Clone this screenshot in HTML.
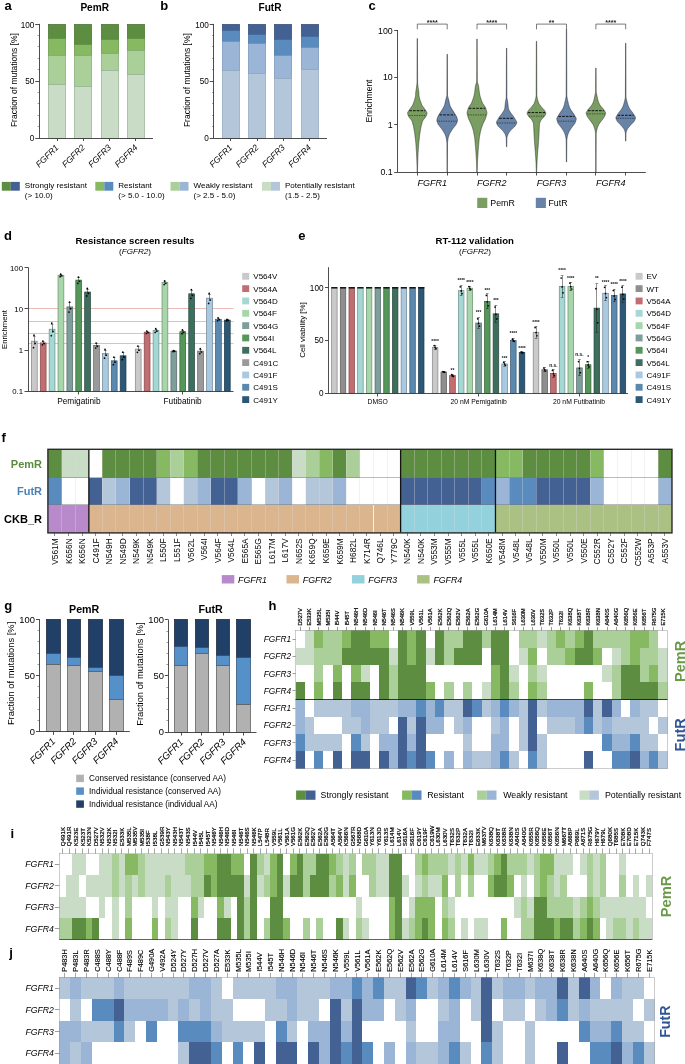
<!DOCTYPE html>
<html><head><meta charset="utf-8"><title>Figure</title>
<style>
html,body{margin:0;padding:0;background:#fff;}
svg{display:block;font-family:"Liberation Sans",sans-serif;}
</style></head><body>
<svg width="685" height="1064" viewBox="0 0 685 1064">
<rect x="0" y="0" width="685" height="1064" fill="#fff"/>
<text x="4.40" y="9.50" font-size="13" text-anchor="start" font-weight="bold" font-style="normal" fill="#000" >a</text>
<text x="94.70" y="10.80" font-size="10.1" text-anchor="middle" font-weight="bold" font-style="normal" fill="#000" >PemR</text>
<text x="160.20" y="9.60" font-size="13" text-anchor="start" font-weight="bold" font-style="normal" fill="#000" >b</text>
<text x="270.00" y="10.80" font-size="10.1" text-anchor="middle" font-weight="bold" font-style="normal" fill="#000" >FutR</text>
<rect x="48.50" y="24.50" width="17.00" height="14.00" fill="#5d8d40" stroke="#3f6a28" stroke-width="0.7" />
<rect x="48.50" y="38.50" width="17.00" height="17.00" fill="#86b961" stroke="#5f9040" stroke-width="0.7" />
<rect x="48.50" y="55.50" width="17.00" height="29.00" fill="#abcf99" stroke="#7fa870" stroke-width="0.7" />
<rect x="48.50" y="84.50" width="17.00" height="54.00" fill="#c9dcc5" stroke="#98b094" stroke-width="0.7" />
<rect x="74.50" y="24.50" width="17.00" height="20.00" fill="#5d8d40" stroke="#3f6a28" stroke-width="0.7" />
<rect x="74.50" y="44.50" width="17.00" height="11.00" fill="#86b961" stroke="#5f9040" stroke-width="0.7" />
<rect x="74.50" y="55.50" width="17.00" height="31.00" fill="#abcf99" stroke="#7fa870" stroke-width="0.7" />
<rect x="74.50" y="86.50" width="17.00" height="52.00" fill="#c9dcc5" stroke="#98b094" stroke-width="0.7" />
<rect x="101.50" y="24.50" width="17.00" height="15.00" fill="#5d8d40" stroke="#3f6a28" stroke-width="0.7" />
<rect x="101.50" y="39.50" width="17.00" height="14.00" fill="#86b961" stroke="#5f9040" stroke-width="0.7" />
<rect x="101.50" y="53.50" width="17.00" height="17.00" fill="#abcf99" stroke="#7fa870" stroke-width="0.7" />
<rect x="101.50" y="70.50" width="17.00" height="68.00" fill="#c9dcc5" stroke="#98b094" stroke-width="0.7" />
<rect x="127.50" y="24.50" width="17.00" height="14.00" fill="#5d8d40" stroke="#3f6a28" stroke-width="0.7" />
<rect x="127.50" y="38.50" width="17.00" height="12.00" fill="#86b961" stroke="#5f9040" stroke-width="0.7" />
<rect x="127.50" y="50.50" width="17.00" height="24.00" fill="#abcf99" stroke="#7fa870" stroke-width="0.7" />
<rect x="127.50" y="74.50" width="17.00" height="64.00" fill="#c9dcc5" stroke="#98b094" stroke-width="0.7" />
<line x1="39.50" y1="23.90" x2="39.50" y2="138.30" stroke="#3a3a3a" stroke-width="0.9" />
<line x1="39.10" y1="138.50" x2="153.00" y2="138.50" stroke="#3a3a3a" stroke-width="0.9" />
<line x1="35.20" y1="138.50" x2="39.40" y2="138.50" stroke="#3a3a3a" stroke-width="0.9" />
<text x="34.40" y="141.35" font-size="8.2" text-anchor="end" font-weight="normal" font-style="normal" fill="#000" >0</text>
<line x1="35.20" y1="81.50" x2="39.40" y2="81.50" stroke="#3a3a3a" stroke-width="0.9" />
<text x="34.40" y="84.45" font-size="8.2" text-anchor="end" font-weight="normal" font-style="normal" fill="#000" >50</text>
<line x1="35.20" y1="24.50" x2="39.40" y2="24.50" stroke="#3a3a3a" stroke-width="0.9" />
<text x="34.40" y="27.55" font-size="8.2" text-anchor="end" font-weight="normal" font-style="normal" fill="#000" >100</text>
<line x1="37.60" y1="126.50" x2="39.40" y2="126.50" stroke="#3a3a3a" stroke-width="0.5" />
<line x1="37.60" y1="115.50" x2="39.40" y2="115.50" stroke="#3a3a3a" stroke-width="0.5" />
<line x1="37.60" y1="103.50" x2="39.40" y2="103.50" stroke="#3a3a3a" stroke-width="0.5" />
<line x1="37.60" y1="92.50" x2="39.40" y2="92.50" stroke="#3a3a3a" stroke-width="0.5" />
<line x1="37.60" y1="69.50" x2="39.40" y2="69.50" stroke="#3a3a3a" stroke-width="0.5" />
<line x1="37.60" y1="58.50" x2="39.40" y2="58.50" stroke="#3a3a3a" stroke-width="0.5" />
<line x1="37.60" y1="46.50" x2="39.40" y2="46.50" stroke="#3a3a3a" stroke-width="0.5" />
<line x1="37.60" y1="35.50" x2="39.40" y2="35.50" stroke="#3a3a3a" stroke-width="0.5" />
<text x="16.80" y="80.10" font-size="8.5" text-anchor="middle" font-weight="normal" font-style="normal" fill="#000" transform="rotate(-90 16.80 80.10)" >Fraction of mutations [%]</text>
<line x1="57.50" y1="138.00" x2="57.50" y2="141.00" stroke="#3a3a3a" stroke-width="0.9" />
<text x="59.25" y="148.00" font-size="8.6" text-anchor="end" font-weight="normal" font-style="italic" fill="#000" transform="rotate(-45 59.25 148.00)" >FGFR1</text>
<line x1="83.50" y1="138.00" x2="83.50" y2="141.00" stroke="#3a3a3a" stroke-width="0.9" />
<text x="85.35" y="148.00" font-size="8.6" text-anchor="end" font-weight="normal" font-style="italic" fill="#000" transform="rotate(-45 85.35 148.00)" >FGFR2</text>
<line x1="109.50" y1="138.00" x2="109.50" y2="141.00" stroke="#3a3a3a" stroke-width="0.9" />
<text x="111.75" y="148.00" font-size="8.6" text-anchor="end" font-weight="normal" font-style="italic" fill="#000" transform="rotate(-45 111.75 148.00)" >FGFR3</text>
<line x1="135.50" y1="138.00" x2="135.50" y2="141.00" stroke="#3a3a3a" stroke-width="0.9" />
<text x="138.05" y="148.00" font-size="8.6" text-anchor="end" font-weight="normal" font-style="italic" fill="#000" transform="rotate(-45 138.05 148.00)" >FGFR4</text>
<rect x="222.50" y="24.50" width="17.00" height="6.00" fill="#446194" stroke="#2c4470" stroke-width="0.7" />
<rect x="222.50" y="30.50" width="17.00" height="11.00" fill="#5a8bbe" stroke="#3f6a98" stroke-width="0.7" />
<rect x="222.50" y="41.50" width="17.00" height="29.00" fill="#9ab5d6" stroke="#7090b8" stroke-width="0.7" />
<rect x="222.50" y="70.50" width="17.00" height="68.00" fill="#b4c7da" stroke="#8fa4bc" stroke-width="0.7" />
<rect x="248.50" y="24.50" width="17.00" height="10.00" fill="#446194" stroke="#2c4470" stroke-width="0.7" />
<rect x="248.50" y="34.50" width="17.00" height="9.00" fill="#5a8bbe" stroke="#3f6a98" stroke-width="0.7" />
<rect x="248.50" y="43.50" width="17.00" height="30.00" fill="#9ab5d6" stroke="#7090b8" stroke-width="0.7" />
<rect x="248.50" y="73.50" width="17.00" height="65.00" fill="#b4c7da" stroke="#8fa4bc" stroke-width="0.7" />
<rect x="274.50" y="24.50" width="17.00" height="15.00" fill="#446194" stroke="#2c4470" stroke-width="0.7" />
<rect x="274.50" y="39.50" width="17.00" height="16.00" fill="#5a8bbe" stroke="#3f6a98" stroke-width="0.7" />
<rect x="274.50" y="55.50" width="17.00" height="23.00" fill="#9ab5d6" stroke="#7090b8" stroke-width="0.7" />
<rect x="274.50" y="78.50" width="17.00" height="60.00" fill="#b4c7da" stroke="#8fa4bc" stroke-width="0.7" />
<rect x="301.50" y="24.50" width="17.00" height="12.00" fill="#446194" stroke="#2c4470" stroke-width="0.7" />
<rect x="301.50" y="36.50" width="17.00" height="11.00" fill="#5a8bbe" stroke="#3f6a98" stroke-width="0.7" />
<rect x="301.50" y="47.50" width="17.00" height="22.00" fill="#9ab5d6" stroke="#7090b8" stroke-width="0.7" />
<rect x="301.50" y="69.50" width="17.00" height="69.00" fill="#b4c7da" stroke="#8fa4bc" stroke-width="0.7" />
<line x1="213.50" y1="23.90" x2="213.50" y2="138.30" stroke="#3a3a3a" stroke-width="0.9" />
<line x1="213.60" y1="138.50" x2="327.00" y2="138.50" stroke="#3a3a3a" stroke-width="0.9" />
<line x1="209.70" y1="138.50" x2="213.90" y2="138.50" stroke="#3a3a3a" stroke-width="0.9" />
<text x="208.90" y="141.35" font-size="8.2" text-anchor="end" font-weight="normal" font-style="normal" fill="#000" >0</text>
<line x1="209.70" y1="81.50" x2="213.90" y2="81.50" stroke="#3a3a3a" stroke-width="0.9" />
<text x="208.90" y="84.45" font-size="8.2" text-anchor="end" font-weight="normal" font-style="normal" fill="#000" >50</text>
<line x1="209.70" y1="24.50" x2="213.90" y2="24.50" stroke="#3a3a3a" stroke-width="0.9" />
<text x="208.90" y="27.55" font-size="8.2" text-anchor="end" font-weight="normal" font-style="normal" fill="#000" >100</text>
<line x1="212.10" y1="126.50" x2="213.90" y2="126.50" stroke="#3a3a3a" stroke-width="0.5" />
<line x1="212.10" y1="115.50" x2="213.90" y2="115.50" stroke="#3a3a3a" stroke-width="0.5" />
<line x1="212.10" y1="103.50" x2="213.90" y2="103.50" stroke="#3a3a3a" stroke-width="0.5" />
<line x1="212.10" y1="92.50" x2="213.90" y2="92.50" stroke="#3a3a3a" stroke-width="0.5" />
<line x1="212.10" y1="69.50" x2="213.90" y2="69.50" stroke="#3a3a3a" stroke-width="0.5" />
<line x1="212.10" y1="58.50" x2="213.90" y2="58.50" stroke="#3a3a3a" stroke-width="0.5" />
<line x1="212.10" y1="46.50" x2="213.90" y2="46.50" stroke="#3a3a3a" stroke-width="0.5" />
<line x1="212.10" y1="35.50" x2="213.90" y2="35.50" stroke="#3a3a3a" stroke-width="0.5" />
<text x="190.00" y="80.10" font-size="8.5" text-anchor="middle" font-weight="normal" font-style="normal" fill="#000" transform="rotate(-90 190.00 80.10)" >Fraction of mutations [%]</text>
<line x1="230.50" y1="138.00" x2="230.50" y2="141.00" stroke="#3a3a3a" stroke-width="0.9" />
<text x="232.95" y="148.00" font-size="8.6" text-anchor="end" font-weight="normal" font-style="italic" fill="#000" transform="rotate(-45 232.95 148.00)" >FGFR1</text>
<line x1="257.50" y1="138.00" x2="257.50" y2="141.00" stroke="#3a3a3a" stroke-width="0.9" />
<text x="259.25" y="148.00" font-size="8.6" text-anchor="end" font-weight="normal" font-style="italic" fill="#000" transform="rotate(-45 259.25 148.00)" >FGFR2</text>
<line x1="283.50" y1="138.00" x2="283.50" y2="141.00" stroke="#3a3a3a" stroke-width="0.9" />
<text x="285.35" y="148.00" font-size="8.6" text-anchor="end" font-weight="normal" font-style="italic" fill="#000" transform="rotate(-45 285.35 148.00)" >FGFR3</text>
<line x1="309.50" y1="138.00" x2="309.50" y2="141.00" stroke="#3a3a3a" stroke-width="0.9" />
<text x="311.75" y="148.00" font-size="8.6" text-anchor="end" font-weight="normal" font-style="italic" fill="#000" transform="rotate(-45 311.75 148.00)" >FGFR4</text>
<rect x="1.80" y="181.90" width="9.00" height="8.80" fill="#5d8d40" />
<rect x="10.80" y="181.90" width="9.00" height="8.80" fill="#446194" />
<text x="24.80" y="188.30" font-size="8.05" text-anchor="start" font-weight="normal" font-style="normal" fill="#000" >Strongly resistant</text>
<text x="24.80" y="197.80" font-size="8.05" text-anchor="start" font-weight="normal" font-style="normal" fill="#000" >(&gt; 10.0)</text>
<rect x="95.30" y="181.90" width="9.00" height="8.80" fill="#86b961" />
<rect x="104.30" y="181.90" width="9.00" height="8.80" fill="#5a8bbe" />
<text x="118.30" y="188.30" font-size="8.05" text-anchor="start" font-weight="normal" font-style="normal" fill="#000" >Resistant</text>
<text x="118.30" y="197.80" font-size="8.05" text-anchor="start" font-weight="normal" font-style="normal" fill="#000" >(&gt; 5.0 - 10.0)</text>
<rect x="170.50" y="181.90" width="9.00" height="8.80" fill="#abcf99" />
<rect x="179.50" y="181.90" width="9.00" height="8.80" fill="#9ab5d6" />
<text x="193.50" y="188.30" font-size="8.05" text-anchor="start" font-weight="normal" font-style="normal" fill="#000" >Weakly resistant</text>
<text x="193.50" y="197.80" font-size="8.05" text-anchor="start" font-weight="normal" font-style="normal" fill="#000" >(&gt; 2.5 - 5.0)</text>
<rect x="262.00" y="181.90" width="9.00" height="8.80" fill="#c9dcc5" />
<rect x="271.00" y="181.90" width="9.00" height="8.80" fill="#b4c7da" />
<text x="285.00" y="188.30" font-size="8.05" text-anchor="start" font-weight="normal" font-style="normal" fill="#000" >Potentially resistant</text>
<text x="285.00" y="197.80" font-size="8.05" text-anchor="start" font-weight="normal" font-style="normal" fill="#000" >(1.5 - 2.5)</text>
<text x="368.50" y="10.00" font-size="13" text-anchor="start" font-weight="bold" font-style="normal" fill="#000" >c</text>
<line x1="397.50" y1="30.00" x2="397.50" y2="172.30" stroke="#3a3a3a" stroke-width="0.9" />
<line x1="397.40" y1="172.50" x2="645.80" y2="172.50" stroke="#3a3a3a" stroke-width="0.9" />
<line x1="394.20" y1="30.50" x2="397.70" y2="30.50" stroke="#3a3a3a" stroke-width="0.9" />
<text x="392.70" y="33.50" font-size="8.8" text-anchor="end" font-weight="normal" font-style="normal" fill="#000" >100</text>
<line x1="394.20" y1="77.50" x2="397.70" y2="77.50" stroke="#3a3a3a" stroke-width="0.9" />
<text x="392.70" y="80.40" font-size="8.8" text-anchor="end" font-weight="normal" font-style="normal" fill="#000" >10</text>
<line x1="394.20" y1="124.50" x2="397.70" y2="124.50" stroke="#3a3a3a" stroke-width="0.9" />
<text x="392.70" y="128.00" font-size="8.8" text-anchor="end" font-weight="normal" font-style="normal" fill="#000" >1</text>
<line x1="394.20" y1="172.50" x2="397.70" y2="172.50" stroke="#3a3a3a" stroke-width="0.9" />
<text x="392.70" y="175.20" font-size="8.8" text-anchor="end" font-weight="normal" font-style="normal" fill="#000" >0.1</text>
<text x="371.70" y="101.00" font-size="8.5" text-anchor="middle" font-weight="normal" font-style="normal" fill="#000" transform="rotate(-90 371.70 101.00)" >Enrichment</text>
<polygon points="417.15,38.50 417.15,39.00 417.15,39.50 417.14,39.99 417.14,40.49 417.14,40.99 417.14,41.49 417.14,41.99 417.14,42.49 417.13,42.98 417.13,43.48 417.13,43.98 417.13,44.48 417.13,44.98 417.13,45.47 417.12,45.97 417.12,46.47 417.12,46.97 417.12,47.47 417.12,47.96 417.12,48.46 417.11,48.96 417.11,49.46 417.11,49.96 417.11,50.46 417.11,50.95 417.11,51.45 417.10,51.95 417.10,52.45 417.10,52.95 417.10,53.44 417.10,53.94 417.10,54.44 417.09,54.94 417.09,55.44 417.09,55.93 417.09,56.43 417.09,56.93 417.09,57.43 417.08,57.93 417.08,58.43 417.08,58.92 417.08,59.42 417.08,59.92 417.08,60.42 417.07,60.92 417.07,61.41 417.07,61.91 417.07,62.41 417.07,62.91 417.07,63.41 417.06,63.90 417.06,64.40 417.06,64.90 417.06,65.40 417.06,65.90 417.06,66.40 417.05,66.89 417.05,67.39 417.05,67.89 417.05,68.39 417.05,68.89 417.05,69.38 417.04,69.88 417.04,70.38 417.04,70.88 417.04,71.38 417.04,71.88 417.04,72.37 417.03,72.87 417.03,73.37 417.03,73.87 417.03,74.37 417.03,74.86 417.03,75.36 417.02,75.86 417.02,76.36 417.02,76.86 417.02,77.35 417.02,77.85 417.02,78.35 417.01,78.85 417.01,79.35 417.01,79.85 417.01,80.34 417.01,80.84 417.01,81.34 417.00,81.84 416.99,82.34 416.97,82.83 416.94,83.33 416.90,83.83 416.84,84.33 416.79,84.83 416.73,85.32 416.67,85.82 416.61,86.32 416.55,86.82 416.50,87.32 416.44,87.82 416.37,88.31 416.30,88.81 416.22,89.31 416.13,89.81 416.04,90.31 415.94,90.80 415.85,91.30 415.78,91.80 415.73,92.30 415.69,92.80 415.67,93.29 415.66,93.79 415.64,94.29 415.63,94.79 415.60,95.29 415.56,95.79 415.48,96.28 415.39,96.78 415.28,97.28 415.15,97.78 415.03,98.28 414.90,98.77 414.77,99.27 414.63,99.77 414.48,100.27 414.31,100.77 414.13,101.26 413.95,101.76 413.76,102.26 413.58,102.76 413.39,103.26 413.21,103.76 413.01,104.25 412.80,104.75 412.56,105.25 412.27,105.75 411.93,106.25 411.57,106.74 411.19,107.24 410.81,107.74 410.44,108.24 410.07,108.74 409.72,109.24 409.38,109.73 409.05,110.23 408.73,110.73 408.42,111.23 408.12,111.73 407.86,112.22 407.67,112.72 407.60,113.22 407.64,113.72 407.77,114.22 407.93,114.71 408.12,115.21 408.31,115.71 408.53,116.21 408.79,116.71 409.11,117.21 409.48,117.70 409.89,118.20 410.30,118.70 410.71,119.20 411.11,119.70 411.47,120.19 411.78,120.69 412.01,121.19 412.19,121.69 412.34,122.19 412.49,122.68 412.63,123.18 412.76,123.68 412.90,124.18 413.04,124.68 413.18,125.18 413.31,125.67 413.44,126.17 413.54,126.67 413.64,127.17 413.73,127.67 413.81,128.16 413.90,128.66 413.98,129.16 414.07,129.66 414.15,130.16 414.24,130.65 414.32,131.15 414.40,131.65 414.49,132.15 414.57,132.65 414.65,133.15 414.73,133.64 414.80,134.14 414.87,134.64 414.93,135.14 414.98,135.64 415.04,136.13 415.09,136.63 415.15,137.13 415.20,137.63 415.26,138.13 415.31,138.62 415.37,139.12 415.42,139.62 415.48,140.12 415.54,140.62 415.59,141.12 415.65,141.61 415.70,142.11 415.75,142.61 415.80,143.11 415.84,143.61 415.88,144.10 415.91,144.60 415.95,145.10 415.98,145.60 416.02,146.10 416.05,146.60 416.09,147.09 416.12,147.59 416.16,148.09 416.19,148.59 416.23,149.09 416.26,149.58 416.30,150.08 416.33,150.58 416.37,151.08 416.40,151.58 416.43,152.07 416.47,152.57 416.50,153.07 416.52,153.57 416.55,154.07 416.57,154.57 416.59,155.06 416.61,155.56 416.64,156.06 416.66,156.56 416.68,157.06 416.70,157.55 416.72,158.05 416.75,158.55 416.77,159.05 416.79,159.55 416.81,160.04 416.84,160.54 416.86,161.04 416.88,161.54 416.90,162.04 416.91,162.54 416.93,163.03 416.94,163.53 416.95,164.03 416.96,164.53 416.98,165.03 416.99,165.52 417.00,166.02 417.01,166.52 417.03,167.02 417.04,167.52 417.05,168.01 417.06,168.51 417.08,169.01 417.09,169.51 417.10,170.01 417.11,170.51 417.12,171.00 417.13,171.50 417.14,172.00 417.46,172.00 417.47,171.50 417.48,171.00 417.49,170.51 417.50,170.01 417.51,169.51 417.52,169.01 417.54,168.51 417.55,168.01 417.56,167.52 417.57,167.02 417.59,166.52 417.60,166.02 417.61,165.52 417.62,165.03 417.64,164.53 417.65,164.03 417.66,163.53 417.67,163.03 417.69,162.54 417.70,162.04 417.72,161.54 417.74,161.04 417.76,160.54 417.79,160.04 417.81,159.55 417.83,159.05 417.85,158.55 417.88,158.05 417.90,157.55 417.92,157.06 417.94,156.56 417.96,156.06 417.99,155.56 418.01,155.06 418.03,154.57 418.05,154.07 418.08,153.57 418.10,153.07 418.13,152.57 418.17,152.07 418.20,151.58 418.23,151.08 418.27,150.58 418.30,150.08 418.34,149.58 418.37,149.09 418.41,148.59 418.44,148.09 418.48,147.59 418.51,147.09 418.55,146.60 418.58,146.10 418.62,145.60 418.65,145.10 418.69,144.60 418.72,144.10 418.76,143.61 418.80,143.11 418.85,142.61 418.90,142.11 418.95,141.61 419.01,141.12 419.06,140.62 419.12,140.12 419.18,139.62 419.23,139.12 419.29,138.62 419.34,138.13 419.40,137.63 419.45,137.13 419.51,136.63 419.56,136.13 419.62,135.64 419.67,135.14 419.73,134.64 419.80,134.14 419.87,133.64 419.95,133.15 420.03,132.65 420.11,132.15 420.20,131.65 420.28,131.15 420.36,130.65 420.45,130.16 420.53,129.66 420.62,129.16 420.70,128.66 420.79,128.16 420.87,127.67 420.96,127.17 421.06,126.67 421.16,126.17 421.29,125.67 421.42,125.18 421.56,124.68 421.70,124.18 421.84,123.68 421.97,123.18 422.11,122.68 422.26,122.19 422.41,121.69 422.59,121.19 422.82,120.69 423.13,120.19 423.49,119.70 423.89,119.20 424.30,118.70 424.71,118.20 425.12,117.70 425.49,117.21 425.81,116.71 426.07,116.21 426.29,115.71 426.48,115.21 426.67,114.71 426.83,114.22 426.96,113.72 427.00,113.22 426.93,112.72 426.74,112.22 426.48,111.73 426.18,111.23 425.87,110.73 425.55,110.23 425.22,109.73 424.88,109.24 424.53,108.74 424.16,108.24 423.79,107.74 423.41,107.24 423.03,106.74 422.67,106.25 422.33,105.75 422.04,105.25 421.80,104.75 421.59,104.25 421.39,103.76 421.21,103.26 421.02,102.76 420.84,102.26 420.65,101.76 420.47,101.26 420.29,100.77 420.12,100.27 419.97,99.77 419.83,99.27 419.70,98.77 419.57,98.28 419.45,97.78 419.32,97.28 419.21,96.78 419.12,96.28 419.04,95.79 419.00,95.29 418.97,94.79 418.96,94.29 418.94,93.79 418.93,93.29 418.91,92.80 418.87,92.30 418.82,91.80 418.75,91.30 418.66,90.80 418.56,90.31 418.47,89.81 418.38,89.31 418.30,88.81 418.23,88.31 418.16,87.82 418.10,87.32 418.05,86.82 417.99,86.32 417.93,85.82 417.87,85.32 417.81,84.83 417.76,84.33 417.70,83.83 417.66,83.33 417.63,82.83 417.61,82.34 417.60,81.84 417.59,81.34 417.59,80.84 417.59,80.34 417.59,79.85 417.59,79.35 417.59,78.85 417.58,78.35 417.58,77.85 417.58,77.35 417.58,76.86 417.58,76.36 417.58,75.86 417.57,75.36 417.57,74.86 417.57,74.37 417.57,73.87 417.57,73.37 417.57,72.87 417.56,72.37 417.56,71.88 417.56,71.38 417.56,70.88 417.56,70.38 417.56,69.88 417.55,69.38 417.55,68.89 417.55,68.39 417.55,67.89 417.55,67.39 417.55,66.89 417.54,66.40 417.54,65.90 417.54,65.40 417.54,64.90 417.54,64.40 417.54,63.90 417.53,63.41 417.53,62.91 417.53,62.41 417.53,61.91 417.53,61.41 417.53,60.92 417.52,60.42 417.52,59.92 417.52,59.42 417.52,58.92 417.52,58.43 417.52,57.93 417.51,57.43 417.51,56.93 417.51,56.43 417.51,55.93 417.51,55.44 417.51,54.94 417.50,54.44 417.50,53.94 417.50,53.44 417.50,52.95 417.50,52.45 417.50,51.95 417.49,51.45 417.49,50.95 417.49,50.46 417.49,49.96 417.49,49.46 417.49,48.96 417.48,48.46 417.48,47.96 417.48,47.47 417.48,46.97 417.48,46.47 417.48,45.97 417.47,45.47 417.47,44.98 417.47,44.48 417.47,43.98 417.47,43.48 417.47,42.98 417.46,42.49 417.46,41.99 417.46,41.49 417.46,40.99 417.46,40.49 417.46,39.99 417.45,39.50 417.45,39.00 417.45,38.50" fill="#7a9e62" stroke="#111" stroke-width="0.45" stroke-linejoin="round"/>
<line x1="409.35" y1="110.70" x2="425.25" y2="110.70" stroke="#111" stroke-width="1.0" stroke-dasharray="2.6 1.1"/>
<line x1="408.83" y1="115.50" x2="425.77" y2="115.50" stroke="#111" stroke-width="0.7" stroke-dasharray="0.8 0.9"/>
<polygon points="447.05,54.20 447.05,54.70 447.05,55.20 447.04,55.70 447.04,56.20 447.04,56.70 447.04,57.19 447.04,57.69 447.04,58.19 447.03,58.69 447.03,59.19 447.03,59.69 447.03,60.19 447.03,60.69 447.02,61.19 447.02,61.69 447.02,62.19 447.02,62.69 447.02,63.18 447.02,63.68 447.01,64.18 447.01,64.68 447.01,65.18 447.01,65.68 447.01,66.18 447.00,66.68 447.00,67.18 447.00,67.68 447.00,68.18 447.00,68.68 447.00,69.17 446.99,69.67 446.99,70.17 446.99,70.67 446.99,71.17 446.99,71.67 446.98,72.17 446.98,72.67 446.98,73.17 446.98,73.67 446.98,74.17 446.98,74.67 446.97,75.16 446.97,75.66 446.97,76.16 446.97,76.66 446.97,77.16 446.96,77.66 446.96,78.16 446.96,78.66 446.96,79.16 446.96,79.66 446.96,80.16 446.95,80.66 446.95,81.15 446.95,81.65 446.95,82.15 446.95,82.65 446.95,83.15 446.94,83.65 446.94,84.15 446.94,84.65 446.94,85.15 446.94,85.65 446.93,86.15 446.93,86.64 446.93,87.14 446.93,87.64 446.93,88.14 446.93,88.64 446.92,89.14 446.92,89.64 446.92,90.14 446.92,90.64 446.92,91.14 446.91,91.64 446.91,92.14 446.91,92.63 446.91,93.13 446.91,93.63 446.90,94.13 446.89,94.63 446.87,95.13 446.81,95.63 446.72,96.13 446.61,96.63 446.48,97.13 446.34,97.63 446.21,98.13 446.07,98.62 445.94,99.12 445.81,99.62 445.69,100.12 445.58,100.62 445.47,101.12 445.36,101.62 445.25,102.12 445.15,102.62 445.04,103.12 444.93,103.62 444.82,104.12 444.70,104.61 444.56,105.11 444.39,105.61 444.18,106.11 443.93,106.61 443.66,107.11 443.38,107.61 443.10,108.11 442.82,108.61 442.52,109.11 442.22,109.61 441.90,110.11 441.58,110.60 441.25,111.10 440.92,111.60 440.59,112.10 440.27,112.60 439.95,113.10 439.64,113.60 439.34,114.10 439.03,114.60 438.73,115.10 438.44,115.60 438.15,116.09 437.90,116.59 437.69,117.09 437.51,117.59 437.37,118.09 437.23,118.59 437.10,119.09 436.99,119.59 436.91,120.09 436.89,120.59 436.96,121.09 437.09,121.59 437.25,122.08 437.43,122.58 437.62,123.08 437.83,123.58 438.06,124.08 438.35,124.58 438.69,125.08 439.06,125.58 439.46,126.08 439.86,126.58 440.26,127.08 440.67,127.58 441.07,128.07 441.45,128.57 441.82,129.07 442.17,129.57 442.50,130.07 442.82,130.57 443.13,131.07 443.44,131.57 443.75,132.07 444.06,132.57 444.36,133.07 444.64,133.57 444.89,134.06 445.11,134.56 445.30,135.06 445.48,135.56 445.66,136.06 445.83,136.56 445.99,137.06 446.12,137.56 446.24,138.06 446.33,138.56 446.40,139.06 446.47,139.56 446.54,140.05 446.61,140.55 446.68,141.05 446.75,141.55 446.81,142.05 446.85,142.55 446.88,143.05 446.90,143.55 446.91,144.05 446.91,144.55 446.91,145.05 446.92,145.54 446.92,146.04 446.92,146.54 446.92,147.04 446.93,147.54 446.93,148.04 446.93,148.54 446.93,149.04 446.94,149.54 446.94,150.04 446.94,150.54 446.94,151.04 446.95,151.53 446.95,152.03 446.95,152.53 446.95,153.03 446.96,153.53 446.96,154.03 446.96,154.53 446.96,155.03 446.97,155.53 446.97,156.03 446.97,156.53 446.97,157.03 446.98,157.52 446.98,158.02 446.98,158.52 446.98,159.02 446.99,159.52 446.99,160.02 446.99,160.52 446.99,161.02 447.00,161.52 447.00,162.02 447.00,162.52 447.00,163.02 447.01,163.51 447.01,164.01 447.01,164.51 447.01,165.01 447.02,165.51 447.02,166.01 447.02,166.51 447.02,167.01 447.03,167.51 447.03,168.01 447.03,168.51 447.03,169.01 447.04,169.50 447.04,170.00 447.04,170.50 447.04,171.00 447.05,171.50 447.05,172.00 447.35,172.00 447.35,171.50 447.36,171.00 447.36,170.50 447.36,170.00 447.36,169.50 447.37,169.01 447.37,168.51 447.37,168.01 447.37,167.51 447.38,167.01 447.38,166.51 447.38,166.01 447.38,165.51 447.39,165.01 447.39,164.51 447.39,164.01 447.39,163.51 447.40,163.02 447.40,162.52 447.40,162.02 447.40,161.52 447.41,161.02 447.41,160.52 447.41,160.02 447.41,159.52 447.42,159.02 447.42,158.52 447.42,158.02 447.42,157.52 447.43,157.03 447.43,156.53 447.43,156.03 447.43,155.53 447.44,155.03 447.44,154.53 447.44,154.03 447.44,153.53 447.45,153.03 447.45,152.53 447.45,152.03 447.45,151.53 447.46,151.04 447.46,150.54 447.46,150.04 447.46,149.54 447.47,149.04 447.47,148.54 447.47,148.04 447.47,147.54 447.48,147.04 447.48,146.54 447.48,146.04 447.48,145.54 447.49,145.05 447.49,144.55 447.49,144.05 447.50,143.55 447.52,143.05 447.55,142.55 447.59,142.05 447.65,141.55 447.72,141.05 447.79,140.55 447.86,140.05 447.93,139.56 448.00,139.06 448.07,138.56 448.16,138.06 448.28,137.56 448.41,137.06 448.57,136.56 448.74,136.06 448.92,135.56 449.10,135.06 449.29,134.56 449.51,134.06 449.76,133.57 450.04,133.07 450.34,132.57 450.65,132.07 450.96,131.57 451.27,131.07 451.58,130.57 451.90,130.07 452.23,129.57 452.58,129.07 452.95,128.57 453.33,128.07 453.73,127.58 454.14,127.08 454.54,126.58 454.94,126.08 455.34,125.58 455.71,125.08 456.05,124.58 456.34,124.08 456.57,123.58 456.78,123.08 456.97,122.58 457.15,122.08 457.31,121.59 457.44,121.09 457.51,120.59 457.49,120.09 457.41,119.59 457.30,119.09 457.17,118.59 457.03,118.09 456.89,117.59 456.71,117.09 456.50,116.59 456.25,116.09 455.96,115.60 455.67,115.10 455.37,114.60 455.06,114.10 454.76,113.60 454.45,113.10 454.13,112.60 453.81,112.10 453.48,111.60 453.15,111.10 452.82,110.60 452.50,110.11 452.18,109.61 451.88,109.11 451.58,108.61 451.30,108.11 451.02,107.61 450.74,107.11 450.47,106.61 450.22,106.11 450.01,105.61 449.84,105.11 449.70,104.61 449.58,104.12 449.47,103.62 449.36,103.12 449.25,102.62 449.15,102.12 449.04,101.62 448.93,101.12 448.82,100.62 448.71,100.12 448.59,99.62 448.46,99.12 448.33,98.62 448.19,98.13 448.06,97.63 447.92,97.13 447.79,96.63 447.68,96.13 447.59,95.63 447.53,95.13 447.51,94.63 447.50,94.13 447.49,93.63 447.49,93.13 447.49,92.63 447.49,92.14 447.49,91.64 447.48,91.14 447.48,90.64 447.48,90.14 447.48,89.64 447.48,89.14 447.47,88.64 447.47,88.14 447.47,87.64 447.47,87.14 447.47,86.64 447.47,86.15 447.46,85.65 447.46,85.15 447.46,84.65 447.46,84.15 447.46,83.65 447.45,83.15 447.45,82.65 447.45,82.15 447.45,81.65 447.45,81.15 447.45,80.66 447.44,80.16 447.44,79.66 447.44,79.16 447.44,78.66 447.44,78.16 447.44,77.66 447.43,77.16 447.43,76.66 447.43,76.16 447.43,75.66 447.43,75.16 447.42,74.67 447.42,74.17 447.42,73.67 447.42,73.17 447.42,72.67 447.42,72.17 447.41,71.67 447.41,71.17 447.41,70.67 447.41,70.17 447.41,69.67 447.40,69.17 447.40,68.68 447.40,68.18 447.40,67.68 447.40,67.18 447.40,66.68 447.39,66.18 447.39,65.68 447.39,65.18 447.39,64.68 447.39,64.18 447.38,63.68 447.38,63.18 447.38,62.69 447.38,62.19 447.38,61.69 447.38,61.19 447.37,60.69 447.37,60.19 447.37,59.69 447.37,59.19 447.37,58.69 447.36,58.19 447.36,57.69 447.36,57.19 447.36,56.70 447.36,56.20 447.36,55.70 447.35,55.20 447.35,54.70 447.35,54.20" fill="#6783a8" stroke="#111" stroke-width="0.45" stroke-linejoin="round"/>
<line x1="439.45" y1="114.90" x2="454.95" y2="114.90" stroke="#111" stroke-width="1.0" stroke-dasharray="2.6 1.1"/>
<line x1="437.59" y1="121.20" x2="456.81" y2="121.20" stroke="#111" stroke-width="0.7" stroke-dasharray="0.8 0.9"/>
<polygon points="476.85,39.00 476.85,39.50 476.85,40.00 476.84,40.49 476.84,40.99 476.84,41.49 476.84,41.99 476.84,42.49 476.84,42.99 476.83,43.48 476.83,43.98 476.83,44.48 476.83,44.98 476.83,45.48 476.83,45.97 476.82,46.47 476.82,46.97 476.82,47.47 476.82,47.97 476.82,48.46 476.82,48.96 476.81,49.46 476.81,49.96 476.81,50.46 476.81,50.96 476.81,51.45 476.80,51.95 476.80,52.45 476.80,52.95 476.80,53.45 476.80,53.94 476.80,54.44 476.79,54.94 476.79,55.44 476.79,55.94 476.79,56.43 476.79,56.93 476.79,57.43 476.78,57.93 476.78,58.43 476.78,58.93 476.78,59.42 476.78,59.92 476.78,60.42 476.77,60.92 476.77,61.42 476.77,61.91 476.77,62.41 476.77,62.91 476.76,63.41 476.76,63.91 476.76,64.40 476.76,64.90 476.76,65.40 476.76,65.90 476.75,66.40 476.75,66.90 476.75,67.39 476.75,67.89 476.75,68.39 476.75,68.89 476.74,69.39 476.74,69.88 476.74,70.38 476.74,70.88 476.74,71.38 476.74,71.88 476.73,72.37 476.73,72.87 476.73,73.37 476.73,73.87 476.73,74.37 476.72,74.87 476.72,75.36 476.72,75.86 476.72,76.36 476.72,76.86 476.72,77.36 476.71,77.85 476.71,78.35 476.71,78.85 476.71,79.35 476.71,79.85 476.70,80.34 476.70,80.84 476.67,81.34 476.62,81.84 476.52,82.34 476.39,82.84 476.24,83.33 476.07,83.83 475.91,84.33 475.75,84.83 475.61,85.33 475.50,85.82 475.41,86.32 475.34,86.82 475.28,87.32 475.21,87.82 475.15,88.31 475.09,88.81 475.03,89.31 474.97,89.81 474.91,90.31 474.85,90.81 474.78,91.30 474.71,91.80 474.64,92.30 474.56,92.80 474.47,93.30 474.39,93.79 474.30,94.29 474.21,94.79 474.11,95.29 474.00,95.79 473.88,96.28 473.74,96.78 473.58,97.28 473.42,97.78 473.26,98.28 473.10,98.78 472.93,99.27 472.75,99.77 472.57,100.27 472.38,100.77 472.18,101.27 471.98,101.76 471.78,102.26 471.57,102.76 471.32,103.26 471.04,103.76 470.72,104.25 470.37,104.75 470.01,105.25 469.65,105.75 469.29,106.25 468.96,106.75 468.67,107.24 468.44,107.74 468.26,108.24 468.10,108.74 467.96,109.24 467.82,109.73 467.68,110.23 467.54,110.73 467.40,111.23 467.27,111.73 467.16,112.22 467.09,112.72 467.09,113.22 467.15,113.72 467.25,114.22 467.38,114.72 467.52,115.21 467.66,115.71 467.80,116.21 467.94,116.71 468.08,117.21 468.23,117.70 468.38,118.20 468.56,118.70 468.77,119.20 469.00,119.70 469.24,120.19 469.48,120.69 469.72,121.19 469.97,121.69 470.21,122.19 470.46,122.69 470.70,123.18 470.94,123.68 471.16,124.18 471.36,124.68 471.55,125.18 471.73,125.67 471.90,126.17 472.07,126.67 472.24,127.17 472.41,127.67 472.58,128.16 472.74,128.66 472.91,129.16 473.06,129.66 473.20,130.16 473.31,130.66 473.42,131.15 473.52,131.65 473.62,132.15 473.72,132.65 473.81,133.15 473.91,133.64 474.01,134.14 474.10,134.64 474.20,135.14 474.30,135.64 474.39,136.13 474.49,136.63 474.58,137.13 474.66,137.63 474.72,138.13 474.78,138.63 474.82,139.12 474.87,139.62 474.91,140.12 474.96,140.62 475.00,141.12 475.05,141.61 475.09,142.11 475.13,142.61 475.18,143.11 475.22,143.61 475.27,144.10 475.31,144.60 475.35,145.10 475.40,145.60 475.44,146.10 475.49,146.60 475.53,147.09 475.58,147.59 475.62,148.09 475.66,148.59 475.70,149.09 475.73,149.58 475.77,150.08 475.80,150.58 475.83,151.08 475.86,151.58 475.89,152.07 475.92,152.57 475.95,153.07 475.98,153.57 476.01,154.07 476.04,154.57 476.07,155.06 476.10,155.56 476.13,156.06 476.16,156.56 476.19,157.06 476.23,157.55 476.26,158.05 476.29,158.55 476.32,159.05 476.35,159.55 476.37,160.04 476.40,160.54 476.42,161.04 476.44,161.54 476.46,162.04 476.48,162.54 476.50,163.03 476.52,163.53 476.54,164.03 476.56,164.53 476.58,165.03 476.60,165.52 476.62,166.02 476.64,166.52 476.66,167.02 476.68,167.52 476.70,168.01 476.71,168.51 476.73,169.01 476.75,169.51 476.77,170.01 476.79,170.51 476.81,171.00 476.83,171.50 476.84,172.00 477.16,172.00 477.17,171.50 477.19,171.00 477.21,170.51 477.23,170.01 477.25,169.51 477.27,169.01 477.29,168.51 477.30,168.01 477.32,167.52 477.34,167.02 477.36,166.52 477.38,166.02 477.40,165.52 477.42,165.03 477.44,164.53 477.46,164.03 477.48,163.53 477.50,163.03 477.52,162.54 477.54,162.04 477.56,161.54 477.58,161.04 477.60,160.54 477.63,160.04 477.65,159.55 477.68,159.05 477.71,158.55 477.74,158.05 477.77,157.55 477.81,157.06 477.84,156.56 477.87,156.06 477.90,155.56 477.93,155.06 477.96,154.57 477.99,154.07 478.02,153.57 478.05,153.07 478.08,152.57 478.11,152.07 478.14,151.58 478.17,151.08 478.20,150.58 478.23,150.08 478.27,149.58 478.30,149.09 478.34,148.59 478.38,148.09 478.42,147.59 478.47,147.09 478.51,146.60 478.56,146.10 478.60,145.60 478.65,145.10 478.69,144.60 478.73,144.10 478.78,143.61 478.82,143.11 478.87,142.61 478.91,142.11 478.95,141.61 479.00,141.12 479.04,140.62 479.09,140.12 479.13,139.62 479.18,139.12 479.22,138.63 479.28,138.13 479.34,137.63 479.42,137.13 479.51,136.63 479.61,136.13 479.70,135.64 479.80,135.14 479.90,134.64 479.99,134.14 480.09,133.64 480.19,133.15 480.28,132.65 480.38,132.15 480.48,131.65 480.58,131.15 480.69,130.66 480.80,130.16 480.94,129.66 481.09,129.16 481.26,128.66 481.42,128.16 481.59,127.67 481.76,127.17 481.93,126.67 482.10,126.17 482.27,125.67 482.45,125.18 482.64,124.68 482.84,124.18 483.06,123.68 483.30,123.18 483.54,122.69 483.79,122.19 484.03,121.69 484.28,121.19 484.52,120.69 484.76,120.19 485.00,119.70 485.23,119.20 485.44,118.70 485.62,118.20 485.77,117.70 485.92,117.21 486.06,116.71 486.20,116.21 486.34,115.71 486.48,115.21 486.62,114.72 486.75,114.22 486.85,113.72 486.91,113.22 486.91,112.72 486.84,112.22 486.73,111.73 486.60,111.23 486.46,110.73 486.32,110.23 486.18,109.73 486.04,109.24 485.90,108.74 485.74,108.24 485.56,107.74 485.33,107.24 485.04,106.75 484.71,106.25 484.35,105.75 483.99,105.25 483.63,104.75 483.28,104.25 482.96,103.76 482.68,103.26 482.43,102.76 482.22,102.26 482.02,101.76 481.82,101.27 481.62,100.77 481.43,100.27 481.25,99.77 481.07,99.27 480.90,98.78 480.74,98.28 480.58,97.78 480.42,97.28 480.26,96.78 480.12,96.28 480.00,95.79 479.89,95.29 479.79,94.79 479.70,94.29 479.61,93.79 479.53,93.30 479.44,92.80 479.36,92.30 479.29,91.80 479.22,91.30 479.15,90.81 479.09,90.31 479.03,89.81 478.97,89.31 478.91,88.81 478.85,88.31 478.79,87.82 478.72,87.32 478.66,86.82 478.59,86.32 478.50,85.82 478.39,85.33 478.25,84.83 478.09,84.33 477.93,83.83 477.76,83.33 477.61,82.84 477.48,82.34 477.38,81.84 477.33,81.34 477.30,80.84 477.30,80.34 477.29,79.85 477.29,79.35 477.29,78.85 477.29,78.35 477.29,77.85 477.28,77.36 477.28,76.86 477.28,76.36 477.28,75.86 477.28,75.36 477.28,74.87 477.27,74.37 477.27,73.87 477.27,73.37 477.27,72.87 477.27,72.37 477.26,71.88 477.26,71.38 477.26,70.88 477.26,70.38 477.26,69.88 477.26,69.39 477.25,68.89 477.25,68.39 477.25,67.89 477.25,67.39 477.25,66.90 477.25,66.40 477.24,65.90 477.24,65.40 477.24,64.90 477.24,64.40 477.24,63.91 477.24,63.41 477.23,62.91 477.23,62.41 477.23,61.91 477.23,61.42 477.23,60.92 477.22,60.42 477.22,59.92 477.22,59.42 477.22,58.93 477.22,58.43 477.22,57.93 477.21,57.43 477.21,56.93 477.21,56.43 477.21,55.94 477.21,55.44 477.21,54.94 477.20,54.44 477.20,53.94 477.20,53.45 477.20,52.95 477.20,52.45 477.20,51.95 477.19,51.45 477.19,50.96 477.19,50.46 477.19,49.96 477.19,49.46 477.18,48.96 477.18,48.46 477.18,47.97 477.18,47.47 477.18,46.97 477.18,46.47 477.17,45.97 477.17,45.48 477.17,44.98 477.17,44.48 477.17,43.98 477.17,43.48 477.16,42.99 477.16,42.49 477.16,41.99 477.16,41.49 477.16,40.99 477.16,40.49 477.15,40.00 477.15,39.50 477.15,39.00" fill="#7a9e62" stroke="#111" stroke-width="0.45" stroke-linejoin="round"/>
<line x1="468.84" y1="108.30" x2="485.16" y2="108.30" stroke="#111" stroke-width="1.0" stroke-dasharray="2.6 1.1"/>
<line x1="468.03" y1="114.90" x2="485.97" y2="114.90" stroke="#111" stroke-width="0.7" stroke-dasharray="0.8 0.9"/>
<polygon points="506.45,48.10 506.45,48.60 506.45,49.10 506.45,49.60 506.44,50.09 506.44,50.59 506.44,51.09 506.44,51.59 506.44,52.09 506.44,52.59 506.43,53.08 506.43,53.58 506.43,54.08 506.43,54.58 506.43,55.08 506.43,55.58 506.43,56.08 506.42,56.57 506.42,57.07 506.42,57.57 506.42,58.07 506.42,58.57 506.42,59.07 506.42,59.57 506.41,60.06 506.41,60.56 506.41,61.06 506.41,61.56 506.41,62.06 506.41,62.56 506.40,63.05 506.40,63.55 506.40,64.05 506.40,64.55 506.40,65.05 506.40,65.55 506.40,66.05 506.39,66.54 506.39,67.04 506.39,67.54 506.39,68.04 506.39,68.54 506.39,69.04 506.39,69.53 506.38,70.03 506.38,70.53 506.38,71.03 506.38,71.53 506.38,72.03 506.38,72.53 506.37,73.02 506.37,73.52 506.37,74.02 506.37,74.52 506.37,75.02 506.37,75.52 506.37,76.02 506.36,76.51 506.36,77.01 506.36,77.51 506.36,78.01 506.36,78.51 506.36,79.01 506.36,79.50 506.35,80.00 506.35,80.50 506.35,81.00 506.35,81.50 506.35,82.00 506.35,82.50 506.34,82.99 506.34,83.49 506.34,83.99 506.34,84.49 506.34,84.99 506.34,85.49 506.34,85.98 506.33,86.48 506.33,86.98 506.33,87.48 506.33,87.98 506.33,88.48 506.33,88.98 506.33,89.47 506.32,89.97 506.32,90.47 506.32,90.97 506.32,91.47 506.32,91.97 506.32,92.47 506.31,92.96 506.31,93.46 506.31,93.96 506.31,94.46 506.31,94.96 506.31,95.46 506.31,95.95 506.30,96.45 506.29,96.95 506.27,97.45 506.22,97.95 506.14,98.45 506.05,98.95 505.95,99.44 505.85,99.94 505.75,100.44 505.65,100.94 505.56,101.44 505.48,101.94 505.42,102.43 505.36,102.93 505.31,103.43 505.25,103.93 505.20,104.43 505.15,104.93 505.10,105.43 505.04,105.92 504.99,106.42 504.94,106.92 504.89,107.42 504.83,107.92 504.75,108.42 504.63,108.92 504.46,109.41 504.23,109.91 503.96,110.41 503.66,110.91 503.36,111.41 503.06,111.91 502.74,112.40 502.41,112.90 502.05,113.40 501.68,113.90 501.29,114.40 500.90,114.90 500.51,115.40 500.13,115.89 499.75,116.39 499.40,116.89 499.08,117.39 498.78,117.89 498.48,118.39 498.19,118.88 497.90,119.38 497.62,119.88 497.33,120.38 497.04,120.88 496.78,121.38 496.57,121.88 496.46,122.37 496.48,122.87 496.62,123.37 496.83,123.87 497.09,124.37 497.35,124.87 497.63,125.37 497.96,125.86 498.34,126.36 498.80,126.86 499.32,127.36 499.87,127.86 500.43,128.36 500.98,128.85 501.52,129.35 502.03,129.85 502.49,130.35 502.90,130.85 503.28,131.35 503.64,131.85 503.99,132.34 504.34,132.84 504.66,133.34 504.95,133.84 505.19,134.34 505.40,134.84 505.57,135.33 505.74,135.83 505.90,136.33 506.05,136.83 506.17,137.33 506.25,137.83 506.29,138.33 506.32,138.82 506.33,139.32 506.34,139.82 506.35,140.32 506.35,140.82 506.36,141.32 506.37,141.82 506.38,142.31 506.39,142.81 506.39,143.31 506.40,143.81 506.41,144.31 506.42,144.81 506.43,145.30 506.43,145.80 506.44,146.30 506.45,146.80 506.75,146.80 506.76,146.30 506.77,145.80 506.77,145.30 506.78,144.81 506.79,144.31 506.80,143.81 506.81,143.31 506.81,142.81 506.82,142.31 506.83,141.82 506.84,141.32 506.85,140.82 506.85,140.32 506.86,139.82 506.87,139.32 506.88,138.82 506.91,138.33 506.95,137.83 507.03,137.33 507.15,136.83 507.30,136.33 507.46,135.83 507.63,135.33 507.80,134.84 508.01,134.34 508.25,133.84 508.54,133.34 508.86,132.84 509.21,132.34 509.56,131.85 509.92,131.35 510.30,130.85 510.71,130.35 511.17,129.85 511.68,129.35 512.22,128.85 512.77,128.36 513.33,127.86 513.88,127.36 514.40,126.86 514.86,126.36 515.24,125.86 515.57,125.37 515.85,124.87 516.11,124.37 516.37,123.87 516.58,123.37 516.72,122.87 516.74,122.37 516.63,121.88 516.42,121.38 516.16,120.88 515.87,120.38 515.58,119.88 515.30,119.38 515.01,118.88 514.72,118.39 514.42,117.89 514.12,117.39 513.80,116.89 513.45,116.39 513.07,115.89 512.69,115.40 512.30,114.90 511.91,114.40 511.52,113.90 511.15,113.40 510.79,112.90 510.46,112.40 510.14,111.91 509.84,111.41 509.54,110.91 509.24,110.41 508.97,109.91 508.74,109.41 508.57,108.92 508.45,108.42 508.37,107.92 508.31,107.42 508.26,106.92 508.21,106.42 508.16,105.92 508.10,105.43 508.05,104.93 508.00,104.43 507.95,103.93 507.89,103.43 507.84,102.93 507.78,102.43 507.72,101.94 507.64,101.44 507.55,100.94 507.45,100.44 507.35,99.94 507.25,99.44 507.15,98.95 507.06,98.45 506.98,97.95 506.93,97.45 506.91,96.95 506.90,96.45 506.89,95.95 506.89,95.46 506.89,94.96 506.89,94.46 506.89,93.96 506.89,93.46 506.89,92.96 506.88,92.47 506.88,91.97 506.88,91.47 506.88,90.97 506.88,90.47 506.88,89.97 506.87,89.47 506.87,88.98 506.87,88.48 506.87,87.98 506.87,87.48 506.87,86.98 506.87,86.48 506.86,85.98 506.86,85.49 506.86,84.99 506.86,84.49 506.86,83.99 506.86,83.49 506.86,82.99 506.85,82.50 506.85,82.00 506.85,81.50 506.85,81.00 506.85,80.50 506.85,80.00 506.84,79.50 506.84,79.01 506.84,78.51 506.84,78.01 506.84,77.51 506.84,77.01 506.84,76.51 506.83,76.02 506.83,75.52 506.83,75.02 506.83,74.52 506.83,74.02 506.83,73.52 506.83,73.02 506.82,72.53 506.82,72.03 506.82,71.53 506.82,71.03 506.82,70.53 506.82,70.03 506.81,69.53 506.81,69.04 506.81,68.54 506.81,68.04 506.81,67.54 506.81,67.04 506.81,66.54 506.80,66.05 506.80,65.55 506.80,65.05 506.80,64.55 506.80,64.05 506.80,63.55 506.80,63.05 506.79,62.56 506.79,62.06 506.79,61.56 506.79,61.06 506.79,60.56 506.79,60.06 506.78,59.57 506.78,59.07 506.78,58.57 506.78,58.07 506.78,57.57 506.78,57.07 506.78,56.57 506.77,56.08 506.77,55.58 506.77,55.08 506.77,54.58 506.77,54.08 506.77,53.58 506.77,53.08 506.76,52.59 506.76,52.09 506.76,51.59 506.76,51.09 506.76,50.59 506.76,50.09 506.75,49.60 506.75,49.10 506.75,48.60 506.75,48.10" fill="#6783a8" stroke="#111" stroke-width="0.45" stroke-linejoin="round"/>
<line x1="499.13" y1="118.30" x2="514.07" y2="118.30" stroke="#111" stroke-width="1.0" stroke-dasharray="2.6 1.1"/>
<line x1="497.11" y1="123.00" x2="516.09" y2="123.00" stroke="#111" stroke-width="0.7" stroke-dasharray="0.8 0.9"/>
<polygon points="536.35,41.30 536.35,41.80 536.35,42.30 536.35,42.80 536.34,43.30 536.34,43.79 536.34,44.29 536.34,44.79 536.34,45.29 536.34,45.79 536.34,46.29 536.33,46.79 536.33,47.29 536.33,47.79 536.33,48.28 536.33,48.78 536.33,49.28 536.33,49.78 536.33,50.28 536.32,50.78 536.32,51.28 536.32,51.78 536.32,52.27 536.32,52.77 536.32,53.27 536.32,53.77 536.31,54.27 536.31,54.77 536.31,55.27 536.31,55.77 536.31,56.27 536.31,56.76 536.31,57.26 536.30,57.76 536.30,58.26 536.30,58.76 536.30,59.26 536.30,59.76 536.30,60.26 536.30,60.76 536.30,61.25 536.29,61.75 536.29,62.25 536.29,62.75 536.29,63.25 536.29,63.75 536.29,64.25 536.29,64.75 536.28,65.25 536.28,65.74 536.28,66.24 536.28,66.74 536.28,67.24 536.28,67.74 536.28,68.24 536.27,68.74 536.27,69.24 536.27,69.73 536.27,70.23 536.27,70.73 536.27,71.23 536.27,71.73 536.27,72.23 536.26,72.73 536.26,73.23 536.26,73.73 536.26,74.22 536.26,74.72 536.26,75.22 536.26,75.72 536.25,76.22 536.25,76.72 536.25,77.22 536.25,77.72 536.25,78.22 536.25,78.71 536.25,79.21 536.24,79.71 536.24,80.21 536.24,80.71 536.24,81.21 536.24,81.71 536.24,82.21 536.24,82.70 536.23,83.20 536.23,83.70 536.23,84.20 536.23,84.70 536.23,85.20 536.23,85.70 536.23,86.20 536.23,86.70 536.22,87.19 536.22,87.69 536.22,88.19 536.22,88.69 536.22,89.19 536.22,89.69 536.22,90.19 536.21,90.69 536.21,91.19 536.21,91.68 536.21,92.18 536.21,92.68 536.21,93.18 536.21,93.68 536.20,94.18 536.20,94.68 536.19,95.18 536.16,95.68 536.10,96.17 536.02,96.67 535.93,97.17 535.83,97.67 535.72,98.17 535.61,98.67 535.50,99.17 535.38,99.67 535.24,100.16 535.09,100.66 534.94,101.16 534.78,101.66 534.62,102.16 534.44,102.66 534.23,103.16 533.97,103.66 533.65,104.16 533.30,104.65 532.93,105.15 532.54,105.65 532.16,106.15 531.76,106.65 531.35,107.15 530.92,107.65 530.47,108.15 530.00,108.65 529.53,109.14 529.08,109.64 528.68,110.14 528.33,110.64 528.02,111.14 527.74,111.64 527.49,112.14 527.29,112.64 527.18,113.14 527.19,113.63 527.34,114.13 527.58,114.63 527.87,115.13 528.19,115.63 528.52,116.13 528.88,116.63 529.30,117.13 529.75,117.62 530.23,118.12 530.71,118.62 531.17,119.12 531.57,119.62 531.91,120.12 532.20,120.62 532.45,121.12 532.68,121.62 532.90,122.11 533.11,122.61 533.29,123.11 533.42,123.61 533.50,124.11 533.55,124.61 533.58,125.11 533.61,125.61 533.63,126.11 533.65,126.60 533.68,127.10 533.70,127.60 533.72,128.10 533.75,128.60 533.77,129.10 533.80,129.60 533.82,130.10 533.84,130.60 533.87,131.09 533.89,131.59 533.91,132.09 533.94,132.59 533.96,133.09 533.99,133.59 534.02,134.09 534.04,134.59 534.08,135.08 534.11,135.58 534.14,136.08 534.17,136.58 534.20,137.08 534.23,137.58 534.26,138.08 534.30,138.58 534.33,139.08 534.36,139.57 534.39,140.07 534.42,140.57 534.45,141.07 534.48,141.57 534.52,142.07 534.55,142.57 534.58,143.07 534.62,143.57 534.66,144.06 534.70,144.56 534.74,145.06 534.78,145.56 534.82,146.06 534.87,146.56 534.91,147.06 534.95,147.56 534.99,148.05 535.03,148.55 535.08,149.05 535.12,149.55 535.16,150.05 535.20,150.55 535.24,151.05 535.29,151.55 535.33,152.05 535.37,152.54 535.40,153.04 535.44,153.54 535.47,154.04 535.50,154.54 535.54,155.04 535.57,155.54 535.60,156.04 535.63,156.54 535.66,157.03 535.69,157.53 535.72,158.03 535.76,158.53 535.79,159.03 535.82,159.53 535.85,160.03 535.88,160.53 535.91,161.03 535.94,161.52 535.97,162.02 536.00,162.52 536.02,163.02 536.04,163.52 536.06,164.02 536.08,164.52 536.10,165.02 536.11,165.51 536.13,166.01 536.15,166.51 536.17,167.01 536.19,167.51 536.20,168.01 536.22,168.51 536.24,169.01 536.26,169.51 536.28,170.00 536.30,170.50 536.31,171.00 536.33,171.50 536.34,172.00 536.66,172.00 536.67,171.50 536.69,171.00 536.70,170.50 536.72,170.00 536.74,169.51 536.76,169.01 536.78,168.51 536.80,168.01 536.81,167.51 536.83,167.01 536.85,166.51 536.87,166.01 536.89,165.51 536.90,165.02 536.92,164.52 536.94,164.02 536.96,163.52 536.98,163.02 537.00,162.52 537.03,162.02 537.06,161.52 537.09,161.03 537.12,160.53 537.15,160.03 537.18,159.53 537.21,159.03 537.24,158.53 537.28,158.03 537.31,157.53 537.34,157.03 537.37,156.54 537.40,156.04 537.43,155.54 537.46,155.04 537.50,154.54 537.53,154.04 537.56,153.54 537.60,153.04 537.63,152.54 537.67,152.05 537.71,151.55 537.76,151.05 537.80,150.55 537.84,150.05 537.88,149.55 537.92,149.05 537.97,148.55 538.01,148.05 538.05,147.56 538.09,147.06 538.13,146.56 538.18,146.06 538.22,145.56 538.26,145.06 538.30,144.56 538.34,144.06 538.38,143.57 538.42,143.07 538.45,142.57 538.48,142.07 538.52,141.57 538.55,141.07 538.58,140.57 538.61,140.07 538.64,139.57 538.67,139.08 538.70,138.58 538.74,138.08 538.77,137.58 538.80,137.08 538.83,136.58 538.86,136.08 538.89,135.58 538.92,135.08 538.96,134.59 538.98,134.09 539.01,133.59 539.04,133.09 539.06,132.59 539.09,132.09 539.11,131.59 539.13,131.09 539.16,130.60 539.18,130.10 539.20,129.60 539.23,129.10 539.25,128.60 539.28,128.10 539.30,127.60 539.32,127.10 539.35,126.60 539.37,126.11 539.39,125.61 539.42,125.11 539.45,124.61 539.50,124.11 539.58,123.61 539.71,123.11 539.89,122.61 540.10,122.11 540.32,121.62 540.55,121.12 540.80,120.62 541.09,120.12 541.43,119.62 541.83,119.12 542.29,118.62 542.77,118.12 543.25,117.62 543.70,117.13 544.12,116.63 544.48,116.13 544.81,115.63 545.13,115.13 545.42,114.63 545.66,114.13 545.81,113.63 545.82,113.14 545.71,112.64 545.51,112.14 545.26,111.64 544.98,111.14 544.67,110.64 544.32,110.14 543.92,109.64 543.47,109.14 543.00,108.65 542.53,108.15 542.08,107.65 541.65,107.15 541.24,106.65 540.84,106.15 540.46,105.65 540.07,105.15 539.70,104.65 539.35,104.16 539.03,103.66 538.77,103.16 538.56,102.66 538.38,102.16 538.22,101.66 538.06,101.16 537.91,100.66 537.76,100.16 537.62,99.67 537.50,99.17 537.39,98.67 537.28,98.17 537.17,97.67 537.07,97.17 536.98,96.67 536.90,96.17 536.84,95.68 536.81,95.18 536.80,94.68 536.80,94.18 536.79,93.68 536.79,93.18 536.79,92.68 536.79,92.18 536.79,91.68 536.79,91.19 536.79,90.69 536.78,90.19 536.78,89.69 536.78,89.19 536.78,88.69 536.78,88.19 536.78,87.69 536.78,87.19 536.77,86.70 536.77,86.20 536.77,85.70 536.77,85.20 536.77,84.70 536.77,84.20 536.77,83.70 536.77,83.20 536.76,82.70 536.76,82.21 536.76,81.71 536.76,81.21 536.76,80.71 536.76,80.21 536.76,79.71 536.75,79.21 536.75,78.71 536.75,78.22 536.75,77.72 536.75,77.22 536.75,76.72 536.75,76.22 536.74,75.72 536.74,75.22 536.74,74.72 536.74,74.22 536.74,73.73 536.74,73.23 536.74,72.73 536.73,72.23 536.73,71.73 536.73,71.23 536.73,70.73 536.73,70.23 536.73,69.73 536.73,69.24 536.73,68.74 536.72,68.24 536.72,67.74 536.72,67.24 536.72,66.74 536.72,66.24 536.72,65.74 536.72,65.25 536.71,64.75 536.71,64.25 536.71,63.75 536.71,63.25 536.71,62.75 536.71,62.25 536.71,61.75 536.70,61.25 536.70,60.76 536.70,60.26 536.70,59.76 536.70,59.26 536.70,58.76 536.70,58.26 536.70,57.76 536.69,57.26 536.69,56.76 536.69,56.27 536.69,55.77 536.69,55.27 536.69,54.77 536.69,54.27 536.68,53.77 536.68,53.27 536.68,52.77 536.68,52.27 536.68,51.78 536.68,51.28 536.68,50.78 536.67,50.28 536.67,49.78 536.67,49.28 536.67,48.78 536.67,48.28 536.67,47.79 536.67,47.29 536.67,46.79 536.66,46.29 536.66,45.79 536.66,45.29 536.66,44.79 536.66,44.29 536.66,43.79 536.66,43.30 536.65,42.80 536.65,42.30 536.65,41.80 536.65,41.30" fill="#7a9e62" stroke="#111" stroke-width="0.45" stroke-linejoin="round"/>
<line x1="527.90" y1="112.60" x2="545.10" y2="112.60" stroke="#111" stroke-width="1.0" stroke-dasharray="2.6 1.1"/>
<line x1="529.17" y1="116.20" x2="543.83" y2="116.20" stroke="#111" stroke-width="0.7" stroke-dasharray="0.8 0.9"/>
<polygon points="566.35,29.30 566.35,29.80 566.35,30.30 566.35,30.80 566.35,31.30 566.34,31.79 566.34,32.29 566.34,32.79 566.34,33.29 566.34,33.79 566.34,34.29 566.34,34.79 566.34,35.29 566.34,35.79 566.33,36.28 566.33,36.78 566.33,37.28 566.33,37.78 566.33,38.28 566.33,38.78 566.33,39.28 566.33,39.78 566.33,40.28 566.32,40.77 566.32,41.27 566.32,41.77 566.32,42.27 566.32,42.77 566.32,43.27 566.32,43.77 566.32,44.27 566.32,44.77 566.31,45.26 566.31,45.76 566.31,46.26 566.31,46.76 566.31,47.26 566.31,47.76 566.31,48.26 566.31,48.76 566.31,49.25 566.30,49.75 566.30,50.25 566.30,50.75 566.30,51.25 566.30,51.75 566.30,52.25 566.30,52.75 566.30,53.25 566.29,53.74 566.29,54.24 566.29,54.74 566.29,55.24 566.29,55.74 566.29,56.24 566.29,56.74 566.29,57.24 566.29,57.74 566.28,58.23 566.28,58.73 566.28,59.23 566.28,59.73 566.28,60.23 566.28,60.73 566.28,61.23 566.28,61.73 566.28,62.23 566.27,62.72 566.27,63.22 566.27,63.72 566.27,64.22 566.27,64.72 566.27,65.22 566.27,65.72 566.27,66.22 566.27,66.72 566.26,67.21 566.26,67.71 566.26,68.21 566.26,68.71 566.26,69.21 566.26,69.71 566.26,70.21 566.26,70.71 566.26,71.21 566.25,71.70 566.25,72.20 566.25,72.70 566.25,73.20 566.25,73.70 566.25,74.20 566.25,74.70 566.25,75.20 566.25,75.70 566.24,76.19 566.24,76.69 566.24,77.19 566.24,77.69 566.24,78.19 566.24,78.69 566.24,79.19 566.24,79.69 566.24,80.18 566.23,80.68 566.23,81.18 566.23,81.68 566.23,82.18 566.23,82.68 566.23,83.18 566.23,83.68 566.23,84.18 566.23,84.67 566.22,85.17 566.22,85.67 566.22,86.17 566.22,86.67 566.22,87.17 566.22,87.67 566.22,88.17 566.22,88.67 566.22,89.16 566.21,89.66 566.21,90.16 566.21,90.66 566.21,91.16 566.21,91.66 566.21,92.16 566.21,92.66 566.21,93.16 566.21,93.65 566.20,94.15 566.20,94.65 566.19,95.15 566.16,95.65 566.12,96.15 566.05,96.65 565.97,97.15 565.88,97.65 565.79,98.14 565.69,98.64 565.60,99.14 565.50,99.64 565.39,100.14 565.28,100.64 565.17,101.14 565.06,101.64 564.94,102.14 564.83,102.63 564.72,103.13 564.60,103.63 564.49,104.13 564.36,104.63 564.23,105.13 564.07,105.63 563.90,106.13 563.71,106.63 563.52,107.12 563.32,107.62 563.12,108.12 562.89,108.62 562.64,109.12 562.34,109.62 562.01,110.12 561.65,110.62 561.29,111.12 560.92,111.61 560.56,112.11 560.21,112.61 559.87,113.11 559.55,113.61 559.24,114.11 558.94,114.61 558.64,115.11 558.35,115.60 558.05,116.10 557.75,116.60 557.46,117.10 557.18,117.60 556.95,118.10 556.80,118.60 556.77,119.10 556.83,119.60 556.96,120.09 557.11,120.59 557.26,121.09 557.42,121.59 557.59,122.09 557.77,122.59 557.99,123.09 558.26,123.59 558.58,124.09 558.95,124.58 559.33,125.08 559.73,125.58 560.12,126.08 560.52,126.58 560.91,127.08 561.29,127.58 561.66,128.08 562.01,128.58 562.34,129.07 562.67,129.57 562.98,130.07 563.29,130.57 563.60,131.07 563.89,131.57 564.15,132.07 564.37,132.57 564.57,133.07 564.75,133.56 564.92,134.06 565.10,134.56 565.26,135.06 565.41,135.56 565.53,136.06 565.64,136.56 565.74,137.06 565.82,137.56 565.91,138.05 566.00,138.55 566.07,139.05 566.13,139.55 566.17,140.05 566.20,140.55 566.21,141.05 566.21,141.55 566.22,142.05 566.22,142.54 566.22,143.04 566.23,143.54 566.23,144.04 566.23,144.54 566.24,145.04 566.24,145.54 566.24,146.04 566.25,146.53 566.25,147.03 566.25,147.53 566.26,148.03 566.26,148.53 566.26,149.03 566.27,149.53 566.27,150.03 566.27,150.53 566.28,151.02 566.28,151.52 566.28,152.02 566.29,152.52 566.29,153.02 566.29,153.52 566.30,154.02 566.30,154.52 566.30,155.02 566.31,155.51 566.31,156.01 566.31,156.51 566.32,157.01 566.32,157.51 566.32,158.01 566.33,158.51 566.33,159.01 566.33,159.51 566.34,160.00 566.34,160.50 566.34,161.00 566.35,161.50 566.35,162.00 566.65,162.00 566.65,161.50 566.66,161.00 566.66,160.50 566.66,160.00 566.67,159.51 566.67,159.01 566.67,158.51 566.68,158.01 566.68,157.51 566.68,157.01 566.69,156.51 566.69,156.01 566.69,155.51 566.70,155.02 566.70,154.52 566.70,154.02 566.71,153.52 566.71,153.02 566.71,152.52 566.72,152.02 566.72,151.52 566.72,151.02 566.73,150.53 566.73,150.03 566.73,149.53 566.74,149.03 566.74,148.53 566.74,148.03 566.75,147.53 566.75,147.03 566.75,146.53 566.76,146.04 566.76,145.54 566.76,145.04 566.77,144.54 566.77,144.04 566.77,143.54 566.78,143.04 566.78,142.54 566.78,142.05 566.79,141.55 566.79,141.05 566.80,140.55 566.83,140.05 566.87,139.55 566.93,139.05 567.00,138.55 567.09,138.05 567.18,137.56 567.26,137.06 567.36,136.56 567.47,136.06 567.59,135.56 567.74,135.06 567.90,134.56 568.08,134.06 568.25,133.56 568.43,133.07 568.63,132.57 568.85,132.07 569.11,131.57 569.40,131.07 569.71,130.57 570.02,130.07 570.33,129.57 570.66,129.07 570.99,128.58 571.34,128.08 571.71,127.58 572.09,127.08 572.48,126.58 572.88,126.08 573.27,125.58 573.67,125.08 574.05,124.58 574.42,124.09 574.74,123.59 575.01,123.09 575.23,122.59 575.41,122.09 575.58,121.59 575.74,121.09 575.89,120.59 576.04,120.09 576.17,119.60 576.23,119.10 576.20,118.60 576.05,118.10 575.82,117.60 575.54,117.10 575.25,116.60 574.95,116.10 574.65,115.60 574.36,115.11 574.06,114.61 573.76,114.11 573.45,113.61 573.13,113.11 572.79,112.61 572.44,112.11 572.08,111.61 571.71,111.12 571.35,110.62 570.99,110.12 570.66,109.62 570.36,109.12 570.11,108.62 569.88,108.12 569.68,107.62 569.48,107.12 569.29,106.63 569.10,106.13 568.93,105.63 568.77,105.13 568.64,104.63 568.51,104.13 568.40,103.63 568.28,103.13 568.17,102.63 568.06,102.14 567.94,101.64 567.83,101.14 567.72,100.64 567.61,100.14 567.50,99.64 567.40,99.14 567.31,98.64 567.21,98.14 567.12,97.65 567.03,97.15 566.95,96.65 566.88,96.15 566.84,95.65 566.81,95.15 566.80,94.65 566.80,94.15 566.79,93.65 566.79,93.16 566.79,92.66 566.79,92.16 566.79,91.66 566.79,91.16 566.79,90.66 566.79,90.16 566.79,89.66 566.78,89.16 566.78,88.67 566.78,88.17 566.78,87.67 566.78,87.17 566.78,86.67 566.78,86.17 566.78,85.67 566.78,85.17 566.77,84.67 566.77,84.18 566.77,83.68 566.77,83.18 566.77,82.68 566.77,82.18 566.77,81.68 566.77,81.18 566.77,80.68 566.76,80.18 566.76,79.69 566.76,79.19 566.76,78.69 566.76,78.19 566.76,77.69 566.76,77.19 566.76,76.69 566.76,76.19 566.75,75.70 566.75,75.20 566.75,74.70 566.75,74.20 566.75,73.70 566.75,73.20 566.75,72.70 566.75,72.20 566.75,71.70 566.74,71.21 566.74,70.71 566.74,70.21 566.74,69.71 566.74,69.21 566.74,68.71 566.74,68.21 566.74,67.71 566.74,67.21 566.73,66.72 566.73,66.22 566.73,65.72 566.73,65.22 566.73,64.72 566.73,64.22 566.73,63.72 566.73,63.22 566.73,62.72 566.72,62.23 566.72,61.73 566.72,61.23 566.72,60.73 566.72,60.23 566.72,59.73 566.72,59.23 566.72,58.73 566.72,58.23 566.71,57.74 566.71,57.24 566.71,56.74 566.71,56.24 566.71,55.74 566.71,55.24 566.71,54.74 566.71,54.24 566.71,53.74 566.70,53.25 566.70,52.75 566.70,52.25 566.70,51.75 566.70,51.25 566.70,50.75 566.70,50.25 566.70,49.75 566.69,49.25 566.69,48.76 566.69,48.26 566.69,47.76 566.69,47.26 566.69,46.76 566.69,46.26 566.69,45.76 566.69,45.26 566.68,44.77 566.68,44.27 566.68,43.77 566.68,43.27 566.68,42.77 566.68,42.27 566.68,41.77 566.68,41.27 566.68,40.77 566.67,40.28 566.67,39.78 566.67,39.28 566.67,38.78 566.67,38.28 566.67,37.78 566.67,37.28 566.67,36.78 566.67,36.28 566.66,35.79 566.66,35.29 566.66,34.79 566.66,34.29 566.66,33.79 566.66,33.29 566.66,32.79 566.66,32.29 566.66,31.79 566.65,31.30 566.65,30.80 566.65,30.30 566.65,29.80 566.65,29.30" fill="#6783a8" stroke="#111" stroke-width="0.45" stroke-linejoin="round"/>
<line x1="558.47" y1="116.40" x2="574.53" y2="116.40" stroke="#111" stroke-width="1.0" stroke-dasharray="2.6 1.1"/>
<line x1="557.90" y1="121.20" x2="575.10" y2="121.20" stroke="#111" stroke-width="0.7" stroke-dasharray="0.8 0.9"/>
<polygon points="595.75,68.00 595.75,68.50 595.74,69.00 595.74,69.49 595.74,69.99 595.73,70.49 595.73,70.99 595.73,71.48 595.73,71.98 595.72,72.48 595.72,72.98 595.72,73.47 595.71,73.97 595.71,74.47 595.71,74.97 595.70,75.46 595.70,75.96 595.70,76.46 595.69,76.96 595.69,77.45 595.69,77.95 595.68,78.45 595.68,78.95 595.68,79.44 595.68,79.94 595.67,80.44 595.67,80.94 595.67,81.44 595.66,81.93 595.66,82.43 595.66,82.93 595.65,83.43 595.65,83.92 595.65,84.42 595.64,84.92 595.64,85.42 595.64,85.91 595.63,86.41 595.63,86.91 595.63,87.41 595.63,87.90 595.62,88.40 595.62,88.90 595.62,89.40 595.61,89.89 595.61,90.39 595.60,90.89 595.59,91.39 595.55,91.89 595.49,92.38 595.41,92.88 595.32,93.38 595.22,93.88 595.13,94.37 595.03,94.87 594.92,95.37 594.82,95.87 594.72,96.36 594.61,96.86 594.51,97.36 594.40,97.86 594.30,98.35 594.19,98.85 594.08,99.35 593.97,99.85 593.86,100.34 593.74,100.84 593.60,101.34 593.42,101.84 593.21,102.33 592.98,102.83 592.73,103.33 592.48,103.83 592.23,104.33 591.95,104.82 591.63,105.32 591.27,105.82 590.86,106.32 590.43,106.81 589.99,107.31 589.55,107.81 589.11,108.31 588.70,108.80 588.31,109.30 587.95,109.80 587.61,110.30 587.29,110.79 586.98,111.29 586.69,111.79 586.43,112.29 586.26,112.78 586.21,113.28 586.28,113.78 586.42,114.28 586.60,114.78 586.80,115.27 587.00,115.77 587.23,116.27 587.49,116.77 587.79,117.26 588.12,117.76 588.48,118.26 588.84,118.76 589.21,119.25 589.58,119.75 589.95,120.25 590.32,120.75 590.69,121.24 591.07,121.74 591.45,122.24 591.83,122.74 592.20,123.23 592.56,123.73 592.88,124.23 593.16,124.73 593.40,125.22 593.62,125.72 593.82,126.22 594.01,126.72 594.20,127.22 594.39,127.71 594.55,128.21 594.68,128.71 594.80,129.21 594.91,129.70 595.02,130.20 595.12,130.70 595.22,131.20 595.32,131.69 595.42,132.19 595.50,132.69 595.55,133.19 595.59,133.68 595.60,134.18 595.61,134.68 595.61,135.18 595.61,135.67 595.61,136.17 595.61,136.67 595.62,137.17 595.62,137.67 595.62,138.16 595.62,138.66 595.62,139.16 595.63,139.66 595.63,140.15 595.63,140.65 595.63,141.15 595.63,141.65 595.64,142.14 595.64,142.64 595.64,143.14 595.64,143.64 595.64,144.13 595.64,144.63 595.65,145.13 595.65,145.63 595.65,146.12 595.65,146.62 595.65,147.12 595.66,147.62 595.66,148.11 595.66,148.61 595.66,149.11 595.66,149.61 595.67,150.11 595.67,150.60 595.67,151.10 595.67,151.60 595.67,152.10 595.68,152.59 595.68,153.09 595.68,153.59 595.68,154.09 595.68,154.58 595.68,155.08 595.69,155.58 595.69,156.08 595.69,156.57 595.69,157.07 595.69,157.57 595.70,158.07 595.70,158.56 595.70,159.06 595.70,159.56 595.70,160.06 595.71,160.56 595.71,161.05 595.71,161.55 595.71,162.05 595.71,162.55 595.72,163.04 595.72,163.54 595.72,164.04 595.72,164.54 595.72,165.03 595.73,165.53 595.73,166.03 595.73,166.53 595.73,167.02 595.73,167.52 595.73,168.02 595.74,168.52 595.74,169.01 595.74,169.51 595.74,170.01 595.74,170.51 595.75,171.00 595.75,171.50 595.75,172.00 596.05,172.00 596.05,171.50 596.05,171.00 596.06,170.51 596.06,170.01 596.06,169.51 596.06,169.01 596.06,168.52 596.07,168.02 596.07,167.52 596.07,167.02 596.07,166.53 596.07,166.03 596.07,165.53 596.08,165.03 596.08,164.54 596.08,164.04 596.08,163.54 596.08,163.04 596.09,162.55 596.09,162.05 596.09,161.55 596.09,161.05 596.09,160.56 596.10,160.06 596.10,159.56 596.10,159.06 596.10,158.56 596.10,158.07 596.11,157.57 596.11,157.07 596.11,156.57 596.11,156.08 596.11,155.58 596.12,155.08 596.12,154.58 596.12,154.09 596.12,153.59 596.12,153.09 596.12,152.59 596.13,152.10 596.13,151.60 596.13,151.10 596.13,150.60 596.13,150.11 596.14,149.61 596.14,149.11 596.14,148.61 596.14,148.11 596.14,147.62 596.15,147.12 596.15,146.62 596.15,146.12 596.15,145.63 596.15,145.13 596.16,144.63 596.16,144.13 596.16,143.64 596.16,143.14 596.16,142.64 596.16,142.14 596.17,141.65 596.17,141.15 596.17,140.65 596.17,140.15 596.17,139.66 596.18,139.16 596.18,138.66 596.18,138.16 596.18,137.67 596.18,137.17 596.19,136.67 596.19,136.17 596.19,135.67 596.19,135.18 596.19,134.68 596.20,134.18 596.21,133.68 596.25,133.19 596.30,132.69 596.38,132.19 596.48,131.69 596.58,131.20 596.68,130.70 596.78,130.20 596.89,129.70 597.00,129.21 597.12,128.71 597.25,128.21 597.41,127.71 597.60,127.22 597.79,126.72 597.98,126.22 598.18,125.72 598.40,125.22 598.64,124.73 598.92,124.23 599.24,123.73 599.60,123.23 599.97,122.74 600.35,122.24 600.73,121.74 601.11,121.24 601.48,120.75 601.85,120.25 602.22,119.75 602.59,119.25 602.96,118.76 603.32,118.26 603.68,117.76 604.01,117.26 604.31,116.77 604.57,116.27 604.80,115.77 605.00,115.27 605.20,114.78 605.38,114.28 605.52,113.78 605.59,113.28 605.54,112.78 605.37,112.29 605.11,111.79 604.82,111.29 604.51,110.79 604.19,110.30 603.85,109.80 603.49,109.30 603.10,108.80 602.69,108.31 602.25,107.81 601.81,107.31 601.37,106.81 600.94,106.32 600.53,105.82 600.17,105.32 599.85,104.82 599.57,104.33 599.32,103.83 599.07,103.33 598.82,102.83 598.59,102.33 598.38,101.84 598.20,101.34 598.06,100.84 597.94,100.34 597.83,99.85 597.72,99.35 597.61,98.85 597.50,98.35 597.40,97.86 597.29,97.36 597.19,96.86 597.08,96.36 596.98,95.87 596.88,95.37 596.77,94.87 596.67,94.37 596.58,93.88 596.48,93.38 596.39,92.88 596.31,92.38 596.25,91.89 596.21,91.39 596.20,90.89 596.19,90.39 596.19,89.89 596.18,89.40 596.18,88.90 596.18,88.40 596.17,87.90 596.17,87.41 596.17,86.91 596.17,86.41 596.16,85.91 596.16,85.42 596.16,84.92 596.15,84.42 596.15,83.92 596.15,83.43 596.14,82.93 596.14,82.43 596.14,81.93 596.13,81.44 596.13,80.94 596.13,80.44 596.12,79.94 596.12,79.44 596.12,78.95 596.12,78.45 596.11,77.95 596.11,77.45 596.11,76.96 596.10,76.46 596.10,75.96 596.10,75.46 596.09,74.97 596.09,74.47 596.09,73.97 596.08,73.47 596.08,72.98 596.08,72.48 596.07,71.98 596.07,71.48 596.07,70.99 596.07,70.49 596.06,69.99 596.06,69.49 596.06,69.00 596.05,68.50 596.05,68.00" fill="#7a9e62" stroke="#111" stroke-width="0.45" stroke-linejoin="round"/>
<line x1="587.95" y1="110.70" x2="603.85" y2="110.70" stroke="#111" stroke-width="1.0" stroke-dasharray="2.6 1.1"/>
<line x1="586.91" y1="113.90" x2="604.89" y2="113.90" stroke="#111" stroke-width="0.7" stroke-dasharray="0.8 0.9"/>
<polygon points="625.55,43.20 625.55,43.70 625.55,44.20 625.55,44.70 625.54,45.20 625.54,45.70 625.54,46.20 625.54,46.70 625.54,47.20 625.54,47.70 625.54,48.19 625.53,48.69 625.53,49.19 625.53,49.69 625.53,50.19 625.53,50.69 625.53,51.19 625.53,51.69 625.53,52.19 625.52,52.69 625.52,53.19 625.52,53.69 625.52,54.19 625.52,54.69 625.52,55.19 625.52,55.69 625.51,56.19 625.51,56.69 625.51,57.19 625.51,57.69 625.51,58.18 625.51,58.68 625.51,59.18 625.50,59.68 625.50,60.18 625.50,60.68 625.50,61.18 625.50,61.68 625.50,62.18 625.50,62.68 625.50,63.18 625.49,63.68 625.49,64.18 625.49,64.68 625.49,65.18 625.49,65.68 625.49,66.18 625.49,66.68 625.48,67.18 625.48,67.67 625.48,68.17 625.48,68.67 625.48,69.17 625.48,69.67 625.48,70.17 625.47,70.67 625.47,71.17 625.47,71.67 625.47,72.17 625.47,72.67 625.47,73.17 625.47,73.67 625.46,74.17 625.46,74.67 625.46,75.17 625.46,75.67 625.46,76.17 625.46,76.67 625.46,77.17 625.46,77.66 625.45,78.16 625.45,78.66 625.45,79.16 625.45,79.66 625.45,80.16 625.45,80.66 625.45,81.16 625.44,81.66 625.44,82.16 625.44,82.66 625.44,83.16 625.44,83.66 625.44,84.16 625.44,84.66 625.43,85.16 625.43,85.66 625.43,86.16 625.43,86.66 625.43,87.16 625.43,87.65 625.43,88.15 625.42,88.65 625.42,89.15 625.42,89.65 625.42,90.15 625.42,90.65 625.42,91.15 625.42,91.65 625.42,92.15 625.41,92.65 625.41,93.15 625.41,93.65 625.41,94.15 625.41,94.65 625.41,95.15 625.41,95.65 625.40,96.15 625.40,96.65 625.37,97.14 625.33,97.64 625.25,98.14 625.15,98.64 625.04,99.14 624.91,99.64 624.79,100.14 624.66,100.64 624.54,101.14 624.41,101.64 624.28,102.14 624.15,102.64 624.01,103.14 623.88,103.64 623.74,104.14 623.59,104.64 623.42,105.14 623.23,105.64 623.01,106.14 622.78,106.64 622.53,107.13 622.28,107.63 622.02,108.13 621.75,108.63 621.45,109.13 621.12,109.63 620.75,110.13 620.37,110.63 619.98,111.13 619.58,111.63 619.20,112.13 618.82,112.63 618.46,113.13 618.13,113.63 617.81,114.13 617.50,114.63 617.19,115.13 616.88,115.63 616.58,116.13 616.29,116.62 616.06,117.12 615.93,117.62 615.93,118.12 616.04,118.62 616.21,119.12 616.41,119.62 616.63,120.12 616.86,120.62 617.13,121.12 617.47,121.62 617.88,122.12 618.33,122.62 618.82,123.12 619.32,123.62 619.81,124.12 620.30,124.62 620.78,125.12 621.24,125.62 621.68,126.12 622.10,126.61 622.53,127.11 622.95,127.61 623.35,128.11 623.73,128.61 624.05,129.11 624.31,129.61 624.52,130.11 624.70,130.61 624.87,131.11 625.03,131.61 625.17,132.11 625.28,132.61 625.36,133.11 625.40,133.61 625.42,134.11 625.43,134.61 625.44,135.11 625.45,135.61 625.46,136.11 625.47,136.60 625.48,137.10 625.49,137.60 625.50,138.10 625.51,138.60 625.51,139.10 625.52,139.60 625.53,140.10 625.54,140.60 625.54,141.10 625.86,141.10 625.86,140.60 625.87,140.10 625.88,139.60 625.89,139.10 625.89,138.60 625.90,138.10 625.91,137.60 625.92,137.10 625.93,136.60 625.94,136.11 625.95,135.61 625.96,135.11 625.97,134.61 625.98,134.11 626.00,133.61 626.04,133.11 626.12,132.61 626.23,132.11 626.37,131.61 626.53,131.11 626.70,130.61 626.88,130.11 627.09,129.61 627.35,129.11 627.67,128.61 628.05,128.11 628.45,127.61 628.87,127.11 629.30,126.61 629.72,126.12 630.16,125.62 630.62,125.12 631.10,124.62 631.59,124.12 632.08,123.62 632.58,123.12 633.07,122.62 633.52,122.12 633.93,121.62 634.27,121.12 634.54,120.62 634.77,120.12 634.99,119.62 635.19,119.12 635.36,118.62 635.47,118.12 635.47,117.62 635.34,117.12 635.11,116.62 634.82,116.13 634.52,115.63 634.21,115.13 633.90,114.63 633.59,114.13 633.27,113.63 632.94,113.13 632.58,112.63 632.20,112.13 631.82,111.63 631.42,111.13 631.03,110.63 630.65,110.13 630.28,109.63 629.95,109.13 629.65,108.63 629.38,108.13 629.12,107.63 628.87,107.13 628.62,106.64 628.39,106.14 628.17,105.64 627.98,105.14 627.81,104.64 627.66,104.14 627.52,103.64 627.39,103.14 627.25,102.64 627.12,102.14 626.99,101.64 626.86,101.14 626.74,100.64 626.61,100.14 626.49,99.64 626.36,99.14 626.25,98.64 626.15,98.14 626.07,97.64 626.03,97.14 626.00,96.65 626.00,96.15 625.99,95.65 625.99,95.15 625.99,94.65 625.99,94.15 625.99,93.65 625.99,93.15 625.99,92.65 625.98,92.15 625.98,91.65 625.98,91.15 625.98,90.65 625.98,90.15 625.98,89.65 625.98,89.15 625.98,88.65 625.97,88.15 625.97,87.65 625.97,87.16 625.97,86.66 625.97,86.16 625.97,85.66 625.97,85.16 625.96,84.66 625.96,84.16 625.96,83.66 625.96,83.16 625.96,82.66 625.96,82.16 625.96,81.66 625.95,81.16 625.95,80.66 625.95,80.16 625.95,79.66 625.95,79.16 625.95,78.66 625.95,78.16 625.94,77.66 625.94,77.17 625.94,76.67 625.94,76.17 625.94,75.67 625.94,75.17 625.94,74.67 625.94,74.17 625.93,73.67 625.93,73.17 625.93,72.67 625.93,72.17 625.93,71.67 625.93,71.17 625.93,70.67 625.92,70.17 625.92,69.67 625.92,69.17 625.92,68.67 625.92,68.17 625.92,67.67 625.92,67.18 625.91,66.68 625.91,66.18 625.91,65.68 625.91,65.18 625.91,64.68 625.91,64.18 625.91,63.68 625.90,63.18 625.90,62.68 625.90,62.18 625.90,61.68 625.90,61.18 625.90,60.68 625.90,60.18 625.90,59.68 625.89,59.18 625.89,58.68 625.89,58.18 625.89,57.69 625.89,57.19 625.89,56.69 625.89,56.19 625.88,55.69 625.88,55.19 625.88,54.69 625.88,54.19 625.88,53.69 625.88,53.19 625.88,52.69 625.87,52.19 625.87,51.69 625.87,51.19 625.87,50.69 625.87,50.19 625.87,49.69 625.87,49.19 625.87,48.69 625.86,48.19 625.86,47.70 625.86,47.20 625.86,46.70 625.86,46.20 625.86,45.70 625.86,45.20 625.85,44.70 625.85,44.20 625.85,43.70 625.85,43.20" fill="#6783a8" stroke="#111" stroke-width="0.45" stroke-linejoin="round"/>
<line x1="617.68" y1="115.30" x2="633.72" y2="115.30" stroke="#111" stroke-width="1.0" stroke-dasharray="2.6 1.1"/>
<line x1="616.57" y1="118.30" x2="634.83" y2="118.30" stroke="#111" stroke-width="0.7" stroke-dasharray="0.8 0.9"/>
<polyline points="417.3,29.3 417.3,24.1 447.2,24.1 447.2,29.3" fill="none" stroke="#222" stroke-width="0.6"/>
<text x="432.25" y="24.80" font-size="7.2" text-anchor="middle" font-weight="bold" font-style="normal" fill="#222" >****</text>
<line x1="417.50" y1="172.00" x2="417.50" y2="175.50" stroke="#3a3a3a" stroke-width="0.9" />
<line x1="447.50" y1="172.00" x2="447.50" y2="175.50" stroke="#3a3a3a" stroke-width="0.9" />
<text x="432.25" y="186.00" font-size="9" text-anchor="middle" font-weight="normal" font-style="italic" fill="#000" >FGFR1</text>
<polyline points="477.0,29.3 477.0,24.1 506.6,24.1 506.6,29.3" fill="none" stroke="#222" stroke-width="0.6"/>
<text x="491.80" y="24.80" font-size="7.2" text-anchor="middle" font-weight="bold" font-style="normal" fill="#222" >****</text>
<line x1="477.50" y1="172.00" x2="477.50" y2="175.50" stroke="#3a3a3a" stroke-width="0.9" />
<line x1="506.50" y1="172.00" x2="506.50" y2="175.50" stroke="#3a3a3a" stroke-width="0.9" />
<text x="491.80" y="186.00" font-size="9" text-anchor="middle" font-weight="normal" font-style="italic" fill="#000" >FGFR2</text>
<polyline points="536.5,29.3 536.5,24.1 566.5,24.1 566.5,29.3" fill="none" stroke="#222" stroke-width="0.6"/>
<text x="551.50" y="24.80" font-size="7.2" text-anchor="middle" font-weight="bold" font-style="normal" fill="#222" >**</text>
<line x1="536.50" y1="172.00" x2="536.50" y2="175.50" stroke="#3a3a3a" stroke-width="0.9" />
<line x1="566.50" y1="172.00" x2="566.50" y2="175.50" stroke="#3a3a3a" stroke-width="0.9" />
<text x="551.50" y="186.00" font-size="9" text-anchor="middle" font-weight="normal" font-style="italic" fill="#000" >FGFR3</text>
<polyline points="595.9,29.3 595.9,24.1 625.7,24.1 625.7,29.3" fill="none" stroke="#222" stroke-width="0.6"/>
<text x="610.80" y="24.80" font-size="7.2" text-anchor="middle" font-weight="bold" font-style="normal" fill="#222" >****</text>
<line x1="595.50" y1="172.00" x2="595.50" y2="175.50" stroke="#3a3a3a" stroke-width="0.9" />
<line x1="625.50" y1="172.00" x2="625.50" y2="175.50" stroke="#3a3a3a" stroke-width="0.9" />
<text x="610.80" y="186.00" font-size="9" text-anchor="middle" font-weight="normal" font-style="italic" fill="#000" >FGFR4</text>
<rect x="477.20" y="197.80" width="10.10" height="10.20" fill="#7a9e62" />
<text x="490.30" y="206.00" font-size="8.8" text-anchor="start" font-weight="normal" font-style="normal" fill="#000" >PemR</text>
<rect x="535.80" y="197.80" width="10.10" height="10.20" fill="#6783a8" />
<text x="548.50" y="206.00" font-size="8.8" text-anchor="start" font-weight="normal" font-style="normal" fill="#000" >FutR</text>
<text x="4.00" y="239.50" font-size="13" text-anchor="start" font-weight="bold" font-style="normal" fill="#000" >d</text>
<text x="135.00" y="243.70" font-size="9.65" text-anchor="middle" font-weight="bold" font-style="normal" fill="#000" >Resistance screen results</text>
<text x="135" y="254" font-size="8.1" text-anchor="middle">(<tspan font-style="italic">FGFR2</tspan>)</text>
<line x1="28.00" y1="308.50" x2="233.50" y2="308.50" stroke="#e9a9a4" stroke-width="0.8" />
<line x1="28.00" y1="321.50" x2="233.50" y2="321.50" stroke="#e9a9a4" stroke-width="0.8" />
<line x1="28.00" y1="333.50" x2="233.50" y2="333.50" stroke="#e9a9a4" stroke-width="0.8" />
<line x1="28.00" y1="343.50" x2="233.50" y2="343.50" stroke="#e9a9a4" stroke-width="0.8" />
<rect x="31.40" y="341.20" width="5.80" height="50.10" fill="#c9c9c9" stroke="#848484" stroke-width="0.7" />
<line x1="34.50" y1="336.20" x2="34.50" y2="344.70" stroke="#222" stroke-width="0.5" />
<line x1="33.00" y1="336.50" x2="35.60" y2="336.50" stroke="#222" stroke-width="0.5" />
<circle cx="34.00" cy="335.20" r="0.85" fill="#000"/>
<circle cx="35.20" cy="343.45" r="0.85" fill="#000"/>
<circle cx="33.50" cy="347.70" r="0.85" fill="#000"/>
<rect x="40.28" y="342.90" width="5.80" height="48.40" fill="#c26d6f" stroke="#804749" stroke-width="0.7" />
<line x1="43.50" y1="341.40" x2="43.50" y2="343.95" stroke="#222" stroke-width="0.5" />
<line x1="41.88" y1="341.50" x2="44.48" y2="341.50" stroke="#222" stroke-width="0.5" />
<circle cx="42.88" cy="341.10" r="0.85" fill="#000"/>
<circle cx="44.08" cy="343.57" r="0.85" fill="#000"/>
<circle cx="42.38" cy="344.85" r="0.85" fill="#000"/>
<rect x="49.16" y="329.20" width="5.80" height="62.10" fill="#a5d7d3" stroke="#6c8d8b" stroke-width="0.7" />
<line x1="52.50" y1="324.20" x2="52.50" y2="332.70" stroke="#222" stroke-width="0.5" />
<line x1="50.76" y1="324.50" x2="53.36" y2="324.50" stroke="#222" stroke-width="0.5" />
<circle cx="51.76" cy="323.20" r="0.85" fill="#000"/>
<circle cx="52.96" cy="331.45" r="0.85" fill="#000"/>
<circle cx="51.26" cy="335.70" r="0.85" fill="#000"/>
<rect x="58.04" y="275.40" width="5.80" height="115.90" fill="#a7d6ab" stroke="#6e8d70" stroke-width="0.7" />
<line x1="60.50" y1="274.40" x2="60.50" y2="276.10" stroke="#222" stroke-width="0.5" />
<line x1="59.64" y1="274.50" x2="62.24" y2="274.50" stroke="#222" stroke-width="0.5" />
<circle cx="60.64" cy="274.20" r="0.85" fill="#000"/>
<circle cx="61.84" cy="275.85" r="0.85" fill="#000"/>
<circle cx="60.14" cy="276.70" r="0.85" fill="#000"/>
<rect x="66.92" y="306.90" width="5.80" height="84.40" fill="#7d9e9b" stroke="#526866" stroke-width="0.7" />
<line x1="69.50" y1="302.90" x2="69.50" y2="309.70" stroke="#222" stroke-width="0.5" />
<line x1="68.52" y1="302.50" x2="71.12" y2="302.50" stroke="#222" stroke-width="0.5" />
<circle cx="69.52" cy="302.10" r="0.85" fill="#000"/>
<circle cx="70.72" cy="308.70" r="0.85" fill="#000"/>
<circle cx="69.02" cy="312.10" r="0.85" fill="#000"/>
<rect x="75.80" y="280.10" width="5.80" height="111.20" fill="#55965a" stroke="#38633b" stroke-width="0.7" />
<line x1="78.50" y1="277.60" x2="78.50" y2="281.85" stroke="#222" stroke-width="0.5" />
<line x1="77.40" y1="277.50" x2="80.00" y2="277.50" stroke="#222" stroke-width="0.5" />
<circle cx="78.40" cy="277.10" r="0.85" fill="#000"/>
<circle cx="79.60" cy="281.23" r="0.85" fill="#000"/>
<circle cx="77.90" cy="283.35" r="0.85" fill="#000"/>
<rect x="84.68" y="292.00" width="5.80" height="99.30" fill="#3d6e5e" stroke="#28483e" stroke-width="0.7" />
<line x1="87.50" y1="289.00" x2="87.50" y2="294.10" stroke="#222" stroke-width="0.5" />
<line x1="86.28" y1="289.50" x2="88.88" y2="289.50" stroke="#222" stroke-width="0.5" />
<circle cx="87.28" cy="288.40" r="0.85" fill="#000"/>
<circle cx="88.48" cy="293.35" r="0.85" fill="#000"/>
<circle cx="86.78" cy="295.90" r="0.85" fill="#000"/>
<rect x="93.56" y="345.40" width="5.80" height="45.90" fill="#9a9a9a" stroke="#656565" stroke-width="0.7" />
<line x1="96.50" y1="343.40" x2="96.50" y2="346.80" stroke="#222" stroke-width="0.5" />
<line x1="95.16" y1="343.50" x2="97.76" y2="343.50" stroke="#222" stroke-width="0.5" />
<circle cx="96.16" cy="343.00" r="0.85" fill="#000"/>
<circle cx="97.36" cy="346.30" r="0.85" fill="#000"/>
<circle cx="95.66" cy="348.00" r="0.85" fill="#000"/>
<rect x="102.44" y="353.60" width="5.80" height="37.70" fill="#a9c9e1" stroke="#6f8494" stroke-width="0.7" />
<line x1="105.50" y1="350.10" x2="105.50" y2="356.05" stroke="#222" stroke-width="0.5" />
<line x1="104.04" y1="350.50" x2="106.64" y2="350.50" stroke="#222" stroke-width="0.5" />
<circle cx="105.04" cy="349.40" r="0.85" fill="#000"/>
<circle cx="106.24" cy="355.18" r="0.85" fill="#000"/>
<circle cx="104.54" cy="358.15" r="0.85" fill="#000"/>
<rect x="111.32" y="360.80" width="5.80" height="30.50" fill="#5b88ad" stroke="#3c5972" stroke-width="0.7" />
<line x1="114.50" y1="357.80" x2="114.50" y2="362.90" stroke="#222" stroke-width="0.5" />
<line x1="112.92" y1="357.50" x2="115.52" y2="357.50" stroke="#222" stroke-width="0.5" />
<circle cx="113.92" cy="357.20" r="0.85" fill="#000"/>
<circle cx="115.12" cy="362.15" r="0.85" fill="#000"/>
<circle cx="113.42" cy="364.70" r="0.85" fill="#000"/>
<rect x="120.20" y="355.80" width="5.80" height="35.50" fill="#2c5876" stroke="#1d3a4d" stroke-width="0.7" />
<line x1="123.50" y1="352.80" x2="123.50" y2="357.90" stroke="#222" stroke-width="0.5" />
<line x1="121.80" y1="352.50" x2="124.40" y2="352.50" stroke="#222" stroke-width="0.5" />
<circle cx="122.80" cy="352.20" r="0.85" fill="#000"/>
<circle cx="124.00" cy="357.15" r="0.85" fill="#000"/>
<circle cx="122.30" cy="359.70" r="0.85" fill="#000"/>
<rect x="135.30" y="349.10" width="5.80" height="42.20" fill="#c9c9c9" stroke="#848484" stroke-width="0.7" />
<line x1="138.50" y1="346.60" x2="138.50" y2="350.85" stroke="#222" stroke-width="0.5" />
<line x1="136.90" y1="346.50" x2="139.50" y2="346.50" stroke="#222" stroke-width="0.5" />
<circle cx="137.90" cy="346.10" r="0.85" fill="#000"/>
<circle cx="139.10" cy="350.23" r="0.85" fill="#000"/>
<circle cx="137.40" cy="352.35" r="0.85" fill="#000"/>
<rect x="144.21" y="332.20" width="5.80" height="59.10" fill="#c26d6f" stroke="#804749" stroke-width="0.7" />
<line x1="147.50" y1="331.20" x2="147.50" y2="332.90" stroke="#222" stroke-width="0.5" />
<line x1="145.81" y1="331.50" x2="148.41" y2="331.50" stroke="#222" stroke-width="0.5" />
<circle cx="146.81" cy="331.00" r="0.85" fill="#000"/>
<circle cx="148.01" cy="332.65" r="0.85" fill="#000"/>
<circle cx="146.31" cy="333.50" r="0.85" fill="#000"/>
<rect x="153.12" y="330.50" width="5.80" height="60.80" fill="#a5d7d3" stroke="#6c8d8b" stroke-width="0.7" />
<line x1="156.50" y1="329.00" x2="156.50" y2="331.55" stroke="#222" stroke-width="0.5" />
<line x1="154.72" y1="329.50" x2="157.32" y2="329.50" stroke="#222" stroke-width="0.5" />
<circle cx="155.72" cy="328.70" r="0.85" fill="#000"/>
<circle cx="156.92" cy="331.18" r="0.85" fill="#000"/>
<circle cx="155.22" cy="332.45" r="0.85" fill="#000"/>
<rect x="162.03" y="282.60" width="5.80" height="108.70" fill="#a7d6ab" stroke="#6e8d70" stroke-width="0.7" />
<line x1="164.50" y1="281.10" x2="164.50" y2="283.65" stroke="#222" stroke-width="0.5" />
<line x1="163.63" y1="281.50" x2="166.23" y2="281.50" stroke="#222" stroke-width="0.5" />
<circle cx="164.63" cy="280.80" r="0.85" fill="#000"/>
<circle cx="165.83" cy="283.28" r="0.85" fill="#000"/>
<circle cx="164.13" cy="284.55" r="0.85" fill="#000"/>
<rect x="170.94" y="351.10" width="5.80" height="40.20" fill="#7d9e9b" stroke="#526866" stroke-width="0.7" />
<line x1="173.50" y1="350.70" x2="173.50" y2="351.38" stroke="#222" stroke-width="0.5" />
<line x1="172.54" y1="350.50" x2="175.14" y2="350.50" stroke="#222" stroke-width="0.5" />
<circle cx="173.54" cy="350.62" r="0.85" fill="#000"/>
<circle cx="174.74" cy="351.28" r="0.85" fill="#000"/>
<circle cx="173.04" cy="351.62" r="0.85" fill="#000"/>
<rect x="179.85" y="331.70" width="5.80" height="59.60" fill="#55965a" stroke="#38633b" stroke-width="0.7" />
<line x1="182.50" y1="330.20" x2="182.50" y2="332.75" stroke="#222" stroke-width="0.5" />
<line x1="181.45" y1="330.50" x2="184.05" y2="330.50" stroke="#222" stroke-width="0.5" />
<circle cx="182.45" cy="329.90" r="0.85" fill="#000"/>
<circle cx="183.65" cy="332.38" r="0.85" fill="#000"/>
<circle cx="181.95" cy="333.65" r="0.85" fill="#000"/>
<rect x="188.76" y="293.80" width="5.80" height="97.50" fill="#3d6e5e" stroke="#28483e" stroke-width="0.7" />
<line x1="191.50" y1="290.30" x2="191.50" y2="296.25" stroke="#222" stroke-width="0.5" />
<line x1="190.36" y1="290.50" x2="192.96" y2="290.50" stroke="#222" stroke-width="0.5" />
<circle cx="191.36" cy="289.60" r="0.85" fill="#000"/>
<circle cx="192.56" cy="295.38" r="0.85" fill="#000"/>
<circle cx="190.86" cy="298.35" r="0.85" fill="#000"/>
<rect x="197.67" y="351.10" width="5.80" height="40.20" fill="#9a9a9a" stroke="#656565" stroke-width="0.7" />
<line x1="200.50" y1="349.10" x2="200.50" y2="352.50" stroke="#222" stroke-width="0.5" />
<line x1="199.27" y1="349.50" x2="201.87" y2="349.50" stroke="#222" stroke-width="0.5" />
<circle cx="200.27" cy="348.70" r="0.85" fill="#000"/>
<circle cx="201.47" cy="352.00" r="0.85" fill="#000"/>
<circle cx="199.77" cy="353.70" r="0.85" fill="#000"/>
<rect x="206.58" y="298.20" width="5.80" height="93.10" fill="#a9c9e1" stroke="#6f8494" stroke-width="0.7" />
<line x1="209.50" y1="294.20" x2="209.50" y2="301.00" stroke="#222" stroke-width="0.5" />
<line x1="208.18" y1="294.50" x2="210.78" y2="294.50" stroke="#222" stroke-width="0.5" />
<circle cx="209.18" cy="293.40" r="0.85" fill="#000"/>
<circle cx="210.38" cy="300.00" r="0.85" fill="#000"/>
<circle cx="208.68" cy="303.40" r="0.85" fill="#000"/>
<rect x="215.49" y="319.30" width="5.80" height="72.00" fill="#5b88ad" stroke="#3c5972" stroke-width="0.7" />
<line x1="218.50" y1="318.10" x2="218.50" y2="320.14" stroke="#222" stroke-width="0.5" />
<line x1="217.09" y1="318.50" x2="219.69" y2="318.50" stroke="#222" stroke-width="0.5" />
<circle cx="218.09" cy="317.86" r="0.85" fill="#000"/>
<circle cx="219.29" cy="319.84" r="0.85" fill="#000"/>
<circle cx="217.59" cy="320.86" r="0.85" fill="#000"/>
<rect x="224.40" y="320.10" width="5.80" height="71.20" fill="#2c5876" stroke="#1d3a4d" stroke-width="0.7" />
<line x1="227.50" y1="319.50" x2="227.50" y2="320.52" stroke="#222" stroke-width="0.5" />
<line x1="226.00" y1="319.50" x2="228.60" y2="319.50" stroke="#222" stroke-width="0.5" />
<circle cx="227.00" cy="319.38" r="0.85" fill="#000"/>
<circle cx="228.20" cy="320.37" r="0.85" fill="#000"/>
<circle cx="226.50" cy="320.88" r="0.85" fill="#000"/>
<line x1="28.50" y1="267.30" x2="28.50" y2="391.60" stroke="#3a3a3a" stroke-width="0.9" />
<line x1="27.70" y1="391.50" x2="233.50" y2="391.50" stroke="#3a3a3a" stroke-width="0.9" />
<line x1="24.50" y1="267.50" x2="28.00" y2="267.50" stroke="#3a3a3a" stroke-width="0.9" />
<text x="23.00" y="270.60" font-size="7.8" text-anchor="end" font-weight="normal" font-style="normal" fill="#000" >100</text>
<line x1="24.50" y1="308.50" x2="28.00" y2="308.50" stroke="#3a3a3a" stroke-width="0.9" />
<text x="23.00" y="311.80" font-size="7.8" text-anchor="end" font-weight="normal" font-style="normal" fill="#000" >10</text>
<line x1="24.50" y1="350.50" x2="28.00" y2="350.50" stroke="#3a3a3a" stroke-width="0.9" />
<text x="23.00" y="353.20" font-size="7.8" text-anchor="end" font-weight="normal" font-style="normal" fill="#000" >1</text>
<line x1="24.50" y1="391.50" x2="28.00" y2="391.50" stroke="#3a3a3a" stroke-width="0.9" />
<text x="23.00" y="394.20" font-size="7.8" text-anchor="end" font-weight="normal" font-style="normal" fill="#000" >0.1</text>
<text x="6.50" y="329.50" font-size="7.7" text-anchor="middle" font-weight="normal" font-style="normal" fill="#000" transform="rotate(-90 6.50 329.50)" >Enrichment</text>
<line x1="78.50" y1="391.30" x2="78.50" y2="394.50" stroke="#3a3a3a" stroke-width="0.9" />
<text x="78.90" y="403.60" font-size="8.3" text-anchor="middle" font-weight="normal" font-style="normal" fill="#000" >Pemigatinib</text>
<line x1="182.50" y1="391.30" x2="182.50" y2="394.50" stroke="#3a3a3a" stroke-width="0.9" />
<text x="182.60" y="403.60" font-size="8.3" text-anchor="middle" font-weight="normal" font-style="normal" fill="#000" >Futibatinib</text>
<rect x="242.20" y="272.90" width="7.00" height="6.80" fill="#c9c9c9" />
<text x="253.30" y="279.30" font-size="8.0" text-anchor="start" font-weight="normal" font-style="normal" fill="#000" >V564V</text>
<rect x="242.20" y="285.23" width="7.00" height="6.80" fill="#c26d6f" />
<text x="253.30" y="291.63" font-size="8.0" text-anchor="start" font-weight="normal" font-style="normal" fill="#000" >V564A</text>
<rect x="242.20" y="297.56" width="7.00" height="6.80" fill="#a5d7d3" />
<text x="253.30" y="303.96" font-size="8.0" text-anchor="start" font-weight="normal" font-style="normal" fill="#000" >V564D</text>
<rect x="242.20" y="309.89" width="7.00" height="6.80" fill="#a7d6ab" />
<text x="253.30" y="316.29" font-size="8.0" text-anchor="start" font-weight="normal" font-style="normal" fill="#000" >V564F</text>
<rect x="242.20" y="322.22" width="7.00" height="6.80" fill="#7d9e9b" />
<text x="253.30" y="328.62" font-size="8.0" text-anchor="start" font-weight="normal" font-style="normal" fill="#000" >V564G</text>
<rect x="242.20" y="334.55" width="7.00" height="6.80" fill="#55965a" />
<text x="253.30" y="340.95" font-size="8.0" text-anchor="start" font-weight="normal" font-style="normal" fill="#000" >V564I</text>
<rect x="242.20" y="346.88" width="7.00" height="6.80" fill="#3d6e5e" />
<text x="253.30" y="353.28" font-size="8.0" text-anchor="start" font-weight="normal" font-style="normal" fill="#000" >V564L</text>
<rect x="242.20" y="359.21" width="7.00" height="6.80" fill="#9a9a9a" />
<text x="253.30" y="365.61" font-size="8.0" text-anchor="start" font-weight="normal" font-style="normal" fill="#000" >C491C</text>
<rect x="242.20" y="371.54" width="7.00" height="6.80" fill="#a9c9e1" />
<text x="253.30" y="377.94" font-size="8.0" text-anchor="start" font-weight="normal" font-style="normal" fill="#000" >C491F</text>
<rect x="242.20" y="383.87" width="7.00" height="6.80" fill="#5b88ad" />
<text x="253.30" y="390.27" font-size="8.0" text-anchor="start" font-weight="normal" font-style="normal" fill="#000" >C491S</text>
<rect x="242.20" y="396.20" width="7.00" height="6.80" fill="#2c5876" />
<text x="253.30" y="402.60" font-size="8.0" text-anchor="start" font-weight="normal" font-style="normal" fill="#000" >C491Y</text>
<text x="298.20" y="240.40" font-size="13" text-anchor="start" font-weight="bold" font-style="normal" fill="#000" >e</text>
<text x="474.70" y="243.90" font-size="9.6" text-anchor="middle" font-weight="bold" font-style="normal" fill="#000" >RT-112 validation</text>
<text x="475" y="254" font-size="8.1" text-anchor="middle">(<tspan font-style="italic">FGFR2</tspan>)</text>
<rect x="331.60" y="287.50" width="5.50" height="105.80" fill="#c9c9c9" stroke="#848484" stroke-width="0.7" />
<line x1="331.30" y1="287.80" x2="337.40" y2="287.80" stroke="#111" stroke-width="1.5" />
<rect x="340.29" y="287.50" width="5.50" height="105.80" fill="#8e8e8e" stroke="#5d5d5d" stroke-width="0.7" />
<line x1="339.99" y1="287.80" x2="346.09" y2="287.80" stroke="#111" stroke-width="1.5" />
<rect x="348.98" y="287.50" width="5.50" height="105.80" fill="#c26d6f" stroke="#804749" stroke-width="0.7" />
<line x1="348.68" y1="287.80" x2="354.78" y2="287.80" stroke="#111" stroke-width="1.5" />
<rect x="357.67" y="287.50" width="5.50" height="105.80" fill="#a5d7d3" stroke="#6c8d8b" stroke-width="0.7" />
<line x1="357.37" y1="287.80" x2="363.47" y2="287.80" stroke="#111" stroke-width="1.5" />
<rect x="366.36" y="287.50" width="5.50" height="105.80" fill="#a7d6ab" stroke="#6e8d70" stroke-width="0.7" />
<line x1="366.06" y1="287.80" x2="372.16" y2="287.80" stroke="#111" stroke-width="1.5" />
<rect x="375.05" y="287.50" width="5.50" height="105.80" fill="#7d9e9b" stroke="#526866" stroke-width="0.7" />
<line x1="374.75" y1="287.80" x2="380.85" y2="287.80" stroke="#111" stroke-width="1.5" />
<rect x="383.74" y="287.50" width="5.50" height="105.80" fill="#55965a" stroke="#38633b" stroke-width="0.7" />
<line x1="383.44" y1="287.80" x2="389.54" y2="287.80" stroke="#111" stroke-width="1.5" />
<rect x="392.43" y="287.50" width="5.50" height="105.80" fill="#3d6e5e" stroke="#28483e" stroke-width="0.7" />
<line x1="392.13" y1="287.80" x2="398.23" y2="287.80" stroke="#111" stroke-width="1.5" />
<rect x="401.12" y="287.50" width="5.50" height="105.80" fill="#a9c9e1" stroke="#6f8494" stroke-width="0.7" />
<line x1="400.82" y1="287.80" x2="406.92" y2="287.80" stroke="#111" stroke-width="1.5" />
<rect x="409.81" y="287.50" width="5.50" height="105.80" fill="#5b88ad" stroke="#3c5972" stroke-width="0.7" />
<line x1="409.51" y1="287.80" x2="415.61" y2="287.80" stroke="#111" stroke-width="1.5" />
<rect x="418.50" y="287.50" width="5.50" height="105.80" fill="#2c5876" stroke="#1d3a4d" stroke-width="0.7" />
<line x1="418.20" y1="287.80" x2="424.30" y2="287.80" stroke="#111" stroke-width="1.5" />
<rect x="432.30" y="347.38" width="5.60" height="45.92" fill="#c9c9c9" stroke="#848484" stroke-width="0.7" />
<line x1="435.50" y1="345.27" x2="435.50" y2="349.50" stroke="#222" stroke-width="0.5" />
<line x1="433.80" y1="345.50" x2="436.40" y2="345.50" stroke="#222" stroke-width="0.5" />
<line x1="433.80" y1="349.50" x2="436.40" y2="349.50" stroke="#222" stroke-width="0.5" />
<circle cx="434.20" cy="345.69" r="0.85" fill="#000"/>
<circle cx="436.00" cy="348.65" r="0.85" fill="#000"/>
<circle cx="435.10" cy="347.49" r="0.85" fill="#000"/>
<text x="435.10" y="342.97" font-size="4.8" text-anchor="middle" font-weight="bold" font-style="normal" fill="#111" >****</text>
<rect x="440.99" y="371.93" width="5.60" height="21.37" fill="#8e8e8e" stroke="#5d5d5d" stroke-width="0.7" />
<line x1="443.50" y1="371.40" x2="443.50" y2="372.46" stroke="#222" stroke-width="0.5" />
<line x1="442.49" y1="371.50" x2="445.09" y2="371.50" stroke="#222" stroke-width="0.5" />
<line x1="442.49" y1="372.50" x2="445.09" y2="372.50" stroke="#222" stroke-width="0.5" />
<circle cx="442.89" cy="371.51" r="0.85" fill="#000"/>
<circle cx="444.69" cy="372.25" r="0.85" fill="#000"/>
<circle cx="443.79" cy="371.95" r="0.85" fill="#000"/>
<rect x="449.68" y="375.63" width="5.60" height="17.67" fill="#c26d6f" stroke="#804749" stroke-width="0.7" />
<line x1="452.50" y1="374.36" x2="452.50" y2="376.90" stroke="#222" stroke-width="0.5" />
<line x1="451.18" y1="374.50" x2="453.78" y2="374.50" stroke="#222" stroke-width="0.5" />
<line x1="451.18" y1="376.50" x2="453.78" y2="376.50" stroke="#222" stroke-width="0.5" />
<circle cx="451.58" cy="374.62" r="0.85" fill="#000"/>
<circle cx="453.38" cy="376.39" r="0.85" fill="#000"/>
<circle cx="452.48" cy="375.69" r="0.85" fill="#000"/>
<text x="452.48" y="372.06" font-size="4.8" text-anchor="middle" font-weight="bold" font-style="normal" fill="#111" >**</text>
<rect x="458.37" y="290.67" width="5.60" height="102.63" fill="#a5d7d3" stroke="#6c8d8b" stroke-width="0.7" />
<line x1="461.50" y1="285.91" x2="461.50" y2="295.44" stroke="#222" stroke-width="0.5" />
<line x1="459.87" y1="285.50" x2="462.47" y2="285.50" stroke="#222" stroke-width="0.5" />
<line x1="459.87" y1="295.50" x2="462.47" y2="295.50" stroke="#222" stroke-width="0.5" />
<circle cx="460.27" cy="286.87" r="0.85" fill="#000"/>
<circle cx="462.07" cy="293.53" r="0.85" fill="#000"/>
<circle cx="461.17" cy="290.91" r="0.85" fill="#000"/>
<text x="461.17" y="282.41" font-size="4.8" text-anchor="middle" font-weight="bold" font-style="normal" fill="#111" >****</text>
<rect x="467.06" y="288.24" width="5.60" height="105.06" fill="#a7d6ab" stroke="#6e8d70" stroke-width="0.7" />
<line x1="469.50" y1="286.12" x2="469.50" y2="290.36" stroke="#222" stroke-width="0.5" />
<line x1="468.56" y1="286.50" x2="471.16" y2="286.50" stroke="#222" stroke-width="0.5" />
<line x1="468.56" y1="290.50" x2="471.16" y2="290.50" stroke="#222" stroke-width="0.5" />
<circle cx="468.96" cy="286.55" r="0.85" fill="#000"/>
<circle cx="470.76" cy="289.51" r="0.85" fill="#000"/>
<circle cx="469.86" cy="288.35" r="0.85" fill="#000"/>
<text x="469.86" y="283.82" font-size="4.8" text-anchor="middle" font-weight="bold" font-style="normal" fill="#111" >****</text>
<rect x="475.75" y="323.05" width="5.60" height="70.25" fill="#7d9e9b" stroke="#526866" stroke-width="0.7" />
<line x1="478.50" y1="317.76" x2="478.50" y2="328.34" stroke="#222" stroke-width="0.5" />
<line x1="477.25" y1="317.50" x2="479.85" y2="317.50" stroke="#222" stroke-width="0.5" />
<line x1="477.25" y1="328.50" x2="479.85" y2="328.50" stroke="#222" stroke-width="0.5" />
<circle cx="477.65" cy="318.82" r="0.85" fill="#000"/>
<circle cx="479.45" cy="326.22" r="0.85" fill="#000"/>
<circle cx="478.55" cy="323.31" r="0.85" fill="#000"/>
<text x="478.55" y="314.26" font-size="4.8" text-anchor="middle" font-weight="bold" font-style="normal" fill="#111" >***</text>
<rect x="484.44" y="301.36" width="5.60" height="91.94" fill="#55965a" stroke="#38633b" stroke-width="0.7" />
<line x1="487.50" y1="293.95" x2="487.50" y2="308.77" stroke="#222" stroke-width="0.5" />
<line x1="485.94" y1="293.50" x2="488.54" y2="293.50" stroke="#222" stroke-width="0.5" />
<line x1="485.94" y1="308.50" x2="488.54" y2="308.50" stroke="#222" stroke-width="0.5" />
<circle cx="486.34" cy="295.44" r="0.85" fill="#000"/>
<circle cx="488.14" cy="305.80" r="0.85" fill="#000"/>
<circle cx="487.24" cy="301.73" r="0.85" fill="#000"/>
<text x="487.24" y="291.65" font-size="4.8" text-anchor="middle" font-weight="bold" font-style="normal" fill="#111" >***</text>
<rect x="493.13" y="313.84" width="5.60" height="79.46" fill="#3d6e5e" stroke="#28483e" stroke-width="0.7" />
<line x1="495.50" y1="305.38" x2="495.50" y2="322.31" stroke="#222" stroke-width="0.5" />
<line x1="494.63" y1="305.50" x2="497.23" y2="305.50" stroke="#222" stroke-width="0.5" />
<line x1="494.63" y1="322.50" x2="497.23" y2="322.50" stroke="#222" stroke-width="0.5" />
<circle cx="495.03" cy="307.07" r="0.85" fill="#000"/>
<circle cx="496.83" cy="318.92" r="0.85" fill="#000"/>
<circle cx="495.93" cy="314.27" r="0.85" fill="#000"/>
<text x="495.93" y="301.88" font-size="4.8" text-anchor="middle" font-weight="bold" font-style="normal" fill="#111" >***</text>
<rect x="501.82" y="363.99" width="5.60" height="29.31" fill="#a9c9e1" stroke="#6f8494" stroke-width="0.7" />
<line x1="504.50" y1="361.88" x2="504.50" y2="366.11" stroke="#222" stroke-width="0.5" />
<line x1="503.32" y1="361.50" x2="505.92" y2="361.50" stroke="#222" stroke-width="0.5" />
<line x1="503.32" y1="366.50" x2="505.92" y2="366.50" stroke="#222" stroke-width="0.5" />
<circle cx="503.72" cy="362.30" r="0.85" fill="#000"/>
<circle cx="505.52" cy="365.26" r="0.85" fill="#000"/>
<circle cx="504.62" cy="364.10" r="0.85" fill="#000"/>
<text x="504.62" y="359.58" font-size="4.8" text-anchor="middle" font-weight="bold" font-style="normal" fill="#111" >***</text>
<rect x="510.51" y="340.40" width="5.60" height="52.90" fill="#5b88ad" stroke="#3c5972" stroke-width="0.7" />
<line x1="513.50" y1="338.81" x2="513.50" y2="341.99" stroke="#222" stroke-width="0.5" />
<line x1="512.01" y1="338.50" x2="514.61" y2="338.50" stroke="#222" stroke-width="0.5" />
<line x1="512.01" y1="341.50" x2="514.61" y2="341.50" stroke="#222" stroke-width="0.5" />
<circle cx="512.41" cy="339.13" r="0.85" fill="#000"/>
<circle cx="514.21" cy="341.35" r="0.85" fill="#000"/>
<circle cx="513.31" cy="340.48" r="0.85" fill="#000"/>
<text x="513.31" y="335.31" font-size="4.8" text-anchor="middle" font-weight="bold" font-style="normal" fill="#111" >****</text>
<rect x="519.20" y="352.57" width="5.60" height="40.73" fill="#2c5876" stroke="#1d3a4d" stroke-width="0.7" />
<line x1="522.50" y1="351.93" x2="522.50" y2="353.20" stroke="#222" stroke-width="0.5" />
<line x1="520.70" y1="351.50" x2="523.30" y2="351.50" stroke="#222" stroke-width="0.5" />
<line x1="520.70" y1="353.50" x2="523.30" y2="353.50" stroke="#222" stroke-width="0.5" />
<circle cx="521.10" cy="352.06" r="0.85" fill="#000"/>
<circle cx="522.90" cy="352.95" r="0.85" fill="#000"/>
<circle cx="522.00" cy="352.60" r="0.85" fill="#000"/>
<text x="522.00" y="349.63" font-size="4.8" text-anchor="middle" font-weight="bold" font-style="normal" fill="#111" >****</text>
<rect x="533.20" y="332.25" width="5.60" height="61.05" fill="#c9c9c9" stroke="#848484" stroke-width="0.7" />
<line x1="536.50" y1="326.43" x2="536.50" y2="338.07" stroke="#222" stroke-width="0.5" />
<line x1="534.70" y1="326.50" x2="537.30" y2="326.50" stroke="#222" stroke-width="0.5" />
<line x1="534.70" y1="338.50" x2="537.30" y2="338.50" stroke="#222" stroke-width="0.5" />
<circle cx="535.10" cy="327.60" r="0.85" fill="#000"/>
<circle cx="536.90" cy="335.74" r="0.85" fill="#000"/>
<circle cx="536.00" cy="332.54" r="0.85" fill="#000"/>
<text x="536.00" y="324.13" font-size="4.8" text-anchor="middle" font-weight="bold" font-style="normal" fill="#111" >****</text>
<rect x="541.89" y="369.71" width="5.60" height="23.59" fill="#8e8e8e" stroke="#5d5d5d" stroke-width="0.7" />
<line x1="544.50" y1="367.59" x2="544.50" y2="371.82" stroke="#222" stroke-width="0.5" />
<line x1="543.39" y1="367.50" x2="545.99" y2="367.50" stroke="#222" stroke-width="0.5" />
<line x1="543.39" y1="371.50" x2="545.99" y2="371.50" stroke="#222" stroke-width="0.5" />
<circle cx="543.79" cy="368.01" r="0.85" fill="#000"/>
<circle cx="545.59" cy="370.98" r="0.85" fill="#000"/>
<circle cx="544.69" cy="369.81" r="0.85" fill="#000"/>
<rect x="550.58" y="373.41" width="5.60" height="19.89" fill="#c26d6f" stroke="#804749" stroke-width="0.7" />
<line x1="553.50" y1="369.71" x2="553.50" y2="377.11" stroke="#222" stroke-width="0.5" />
<line x1="552.08" y1="369.50" x2="554.68" y2="369.50" stroke="#222" stroke-width="0.5" />
<line x1="552.08" y1="377.50" x2="554.68" y2="377.50" stroke="#222" stroke-width="0.5" />
<circle cx="552.48" cy="370.45" r="0.85" fill="#000"/>
<circle cx="554.28" cy="375.63" r="0.85" fill="#000"/>
<circle cx="553.38" cy="373.59" r="0.85" fill="#000"/>
<text x="553.38" y="367.41" font-size="4.8" text-anchor="middle" font-weight="bold" font-style="normal" fill="#111" >n.s.</text>
<rect x="559.27" y="286.44" width="5.60" height="106.86" fill="#a5d7d3" stroke="#6c8d8b" stroke-width="0.7" />
<line x1="562.50" y1="275.86" x2="562.50" y2="297.02" stroke="#222" stroke-width="0.5" />
<line x1="560.77" y1="275.50" x2="563.37" y2="275.50" stroke="#222" stroke-width="0.5" />
<line x1="560.77" y1="297.50" x2="563.37" y2="297.50" stroke="#222" stroke-width="0.5" />
<circle cx="561.17" cy="277.98" r="0.85" fill="#000"/>
<circle cx="562.97" cy="292.79" r="0.85" fill="#000"/>
<circle cx="562.07" cy="286.97" r="0.85" fill="#000"/>
<text x="562.07" y="272.36" font-size="4.8" text-anchor="middle" font-weight="bold" font-style="normal" fill="#111" >****</text>
<rect x="567.96" y="286.44" width="5.60" height="106.86" fill="#a7d6ab" stroke="#6e8d70" stroke-width="0.7" />
<line x1="570.50" y1="282.21" x2="570.50" y2="290.67" stroke="#222" stroke-width="0.5" />
<line x1="569.46" y1="282.50" x2="572.06" y2="282.50" stroke="#222" stroke-width="0.5" />
<line x1="569.46" y1="290.50" x2="572.06" y2="290.50" stroke="#222" stroke-width="0.5" />
<circle cx="569.86" cy="283.06" r="0.85" fill="#000"/>
<circle cx="571.66" cy="288.98" r="0.85" fill="#000"/>
<circle cx="570.76" cy="286.65" r="0.85" fill="#000"/>
<text x="570.76" y="279.91" font-size="4.8" text-anchor="middle" font-weight="bold" font-style="normal" fill="#111" >****</text>
<rect x="576.65" y="367.91" width="5.60" height="25.39" fill="#7d9e9b" stroke="#526866" stroke-width="0.7" />
<line x1="579.50" y1="359.97" x2="579.50" y2="375.84" stroke="#222" stroke-width="0.5" />
<line x1="578.15" y1="359.50" x2="580.75" y2="359.50" stroke="#222" stroke-width="0.5" />
<line x1="578.15" y1="375.50" x2="580.75" y2="375.50" stroke="#222" stroke-width="0.5" />
<circle cx="578.55" cy="361.56" r="0.85" fill="#000"/>
<circle cx="580.35" cy="372.67" r="0.85" fill="#000"/>
<circle cx="579.45" cy="368.30" r="0.85" fill="#000"/>
<text x="579.45" y="356.47" font-size="4.8" text-anchor="middle" font-weight="bold" font-style="normal" fill="#111" >n.s.</text>
<rect x="585.34" y="364.73" width="5.60" height="28.57" fill="#55965a" stroke="#38633b" stroke-width="0.7" />
<line x1="588.50" y1="361.03" x2="588.50" y2="368.44" stroke="#222" stroke-width="0.5" />
<line x1="586.84" y1="361.50" x2="589.44" y2="361.50" stroke="#222" stroke-width="0.5" />
<line x1="586.84" y1="368.50" x2="589.44" y2="368.50" stroke="#222" stroke-width="0.5" />
<circle cx="587.24" cy="361.77" r="0.85" fill="#000"/>
<circle cx="589.04" cy="366.96" r="0.85" fill="#000"/>
<circle cx="588.14" cy="364.92" r="0.85" fill="#000"/>
<text x="588.14" y="358.73" font-size="4.8" text-anchor="middle" font-weight="bold" font-style="normal" fill="#111" >*</text>
<rect x="594.03" y="308.13" width="5.60" height="85.17" fill="#3d6e5e" stroke="#28483e" stroke-width="0.7" />
<line x1="596.50" y1="283.80" x2="596.50" y2="332.46" stroke="#222" stroke-width="0.5" />
<line x1="595.53" y1="283.50" x2="598.13" y2="283.50" stroke="#222" stroke-width="0.5" />
<line x1="595.53" y1="332.50" x2="598.13" y2="332.50" stroke="#222" stroke-width="0.5" />
<circle cx="595.93" cy="288.66" r="0.85" fill="#000"/>
<circle cx="597.73" cy="322.73" r="0.85" fill="#000"/>
<circle cx="596.83" cy="309.35" r="0.85" fill="#000"/>
<text x="596.83" y="280.30" font-size="4.8" text-anchor="middle" font-weight="bold" font-style="normal" fill="#111" >**</text>
<rect x="602.72" y="293.21" width="5.60" height="100.09" fill="#a9c9e1" stroke="#6f8494" stroke-width="0.7" />
<line x1="605.50" y1="285.81" x2="605.50" y2="300.62" stroke="#222" stroke-width="0.5" />
<line x1="604.22" y1="285.50" x2="606.82" y2="285.50" stroke="#222" stroke-width="0.5" />
<line x1="604.22" y1="300.50" x2="606.82" y2="300.50" stroke="#222" stroke-width="0.5" />
<circle cx="604.62" cy="287.29" r="0.85" fill="#000"/>
<circle cx="606.42" cy="297.66" r="0.85" fill="#000"/>
<circle cx="605.52" cy="293.58" r="0.85" fill="#000"/>
<text x="605.52" y="283.51" font-size="4.8" text-anchor="middle" font-weight="bold" font-style="normal" fill="#111" >****</text>
<rect x="611.41" y="295.65" width="5.60" height="97.65" fill="#5b88ad" stroke="#3c5972" stroke-width="0.7" />
<line x1="614.50" y1="289.30" x2="614.50" y2="301.99" stroke="#222" stroke-width="0.5" />
<line x1="612.91" y1="289.50" x2="615.51" y2="289.50" stroke="#222" stroke-width="0.5" />
<line x1="612.91" y1="301.50" x2="615.51" y2="301.50" stroke="#222" stroke-width="0.5" />
<circle cx="613.31" cy="290.57" r="0.85" fill="#000"/>
<circle cx="615.11" cy="299.46" r="0.85" fill="#000"/>
<circle cx="614.21" cy="295.96" r="0.85" fill="#000"/>
<text x="614.21" y="285.80" font-size="4.8" text-anchor="middle" font-weight="bold" font-style="normal" fill="#111" >****</text>
<rect x="620.10" y="293.95" width="5.60" height="99.35" fill="#2c5876" stroke="#1d3a4d" stroke-width="0.7" />
<line x1="622.50" y1="285.49" x2="622.50" y2="302.42" stroke="#222" stroke-width="0.5" />
<line x1="621.60" y1="285.50" x2="624.20" y2="285.50" stroke="#222" stroke-width="0.5" />
<line x1="621.60" y1="302.50" x2="624.20" y2="302.50" stroke="#222" stroke-width="0.5" />
<circle cx="622.00" cy="287.18" r="0.85" fill="#000"/>
<circle cx="623.80" cy="299.03" r="0.85" fill="#000"/>
<circle cx="622.90" cy="294.38" r="0.85" fill="#000"/>
<text x="622.90" y="283.19" font-size="4.8" text-anchor="middle" font-weight="bold" font-style="normal" fill="#111" >****</text>
<line x1="328.50" y1="267.20" x2="328.50" y2="393.60" stroke="#3a3a3a" stroke-width="0.9" />
<line x1="328.20" y1="393.50" x2="628.00" y2="393.50" stroke="#3a3a3a" stroke-width="0.9" />
<line x1="325.00" y1="393.50" x2="328.50" y2="393.50" stroke="#3a3a3a" stroke-width="0.9" />
<text x="323.50" y="396.30" font-size="8.2" text-anchor="end" font-weight="normal" font-style="normal" fill="#000" >0</text>
<line x1="325.00" y1="340.50" x2="328.50" y2="340.50" stroke="#3a3a3a" stroke-width="0.9" />
<text x="323.50" y="343.40" font-size="8.2" text-anchor="end" font-weight="normal" font-style="normal" fill="#000" >50</text>
<line x1="325.00" y1="287.50" x2="328.50" y2="287.50" stroke="#3a3a3a" stroke-width="0.9" />
<text x="323.50" y="290.50" font-size="8.2" text-anchor="end" font-weight="normal" font-style="normal" fill="#000" >100</text>
<text x="305.20" y="330.00" font-size="7.95" text-anchor="middle" font-weight="normal" font-style="normal" fill="#000" transform="rotate(-90 305.20 330.00)" >Cell viability [%]</text>
<line x1="377.50" y1="393.30" x2="377.50" y2="396.50" stroke="#3a3a3a" stroke-width="0.9" />
<text x="377.70" y="404.20" font-size="6.8" text-anchor="middle" font-weight="normal" font-style="normal" fill="#000" >DMSO</text>
<line x1="478.50" y1="393.30" x2="478.50" y2="396.50" stroke="#3a3a3a" stroke-width="0.9" />
<text x="478.60" y="404.20" font-size="6.8" text-anchor="middle" font-weight="normal" font-style="normal" fill="#000" >20 nM Pemigatinib</text>
<line x1="579.50" y1="393.30" x2="579.50" y2="396.50" stroke="#3a3a3a" stroke-width="0.9" />
<text x="579.00" y="404.20" font-size="6.8" text-anchor="middle" font-weight="normal" font-style="normal" fill="#000" >20 nM Futibatinib</text>
<rect x="635.60" y="272.90" width="7.00" height="6.80" fill="#c9c9c9" />
<text x="646.50" y="279.30" font-size="8.0" text-anchor="start" font-weight="normal" font-style="normal" fill="#000" >EV</text>
<rect x="635.60" y="285.23" width="7.00" height="6.80" fill="#8e8e8e" />
<text x="646.50" y="291.63" font-size="8.0" text-anchor="start" font-weight="normal" font-style="normal" fill="#000" >WT</text>
<rect x="635.60" y="297.56" width="7.00" height="6.80" fill="#c26d6f" />
<text x="646.50" y="303.96" font-size="8.0" text-anchor="start" font-weight="normal" font-style="normal" fill="#000" >V564A</text>
<rect x="635.60" y="309.89" width="7.00" height="6.80" fill="#a5d7d3" />
<text x="646.50" y="316.29" font-size="8.0" text-anchor="start" font-weight="normal" font-style="normal" fill="#000" >V564D</text>
<rect x="635.60" y="322.22" width="7.00" height="6.80" fill="#a7d6ab" />
<text x="646.50" y="328.62" font-size="8.0" text-anchor="start" font-weight="normal" font-style="normal" fill="#000" >V564F</text>
<rect x="635.60" y="334.55" width="7.00" height="6.80" fill="#7d9e9b" />
<text x="646.50" y="340.95" font-size="8.0" text-anchor="start" font-weight="normal" font-style="normal" fill="#000" >V564G</text>
<rect x="635.60" y="346.88" width="7.00" height="6.80" fill="#55965a" />
<text x="646.50" y="353.28" font-size="8.0" text-anchor="start" font-weight="normal" font-style="normal" fill="#000" >V564I</text>
<rect x="635.60" y="359.21" width="7.00" height="6.80" fill="#3d6e5e" />
<text x="646.50" y="365.61" font-size="8.0" text-anchor="start" font-weight="normal" font-style="normal" fill="#000" >V564L</text>
<rect x="635.60" y="371.54" width="7.00" height="6.80" fill="#a9c9e1" />
<text x="646.50" y="377.94" font-size="8.0" text-anchor="start" font-weight="normal" font-style="normal" fill="#000" >C491F</text>
<rect x="635.60" y="383.87" width="7.00" height="6.80" fill="#5b88ad" />
<text x="646.50" y="390.27" font-size="8.0" text-anchor="start" font-weight="normal" font-style="normal" fill="#000" >C491S</text>
<rect x="635.60" y="396.20" width="7.00" height="6.80" fill="#2c5876" />
<text x="646.50" y="402.60" font-size="8.0" text-anchor="start" font-weight="normal" font-style="normal" fill="#000" >C491Y</text>
<text x="1.60" y="442.20" font-size="13" text-anchor="start" font-weight="bold" font-style="normal" fill="#000" >f</text>
<g shape-rendering="crispEdges">
<rect x="48.20" y="449.50" width="13.55" height="28.20" fill="#5d8d40" />
<rect x="48.20" y="477.70" width="13.55" height="27.20" fill="#5a8bbe" />
<rect x="48.20" y="504.90" width="13.55" height="27.60" fill="#b98acb" />
<rect x="61.75" y="449.50" width="13.55" height="28.20" fill="#c9dcc5" />
<rect x="61.75" y="504.90" width="13.55" height="27.60" fill="#b98acb" />
<rect x="75.31" y="449.50" width="13.55" height="28.20" fill="#c9dcc5" />
<rect x="75.31" y="504.90" width="13.55" height="27.60" fill="#b98acb" />
<rect x="88.86" y="477.70" width="13.55" height="27.20" fill="#446194" />
<rect x="88.86" y="504.90" width="13.55" height="27.60" fill="#dbb58e" />
<rect x="102.42" y="449.50" width="13.55" height="28.20" fill="#5d8d40" />
<rect x="102.42" y="477.70" width="13.55" height="27.20" fill="#b4c7da" />
<rect x="102.42" y="504.90" width="13.55" height="27.60" fill="#dbb58e" />
<rect x="115.97" y="449.50" width="13.55" height="28.20" fill="#5d8d40" />
<rect x="115.97" y="477.70" width="13.55" height="27.20" fill="#9ab5d6" />
<rect x="115.97" y="504.90" width="13.55" height="27.60" fill="#dbb58e" />
<rect x="129.52" y="449.50" width="13.55" height="28.20" fill="#5d8d40" />
<rect x="129.52" y="477.70" width="13.55" height="27.20" fill="#446194" />
<rect x="129.52" y="504.90" width="13.55" height="27.60" fill="#dbb58e" />
<rect x="143.08" y="449.50" width="13.55" height="28.20" fill="#5d8d40" />
<rect x="143.08" y="477.70" width="13.55" height="27.20" fill="#446194" />
<rect x="143.08" y="504.90" width="13.55" height="27.60" fill="#dbb58e" />
<rect x="156.63" y="449.50" width="13.55" height="28.20" fill="#86b961" />
<rect x="156.63" y="477.70" width="13.55" height="27.20" fill="#b4c7da" />
<rect x="156.63" y="504.90" width="13.55" height="27.60" fill="#dbb58e" />
<rect x="170.19" y="449.50" width="13.55" height="28.20" fill="#abcf99" />
<rect x="170.19" y="504.90" width="13.55" height="27.60" fill="#dbb58e" />
<rect x="183.74" y="449.50" width="13.55" height="28.20" fill="#86b961" />
<rect x="183.74" y="477.70" width="13.55" height="27.20" fill="#b4c7da" />
<rect x="183.74" y="504.90" width="13.55" height="27.60" fill="#dbb58e" />
<rect x="197.29" y="449.50" width="13.55" height="28.20" fill="#5d8d40" />
<rect x="197.29" y="477.70" width="13.55" height="27.20" fill="#9ab5d6" />
<rect x="197.29" y="504.90" width="13.55" height="27.60" fill="#dbb58e" />
<rect x="210.85" y="449.50" width="13.55" height="28.20" fill="#5d8d40" />
<rect x="210.85" y="477.70" width="13.55" height="27.20" fill="#446194" />
<rect x="210.85" y="504.90" width="13.55" height="27.60" fill="#dbb58e" />
<rect x="224.40" y="449.50" width="13.55" height="28.20" fill="#5d8d40" />
<rect x="224.40" y="477.70" width="13.55" height="27.20" fill="#446194" />
<rect x="224.40" y="504.90" width="13.55" height="27.60" fill="#dbb58e" />
<rect x="237.96" y="449.50" width="13.55" height="28.20" fill="#5d8d40" />
<rect x="237.96" y="477.70" width="13.55" height="27.20" fill="#9ab5d6" />
<rect x="237.96" y="504.90" width="13.55" height="27.60" fill="#dbb58e" />
<rect x="251.51" y="449.50" width="13.55" height="28.20" fill="#5d8d40" />
<rect x="251.51" y="504.90" width="13.55" height="27.60" fill="#dbb58e" />
<rect x="265.06" y="449.50" width="13.55" height="28.20" fill="#5d8d40" />
<rect x="265.06" y="477.70" width="13.55" height="27.20" fill="#b4c7da" />
<rect x="265.06" y="504.90" width="13.55" height="27.60" fill="#dbb58e" />
<rect x="278.62" y="449.50" width="13.55" height="28.20" fill="#5d8d40" />
<rect x="278.62" y="477.70" width="13.55" height="27.20" fill="#9ab5d6" />
<rect x="278.62" y="504.90" width="13.55" height="27.60" fill="#dbb58e" />
<rect x="292.17" y="449.50" width="13.55" height="28.20" fill="#c9dcc5" />
<rect x="292.17" y="504.90" width="13.55" height="27.60" fill="#dbb58e" />
<rect x="305.73" y="449.50" width="13.55" height="28.20" fill="#abcf99" />
<rect x="305.73" y="477.70" width="13.55" height="27.20" fill="#b4c7da" />
<rect x="305.73" y="504.90" width="13.55" height="27.60" fill="#dbb58e" />
<rect x="319.28" y="449.50" width="13.55" height="28.20" fill="#86b961" />
<rect x="319.28" y="477.70" width="13.55" height="27.20" fill="#b4c7da" />
<rect x="319.28" y="504.90" width="13.55" height="27.60" fill="#dbb58e" />
<rect x="332.83" y="449.50" width="13.55" height="28.20" fill="#5d8d40" />
<rect x="332.83" y="477.70" width="13.55" height="27.20" fill="#9ab5d6" />
<rect x="332.83" y="504.90" width="13.55" height="27.60" fill="#dbb58e" />
<rect x="346.39" y="449.50" width="13.55" height="28.20" fill="#abcf99" />
<rect x="346.39" y="504.90" width="13.55" height="27.60" fill="#dbb58e" />
<rect x="359.94" y="504.90" width="13.55" height="27.60" fill="#dbb58e" />
<rect x="373.50" y="504.90" width="13.55" height="27.60" fill="#dbb58e" />
<rect x="387.05" y="504.90" width="13.55" height="27.60" fill="#dbb58e" />
<rect x="400.60" y="449.50" width="13.55" height="28.20" fill="#5d8d40" />
<rect x="400.60" y="477.70" width="13.55" height="27.20" fill="#446194" />
<rect x="400.60" y="504.90" width="13.55" height="27.60" fill="#93d1dd" />
<rect x="414.16" y="449.50" width="13.55" height="28.20" fill="#5d8d40" />
<rect x="414.16" y="477.70" width="13.55" height="27.20" fill="#446194" />
<rect x="414.16" y="504.90" width="13.55" height="27.60" fill="#93d1dd" />
<rect x="427.71" y="449.50" width="13.55" height="28.20" fill="#5d8d40" />
<rect x="427.71" y="477.70" width="13.55" height="27.20" fill="#446194" />
<rect x="427.71" y="504.90" width="13.55" height="27.60" fill="#93d1dd" />
<rect x="441.27" y="449.50" width="13.55" height="28.20" fill="#5d8d40" />
<rect x="441.27" y="477.70" width="13.55" height="27.20" fill="#446194" />
<rect x="441.27" y="504.90" width="13.55" height="27.60" fill="#93d1dd" />
<rect x="454.82" y="449.50" width="13.55" height="28.20" fill="#5d8d40" />
<rect x="454.82" y="477.70" width="13.55" height="27.20" fill="#446194" />
<rect x="454.82" y="504.90" width="13.55" height="27.60" fill="#93d1dd" />
<rect x="468.37" y="449.50" width="13.55" height="28.20" fill="#5d8d40" />
<rect x="468.37" y="477.70" width="13.55" height="27.20" fill="#446194" />
<rect x="468.37" y="504.90" width="13.55" height="27.60" fill="#93d1dd" />
<rect x="481.93" y="449.50" width="13.55" height="28.20" fill="#5d8d40" />
<rect x="481.93" y="477.70" width="13.55" height="27.20" fill="#5a8bbe" />
<rect x="481.93" y="504.90" width="13.55" height="27.60" fill="#93d1dd" />
<rect x="495.48" y="449.50" width="13.55" height="28.20" fill="#86b961" />
<rect x="495.48" y="477.70" width="13.55" height="27.20" fill="#9ab5d6" />
<rect x="495.48" y="504.90" width="13.55" height="27.60" fill="#abc184" />
<rect x="509.04" y="449.50" width="13.55" height="28.20" fill="#86b961" />
<rect x="509.04" y="477.70" width="13.55" height="27.20" fill="#5a8bbe" />
<rect x="509.04" y="504.90" width="13.55" height="27.60" fill="#abc184" />
<rect x="522.59" y="449.50" width="13.55" height="28.20" fill="#5d8d40" />
<rect x="522.59" y="477.70" width="13.55" height="27.20" fill="#5a8bbe" />
<rect x="522.59" y="504.90" width="13.55" height="27.60" fill="#abc184" />
<rect x="536.14" y="449.50" width="13.55" height="28.20" fill="#5d8d40" />
<rect x="536.14" y="477.70" width="13.55" height="27.20" fill="#446194" />
<rect x="536.14" y="504.90" width="13.55" height="27.60" fill="#abc184" />
<rect x="549.70" y="449.50" width="13.55" height="28.20" fill="#5d8d40" />
<rect x="549.70" y="477.70" width="13.55" height="27.20" fill="#446194" />
<rect x="549.70" y="504.90" width="13.55" height="27.60" fill="#abc184" />
<rect x="563.25" y="449.50" width="13.55" height="28.20" fill="#5d8d40" />
<rect x="563.25" y="477.70" width="13.55" height="27.20" fill="#446194" />
<rect x="563.25" y="504.90" width="13.55" height="27.60" fill="#abc184" />
<rect x="576.81" y="449.50" width="13.55" height="28.20" fill="#5d8d40" />
<rect x="576.81" y="477.70" width="13.55" height="27.20" fill="#446194" />
<rect x="576.81" y="504.90" width="13.55" height="27.60" fill="#abc184" />
<rect x="590.36" y="449.50" width="13.55" height="28.20" fill="#86b961" />
<rect x="590.36" y="477.70" width="13.55" height="27.20" fill="#9ab5d6" />
<rect x="590.36" y="504.90" width="13.55" height="27.60" fill="#abc184" />
<rect x="603.91" y="504.90" width="13.55" height="27.60" fill="#abc184" />
<rect x="617.47" y="504.90" width="13.55" height="27.60" fill="#abc184" />
<rect x="631.02" y="504.90" width="13.55" height="27.60" fill="#abc184" />
<rect x="644.58" y="504.90" width="13.55" height="27.60" fill="#abc184" />
<rect x="658.13" y="449.50" width="13.55" height="28.20" fill="#5d8d40" />
<rect x="658.13" y="477.70" width="13.55" height="27.20" fill="#9ab5d6" />
<rect x="658.13" y="504.90" width="13.55" height="27.60" fill="#abc184" />
</g>
<line x1="61.50" y1="449.50" x2="61.50" y2="532.50" stroke="#d9d9d9" stroke-width="0.5" opacity="0.7"/>
<line x1="75.50" y1="449.50" x2="75.50" y2="532.50" stroke="#d9d9d9" stroke-width="0.5" opacity="0.7"/>
<line x1="88.50" y1="449.50" x2="88.50" y2="532.50" stroke="#d9d9d9" stroke-width="0.5" opacity="0.7"/>
<line x1="102.50" y1="449.50" x2="102.50" y2="532.50" stroke="#d9d9d9" stroke-width="0.5" opacity="0.7"/>
<line x1="115.50" y1="449.50" x2="115.50" y2="532.50" stroke="#d9d9d9" stroke-width="0.5" opacity="0.7"/>
<line x1="129.50" y1="449.50" x2="129.50" y2="532.50" stroke="#d9d9d9" stroke-width="0.5" opacity="0.7"/>
<line x1="143.50" y1="449.50" x2="143.50" y2="532.50" stroke="#d9d9d9" stroke-width="0.5" opacity="0.7"/>
<line x1="156.50" y1="449.50" x2="156.50" y2="532.50" stroke="#d9d9d9" stroke-width="0.5" opacity="0.7"/>
<line x1="170.50" y1="449.50" x2="170.50" y2="532.50" stroke="#d9d9d9" stroke-width="0.5" opacity="0.7"/>
<line x1="183.50" y1="449.50" x2="183.50" y2="532.50" stroke="#d9d9d9" stroke-width="0.5" opacity="0.7"/>
<line x1="197.50" y1="449.50" x2="197.50" y2="532.50" stroke="#d9d9d9" stroke-width="0.5" opacity="0.7"/>
<line x1="210.50" y1="449.50" x2="210.50" y2="532.50" stroke="#d9d9d9" stroke-width="0.5" opacity="0.7"/>
<line x1="224.50" y1="449.50" x2="224.50" y2="532.50" stroke="#d9d9d9" stroke-width="0.5" opacity="0.7"/>
<line x1="237.50" y1="449.50" x2="237.50" y2="532.50" stroke="#d9d9d9" stroke-width="0.5" opacity="0.7"/>
<line x1="251.50" y1="449.50" x2="251.50" y2="532.50" stroke="#d9d9d9" stroke-width="0.5" opacity="0.7"/>
<line x1="265.50" y1="449.50" x2="265.50" y2="532.50" stroke="#d9d9d9" stroke-width="0.5" opacity="0.7"/>
<line x1="278.50" y1="449.50" x2="278.50" y2="532.50" stroke="#d9d9d9" stroke-width="0.5" opacity="0.7"/>
<line x1="292.50" y1="449.50" x2="292.50" y2="532.50" stroke="#d9d9d9" stroke-width="0.5" opacity="0.7"/>
<line x1="305.50" y1="449.50" x2="305.50" y2="532.50" stroke="#d9d9d9" stroke-width="0.5" opacity="0.7"/>
<line x1="319.50" y1="449.50" x2="319.50" y2="532.50" stroke="#d9d9d9" stroke-width="0.5" opacity="0.7"/>
<line x1="332.50" y1="449.50" x2="332.50" y2="532.50" stroke="#d9d9d9" stroke-width="0.5" opacity="0.7"/>
<line x1="346.50" y1="449.50" x2="346.50" y2="532.50" stroke="#d9d9d9" stroke-width="0.5" opacity="0.7"/>
<line x1="359.50" y1="449.50" x2="359.50" y2="532.50" stroke="#d9d9d9" stroke-width="0.5" opacity="0.7"/>
<line x1="373.50" y1="449.50" x2="373.50" y2="532.50" stroke="#d9d9d9" stroke-width="0.5" opacity="0.7"/>
<line x1="387.50" y1="449.50" x2="387.50" y2="532.50" stroke="#d9d9d9" stroke-width="0.5" opacity="0.7"/>
<line x1="400.50" y1="449.50" x2="400.50" y2="532.50" stroke="#d9d9d9" stroke-width="0.5" opacity="0.7"/>
<line x1="414.50" y1="449.50" x2="414.50" y2="532.50" stroke="#d9d9d9" stroke-width="0.5" opacity="0.7"/>
<line x1="427.50" y1="449.50" x2="427.50" y2="532.50" stroke="#d9d9d9" stroke-width="0.5" opacity="0.7"/>
<line x1="441.50" y1="449.50" x2="441.50" y2="532.50" stroke="#d9d9d9" stroke-width="0.5" opacity="0.7"/>
<line x1="454.50" y1="449.50" x2="454.50" y2="532.50" stroke="#d9d9d9" stroke-width="0.5" opacity="0.7"/>
<line x1="468.50" y1="449.50" x2="468.50" y2="532.50" stroke="#d9d9d9" stroke-width="0.5" opacity="0.7"/>
<line x1="481.50" y1="449.50" x2="481.50" y2="532.50" stroke="#d9d9d9" stroke-width="0.5" opacity="0.7"/>
<line x1="495.50" y1="449.50" x2="495.50" y2="532.50" stroke="#d9d9d9" stroke-width="0.5" opacity="0.7"/>
<line x1="509.50" y1="449.50" x2="509.50" y2="532.50" stroke="#d9d9d9" stroke-width="0.5" opacity="0.7"/>
<line x1="522.50" y1="449.50" x2="522.50" y2="532.50" stroke="#d9d9d9" stroke-width="0.5" opacity="0.7"/>
<line x1="536.50" y1="449.50" x2="536.50" y2="532.50" stroke="#d9d9d9" stroke-width="0.5" opacity="0.7"/>
<line x1="549.50" y1="449.50" x2="549.50" y2="532.50" stroke="#d9d9d9" stroke-width="0.5" opacity="0.7"/>
<line x1="563.50" y1="449.50" x2="563.50" y2="532.50" stroke="#d9d9d9" stroke-width="0.5" opacity="0.7"/>
<line x1="576.50" y1="449.50" x2="576.50" y2="532.50" stroke="#d9d9d9" stroke-width="0.5" opacity="0.7"/>
<line x1="590.50" y1="449.50" x2="590.50" y2="532.50" stroke="#d9d9d9" stroke-width="0.5" opacity="0.7"/>
<line x1="603.50" y1="449.50" x2="603.50" y2="532.50" stroke="#d9d9d9" stroke-width="0.5" opacity="0.7"/>
<line x1="617.50" y1="449.50" x2="617.50" y2="532.50" stroke="#d9d9d9" stroke-width="0.5" opacity="0.7"/>
<line x1="631.50" y1="449.50" x2="631.50" y2="532.50" stroke="#d9d9d9" stroke-width="0.5" opacity="0.7"/>
<line x1="644.50" y1="449.50" x2="644.50" y2="532.50" stroke="#d9d9d9" stroke-width="0.5" opacity="0.7"/>
<line x1="658.50" y1="449.50" x2="658.50" y2="532.50" stroke="#d9d9d9" stroke-width="0.5" opacity="0.7"/>
<line x1="48.20" y1="477.50" x2="671.68" y2="477.50" stroke="#777" stroke-width="0.5" />
<line x1="48.20" y1="504.50" x2="671.68" y2="504.50" stroke="#777" stroke-width="0.5" />
<line x1="88.86" y1="449.50" x2="88.86" y2="532.50" stroke="#111" stroke-width="1.3" />
<line x1="400.60" y1="449.50" x2="400.60" y2="532.50" stroke="#111" stroke-width="1.3" />
<line x1="495.48" y1="449.50" x2="495.48" y2="532.50" stroke="#111" stroke-width="1.3" />
<rect x="47.90" y="449.30" width="624.08" height="83.60" fill="none" stroke="#2a2a2a" stroke-width="1.4" />
<text x="42.00" y="467.50" font-size="11" text-anchor="end" font-weight="bold" font-style="normal" fill="#5b8c3e" >PemR</text>
<text x="42.00" y="495.00" font-size="11" text-anchor="end" font-weight="bold" font-style="normal" fill="#4a82b4" >FutR</text>
<text x="42.00" y="522.50" font-size="11" text-anchor="end" font-weight="bold" font-style="normal" fill="#000" >CKB_R</text>
<line x1="54.50" y1="532.50" x2="54.50" y2="536.00" stroke="#3a3a3a" stroke-width="0.6" />
<text x="57.98" y="538.30" font-size="8.4" text-anchor="end" font-weight="normal" font-style="normal" fill="#000" transform="rotate(-90 57.98 538.30)" >V561M</text>
<line x1="68.50" y1="532.50" x2="68.50" y2="536.00" stroke="#3a3a3a" stroke-width="0.6" />
<text x="71.53" y="538.30" font-size="8.4" text-anchor="end" font-weight="normal" font-style="normal" fill="#000" transform="rotate(-90 71.53 538.30)" >K656N</text>
<line x1="82.50" y1="532.50" x2="82.50" y2="536.00" stroke="#3a3a3a" stroke-width="0.6" />
<text x="85.09" y="538.30" font-size="8.4" text-anchor="end" font-weight="normal" font-style="normal" fill="#000" transform="rotate(-90 85.09 538.30)" >K656N</text>
<line x1="95.50" y1="532.50" x2="95.50" y2="536.00" stroke="#3a3a3a" stroke-width="0.6" />
<text x="98.64" y="538.30" font-size="8.4" text-anchor="end" font-weight="normal" font-style="normal" fill="#000" transform="rotate(-90 98.64 538.30)" >C491F</text>
<line x1="109.50" y1="532.50" x2="109.50" y2="536.00" stroke="#3a3a3a" stroke-width="0.6" />
<text x="112.19" y="538.30" font-size="8.4" text-anchor="end" font-weight="normal" font-style="normal" fill="#000" transform="rotate(-90 112.19 538.30)" >N549H</text>
<line x1="122.50" y1="532.50" x2="122.50" y2="536.00" stroke="#3a3a3a" stroke-width="0.6" />
<text x="125.75" y="538.30" font-size="8.4" text-anchor="end" font-weight="normal" font-style="normal" fill="#000" transform="rotate(-90 125.75 538.30)" >N549D</text>
<line x1="136.50" y1="532.50" x2="136.50" y2="536.00" stroke="#3a3a3a" stroke-width="0.6" />
<text x="139.30" y="538.30" font-size="8.4" text-anchor="end" font-weight="normal" font-style="normal" fill="#000" transform="rotate(-90 139.30 538.30)" >N549K</text>
<line x1="149.50" y1="532.50" x2="149.50" y2="536.00" stroke="#3a3a3a" stroke-width="0.6" />
<text x="152.86" y="538.30" font-size="8.4" text-anchor="end" font-weight="normal" font-style="normal" fill="#000" transform="rotate(-90 152.86 538.30)" >N549K</text>
<line x1="163.50" y1="532.50" x2="163.50" y2="536.00" stroke="#3a3a3a" stroke-width="0.6" />
<text x="166.41" y="538.30" font-size="8.4" text-anchor="end" font-weight="normal" font-style="normal" fill="#000" transform="rotate(-90 166.41 538.30)" >L550F</text>
<line x1="176.50" y1="532.50" x2="176.50" y2="536.00" stroke="#3a3a3a" stroke-width="0.6" />
<text x="179.96" y="538.30" font-size="8.4" text-anchor="end" font-weight="normal" font-style="normal" fill="#000" transform="rotate(-90 179.96 538.30)" >L551F</text>
<line x1="190.50" y1="532.50" x2="190.50" y2="536.00" stroke="#3a3a3a" stroke-width="0.6" />
<text x="193.52" y="538.30" font-size="8.4" text-anchor="end" font-weight="normal" font-style="normal" fill="#000" transform="rotate(-90 193.52 538.30)" >V562L</text>
<line x1="204.50" y1="532.50" x2="204.50" y2="536.00" stroke="#3a3a3a" stroke-width="0.6" />
<text x="207.07" y="538.30" font-size="8.4" text-anchor="end" font-weight="normal" font-style="normal" fill="#000" transform="rotate(-90 207.07 538.30)" >V564I</text>
<line x1="217.50" y1="532.50" x2="217.50" y2="536.00" stroke="#3a3a3a" stroke-width="0.6" />
<text x="220.62" y="538.30" font-size="8.4" text-anchor="end" font-weight="normal" font-style="normal" fill="#000" transform="rotate(-90 220.62 538.30)" >V564F</text>
<line x1="231.50" y1="532.50" x2="231.50" y2="536.00" stroke="#3a3a3a" stroke-width="0.6" />
<text x="234.18" y="538.30" font-size="8.4" text-anchor="end" font-weight="normal" font-style="normal" fill="#000" transform="rotate(-90 234.18 538.30)" >V564L</text>
<line x1="244.50" y1="532.50" x2="244.50" y2="536.00" stroke="#3a3a3a" stroke-width="0.6" />
<text x="247.73" y="538.30" font-size="8.4" text-anchor="end" font-weight="normal" font-style="normal" fill="#000" transform="rotate(-90 247.73 538.30)" >E565A</text>
<line x1="258.50" y1="532.50" x2="258.50" y2="536.00" stroke="#3a3a3a" stroke-width="0.6" />
<text x="261.29" y="538.30" font-size="8.4" text-anchor="end" font-weight="normal" font-style="normal" fill="#000" transform="rotate(-90 261.29 538.30)" >E565G</text>
<line x1="271.50" y1="532.50" x2="271.50" y2="536.00" stroke="#3a3a3a" stroke-width="0.6" />
<text x="274.84" y="538.30" font-size="8.4" text-anchor="end" font-weight="normal" font-style="normal" fill="#000" transform="rotate(-90 274.84 538.30)" >L617M</text>
<line x1="285.50" y1="532.50" x2="285.50" y2="536.00" stroke="#3a3a3a" stroke-width="0.6" />
<text x="288.39" y="538.30" font-size="8.4" text-anchor="end" font-weight="normal" font-style="normal" fill="#000" transform="rotate(-90 288.39 538.30)" >L617V</text>
<line x1="298.50" y1="532.50" x2="298.50" y2="536.00" stroke="#3a3a3a" stroke-width="0.6" />
<text x="301.95" y="538.30" font-size="8.4" text-anchor="end" font-weight="normal" font-style="normal" fill="#000" transform="rotate(-90 301.95 538.30)" >N652S</text>
<line x1="312.50" y1="532.50" x2="312.50" y2="536.00" stroke="#3a3a3a" stroke-width="0.6" />
<text x="315.50" y="538.30" font-size="8.4" text-anchor="end" font-weight="normal" font-style="normal" fill="#000" transform="rotate(-90 315.50 538.30)" >K659Q</text>
<line x1="326.50" y1="532.50" x2="326.50" y2="536.00" stroke="#3a3a3a" stroke-width="0.6" />
<text x="329.06" y="538.30" font-size="8.4" text-anchor="end" font-weight="normal" font-style="normal" fill="#000" transform="rotate(-90 329.06 538.30)" >K659E</text>
<line x1="339.50" y1="532.50" x2="339.50" y2="536.00" stroke="#3a3a3a" stroke-width="0.6" />
<text x="342.61" y="538.30" font-size="8.4" text-anchor="end" font-weight="normal" font-style="normal" fill="#000" transform="rotate(-90 342.61 538.30)" >K659M</text>
<line x1="353.50" y1="532.50" x2="353.50" y2="536.00" stroke="#3a3a3a" stroke-width="0.6" />
<text x="356.17" y="538.30" font-size="8.4" text-anchor="end" font-weight="normal" font-style="normal" fill="#000" transform="rotate(-90 356.17 538.30)" >H682L</text>
<line x1="366.50" y1="532.50" x2="366.50" y2="536.00" stroke="#3a3a3a" stroke-width="0.6" />
<text x="369.72" y="538.30" font-size="8.4" text-anchor="end" font-weight="normal" font-style="normal" fill="#000" transform="rotate(-90 369.72 538.30)" >K714R</text>
<line x1="380.50" y1="532.50" x2="380.50" y2="536.00" stroke="#3a3a3a" stroke-width="0.6" />
<text x="383.27" y="538.30" font-size="8.4" text-anchor="end" font-weight="normal" font-style="normal" fill="#000" transform="rotate(-90 383.27 538.30)" >Q746L</text>
<line x1="393.50" y1="532.50" x2="393.50" y2="536.00" stroke="#3a3a3a" stroke-width="0.6" />
<text x="396.83" y="538.30" font-size="8.4" text-anchor="end" font-weight="normal" font-style="normal" fill="#000" transform="rotate(-90 396.83 538.30)" >Y779C</text>
<line x1="407.50" y1="532.50" x2="407.50" y2="536.00" stroke="#3a3a3a" stroke-width="0.6" />
<text x="410.38" y="538.30" font-size="8.4" text-anchor="end" font-weight="normal" font-style="normal" fill="#000" transform="rotate(-90 410.38 538.30)" >N540K</text>
<line x1="420.50" y1="532.50" x2="420.50" y2="536.00" stroke="#3a3a3a" stroke-width="0.6" />
<text x="423.94" y="538.30" font-size="8.4" text-anchor="end" font-weight="normal" font-style="normal" fill="#000" transform="rotate(-90 423.94 538.30)" >N540K</text>
<line x1="434.50" y1="532.50" x2="434.50" y2="536.00" stroke="#3a3a3a" stroke-width="0.6" />
<text x="437.49" y="538.30" font-size="8.4" text-anchor="end" font-weight="normal" font-style="normal" fill="#000" transform="rotate(-90 437.49 538.30)" >V553M</text>
<line x1="448.50" y1="532.50" x2="448.50" y2="536.00" stroke="#3a3a3a" stroke-width="0.6" />
<text x="451.04" y="538.30" font-size="8.4" text-anchor="end" font-weight="normal" font-style="normal" fill="#000" transform="rotate(-90 451.04 538.30)" >V555M</text>
<line x1="461.50" y1="532.50" x2="461.50" y2="536.00" stroke="#3a3a3a" stroke-width="0.6" />
<text x="464.60" y="538.30" font-size="8.4" text-anchor="end" font-weight="normal" font-style="normal" fill="#000" transform="rotate(-90 464.60 538.30)" >V555L</text>
<line x1="475.50" y1="532.50" x2="475.50" y2="536.00" stroke="#3a3a3a" stroke-width="0.6" />
<text x="478.15" y="538.30" font-size="8.4" text-anchor="end" font-weight="normal" font-style="normal" fill="#000" transform="rotate(-90 478.15 538.30)" >V555L</text>
<line x1="488.50" y1="532.50" x2="488.50" y2="536.00" stroke="#3a3a3a" stroke-width="0.6" />
<text x="491.70" y="538.30" font-size="8.4" text-anchor="end" font-weight="normal" font-style="normal" fill="#000" transform="rotate(-90 491.70 538.30)" >K650E</text>
<line x1="502.50" y1="532.50" x2="502.50" y2="536.00" stroke="#3a3a3a" stroke-width="0.6" />
<text x="505.26" y="538.30" font-size="8.4" text-anchor="end" font-weight="normal" font-style="normal" fill="#000" transform="rotate(-90 505.26 538.30)" >V548M</text>
<line x1="515.50" y1="532.50" x2="515.50" y2="536.00" stroke="#3a3a3a" stroke-width="0.6" />
<text x="518.81" y="538.30" font-size="8.4" text-anchor="end" font-weight="normal" font-style="normal" fill="#000" transform="rotate(-90 518.81 538.30)" >V548L</text>
<line x1="529.50" y1="532.50" x2="529.50" y2="536.00" stroke="#3a3a3a" stroke-width="0.6" />
<text x="532.37" y="538.30" font-size="8.4" text-anchor="end" font-weight="normal" font-style="normal" fill="#000" transform="rotate(-90 532.37 538.30)" >V548L</text>
<line x1="542.50" y1="532.50" x2="542.50" y2="536.00" stroke="#3a3a3a" stroke-width="0.6" />
<text x="545.92" y="538.30" font-size="8.4" text-anchor="end" font-weight="normal" font-style="normal" fill="#000" transform="rotate(-90 545.92 538.30)" >V550M</text>
<line x1="556.50" y1="532.50" x2="556.50" y2="536.00" stroke="#3a3a3a" stroke-width="0.6" />
<text x="559.48" y="538.30" font-size="8.4" text-anchor="end" font-weight="normal" font-style="normal" fill="#000" transform="rotate(-90 559.48 538.30)" >V550L</text>
<line x1="570.50" y1="532.50" x2="570.50" y2="536.00" stroke="#3a3a3a" stroke-width="0.6" />
<text x="573.03" y="538.30" font-size="8.4" text-anchor="end" font-weight="normal" font-style="normal" fill="#000" transform="rotate(-90 573.03 538.30)" >V550L</text>
<line x1="583.50" y1="532.50" x2="583.50" y2="536.00" stroke="#3a3a3a" stroke-width="0.6" />
<text x="586.58" y="538.30" font-size="8.4" text-anchor="end" font-weight="normal" font-style="normal" fill="#000" transform="rotate(-90 586.58 538.30)" >V550E</text>
<line x1="597.50" y1="532.50" x2="597.50" y2="536.00" stroke="#3a3a3a" stroke-width="0.6" />
<text x="600.14" y="538.30" font-size="8.4" text-anchor="end" font-weight="normal" font-style="normal" fill="#000" transform="rotate(-90 600.14 538.30)" >C552R</text>
<line x1="610.50" y1="532.50" x2="610.50" y2="536.00" stroke="#3a3a3a" stroke-width="0.6" />
<text x="613.69" y="538.30" font-size="8.4" text-anchor="end" font-weight="normal" font-style="normal" fill="#000" transform="rotate(-90 613.69 538.30)" >C552Y</text>
<line x1="624.50" y1="532.50" x2="624.50" y2="536.00" stroke="#3a3a3a" stroke-width="0.6" />
<text x="627.25" y="538.30" font-size="8.4" text-anchor="end" font-weight="normal" font-style="normal" fill="#000" transform="rotate(-90 627.25 538.30)" >C552F</text>
<line x1="637.50" y1="532.50" x2="637.50" y2="536.00" stroke="#3a3a3a" stroke-width="0.6" />
<text x="640.80" y="538.30" font-size="8.4" text-anchor="end" font-weight="normal" font-style="normal" fill="#000" transform="rotate(-90 640.80 538.30)" >C552W</text>
<line x1="651.50" y1="532.50" x2="651.50" y2="536.00" stroke="#3a3a3a" stroke-width="0.6" />
<text x="654.35" y="538.30" font-size="8.4" text-anchor="end" font-weight="normal" font-style="normal" fill="#000" transform="rotate(-90 654.35 538.30)" >A553P</text>
<line x1="664.50" y1="532.50" x2="664.50" y2="536.00" stroke="#3a3a3a" stroke-width="0.6" />
<text x="667.91" y="538.30" font-size="8.4" text-anchor="end" font-weight="normal" font-style="normal" fill="#000" transform="rotate(-90 667.91 538.30)" >A553V</text>
<rect x="221.80" y="575.10" width="12.50" height="8.40" fill="#b98acb" />
<text x="238.10" y="582.80" font-size="8.8" text-anchor="start" font-weight="normal" font-style="italic" fill="#000" >FGFR1</text>
<rect x="286.50" y="575.10" width="12.50" height="8.40" fill="#dbb58e" />
<text x="302.80" y="582.80" font-size="8.8" text-anchor="start" font-weight="normal" font-style="italic" fill="#000" >FGFR2</text>
<rect x="352.00" y="575.10" width="12.50" height="8.40" fill="#93d1dd" />
<text x="368.30" y="582.80" font-size="8.8" text-anchor="start" font-weight="normal" font-style="italic" fill="#000" >FGFR3</text>
<rect x="417.10" y="575.10" width="12.50" height="8.40" fill="#abc184" />
<text x="433.40" y="582.80" font-size="8.8" text-anchor="start" font-weight="normal" font-style="italic" fill="#000" >FGFR4</text>
<text x="4.20" y="610.20" font-size="13" text-anchor="start" font-weight="bold" font-style="normal" fill="#000" >g</text>
<text x="84.20" y="612.90" font-size="10.7" text-anchor="middle" font-weight="bold" font-style="normal" fill="#000" >PemR</text>
<text x="210.60" y="612.90" font-size="10.7" text-anchor="middle" font-weight="bold" font-style="normal" fill="#000" >FutR</text>
<rect x="46.50" y="619.50" width="14.00" height="34.00" fill="#204068" stroke="#101c30" stroke-width="0.7" />
<rect x="46.50" y="653.50" width="14.00" height="11.00" fill="#5590c8" stroke="#2a4a70" stroke-width="0.7" />
<rect x="46.50" y="664.50" width="14.00" height="67.00" fill="#b1b1b1" stroke="#555" stroke-width="0.7" />
<rect x="67.50" y="619.50" width="13.00" height="38.00" fill="#204068" stroke="#101c30" stroke-width="0.7" />
<rect x="67.50" y="657.50" width="13.00" height="8.00" fill="#5590c8" stroke="#2a4a70" stroke-width="0.7" />
<rect x="67.50" y="665.50" width="13.00" height="66.00" fill="#b1b1b1" stroke="#555" stroke-width="0.7" />
<rect x="88.50" y="619.50" width="14.00" height="48.00" fill="#204068" stroke="#101c30" stroke-width="0.7" />
<rect x="88.50" y="667.50" width="14.00" height="4.00" fill="#5590c8" stroke="#2a4a70" stroke-width="0.7" />
<rect x="88.50" y="671.50" width="14.00" height="60.00" fill="#b1b1b1" stroke="#555" stroke-width="0.7" />
<rect x="109.50" y="619.50" width="14.00" height="56.00" fill="#204068" stroke="#101c30" stroke-width="0.7" />
<rect x="109.50" y="675.50" width="14.00" height="24.00" fill="#5590c8" stroke="#2a4a70" stroke-width="0.7" />
<rect x="109.50" y="699.50" width="14.00" height="32.00" fill="#b1b1b1" stroke="#555" stroke-width="0.7" />
<line x1="39.50" y1="619.10" x2="39.50" y2="731.70" stroke="#3a3a3a" stroke-width="0.9" />
<line x1="39.20" y1="731.50" x2="129.80" y2="731.50" stroke="#3a3a3a" stroke-width="0.9" />
<line x1="36.00" y1="731.50" x2="39.50" y2="731.50" stroke="#3a3a3a" stroke-width="0.9" />
<text x="35.00" y="734.80" font-size="9.4" text-anchor="end" font-weight="normal" font-style="normal" fill="#000" >0</text>
<line x1="36.00" y1="675.50" x2="39.50" y2="675.50" stroke="#3a3a3a" stroke-width="0.9" />
<text x="35.00" y="678.80" font-size="9.4" text-anchor="end" font-weight="normal" font-style="normal" fill="#000" >50</text>
<line x1="36.00" y1="619.50" x2="39.50" y2="619.50" stroke="#3a3a3a" stroke-width="0.9" />
<text x="35.00" y="622.80" font-size="9.4" text-anchor="end" font-weight="normal" font-style="normal" fill="#000" >100</text>
<line x1="37.50" y1="720.50" x2="39.50" y2="720.50" stroke="#3a3a3a" stroke-width="0.5" />
<line x1="37.50" y1="709.50" x2="39.50" y2="709.50" stroke="#3a3a3a" stroke-width="0.5" />
<line x1="37.50" y1="697.50" x2="39.50" y2="697.50" stroke="#3a3a3a" stroke-width="0.5" />
<line x1="37.50" y1="686.50" x2="39.50" y2="686.50" stroke="#3a3a3a" stroke-width="0.5" />
<line x1="37.50" y1="664.50" x2="39.50" y2="664.50" stroke="#3a3a3a" stroke-width="0.5" />
<line x1="37.50" y1="653.50" x2="39.50" y2="653.50" stroke="#3a3a3a" stroke-width="0.5" />
<line x1="37.50" y1="641.50" x2="39.50" y2="641.50" stroke="#3a3a3a" stroke-width="0.5" />
<line x1="37.50" y1="630.50" x2="39.50" y2="630.50" stroke="#3a3a3a" stroke-width="0.5" />
<text x="14.30" y="725.10" font-size="9.35" text-anchor="start" font-weight="normal" font-style="normal" fill="#000" transform="rotate(-90 14.30 725.10)" >Fraction of mutations [%]</text>
<rect x="174.50" y="619.50" width="13.00" height="27.00" fill="#204068" stroke="#101c30" stroke-width="0.7" />
<rect x="174.50" y="646.50" width="13.00" height="19.00" fill="#5590c8" stroke="#2a4a70" stroke-width="0.7" />
<rect x="174.50" y="665.50" width="13.00" height="67.00" fill="#b1b1b1" stroke="#555" stroke-width="0.7" />
<rect x="195.50" y="619.50" width="13.00" height="28.00" fill="#204068" stroke="#101c30" stroke-width="0.7" />
<rect x="195.50" y="647.50" width="13.00" height="6.00" fill="#5590c8" stroke="#2a4a70" stroke-width="0.7" />
<rect x="195.50" y="653.50" width="13.00" height="79.00" fill="#b1b1b1" stroke="#555" stroke-width="0.7" />
<rect x="216.50" y="619.50" width="13.00" height="36.00" fill="#204068" stroke="#101c30" stroke-width="0.7" />
<rect x="216.50" y="655.50" width="13.00" height="10.00" fill="#5590c8" stroke="#2a4a70" stroke-width="0.7" />
<rect x="216.50" y="665.50" width="13.00" height="67.00" fill="#b1b1b1" stroke="#555" stroke-width="0.7" />
<rect x="236.50" y="619.50" width="14.00" height="38.00" fill="#204068" stroke="#101c30" stroke-width="0.7" />
<rect x="236.50" y="657.50" width="14.00" height="47.00" fill="#5590c8" stroke="#2a4a70" stroke-width="0.7" />
<rect x="236.50" y="704.50" width="14.00" height="28.00" fill="#b1b1b1" stroke="#555" stroke-width="0.7" />
<line x1="168.50" y1="619.60" x2="168.50" y2="732.30" stroke="#3a3a3a" stroke-width="0.9" />
<line x1="168.10" y1="732.50" x2="256.50" y2="732.50" stroke="#3a3a3a" stroke-width="0.9" />
<line x1="164.90" y1="732.50" x2="168.40" y2="732.50" stroke="#3a3a3a" stroke-width="0.9" />
<text x="163.90" y="735.40" font-size="9.4" text-anchor="end" font-weight="normal" font-style="normal" fill="#000" >0</text>
<line x1="164.90" y1="675.50" x2="168.40" y2="675.50" stroke="#3a3a3a" stroke-width="0.9" />
<text x="163.90" y="679.35" font-size="9.4" text-anchor="end" font-weight="normal" font-style="normal" fill="#000" >50</text>
<line x1="164.90" y1="619.50" x2="168.40" y2="619.50" stroke="#3a3a3a" stroke-width="0.9" />
<text x="163.90" y="623.30" font-size="9.4" text-anchor="end" font-weight="normal" font-style="normal" fill="#000" >100</text>
<line x1="166.40" y1="720.50" x2="168.40" y2="720.50" stroke="#3a3a3a" stroke-width="0.5" />
<line x1="166.40" y1="709.50" x2="168.40" y2="709.50" stroke="#3a3a3a" stroke-width="0.5" />
<line x1="166.40" y1="698.50" x2="168.40" y2="698.50" stroke="#3a3a3a" stroke-width="0.5" />
<line x1="166.40" y1="687.50" x2="168.40" y2="687.50" stroke="#3a3a3a" stroke-width="0.5" />
<line x1="166.40" y1="664.50" x2="168.40" y2="664.50" stroke="#3a3a3a" stroke-width="0.5" />
<line x1="166.40" y1="653.50" x2="168.40" y2="653.50" stroke="#3a3a3a" stroke-width="0.5" />
<line x1="166.40" y1="642.50" x2="168.40" y2="642.50" stroke="#3a3a3a" stroke-width="0.5" />
<line x1="166.40" y1="631.50" x2="168.40" y2="631.50" stroke="#3a3a3a" stroke-width="0.5" />
<text x="142.70" y="725.70" font-size="9.35" text-anchor="start" font-weight="normal" font-style="normal" fill="#000" transform="rotate(-90 142.70 725.70)" >Fraction of mutations [%]</text>
<line x1="53.50" y1="731.40" x2="53.50" y2="734.90" stroke="#3a3a3a" stroke-width="0.9" />
<text x="56.10" y="742.00" font-size="9.7" text-anchor="end" font-weight="normal" font-style="italic" fill="#000" transform="rotate(-45 56.10 742.00)" >FGFR1</text>
<line x1="73.50" y1="731.40" x2="73.50" y2="734.90" stroke="#3a3a3a" stroke-width="0.9" />
<text x="76.90" y="742.00" font-size="9.7" text-anchor="end" font-weight="normal" font-style="italic" fill="#000" transform="rotate(-45 76.90 742.00)" >FGFR2</text>
<line x1="95.50" y1="731.40" x2="95.50" y2="734.90" stroke="#3a3a3a" stroke-width="0.9" />
<text x="98.20" y="742.00" font-size="9.7" text-anchor="end" font-weight="normal" font-style="italic" fill="#000" transform="rotate(-45 98.20 742.00)" >FGFR3</text>
<line x1="116.50" y1="731.40" x2="116.50" y2="734.90" stroke="#3a3a3a" stroke-width="0.9" />
<text x="119.20" y="742.00" font-size="9.7" text-anchor="end" font-weight="normal" font-style="italic" fill="#000" transform="rotate(-45 119.20 742.00)" >FGFR4</text>
<line x1="181.50" y1="732.00" x2="181.50" y2="735.50" stroke="#3a3a3a" stroke-width="0.9" />
<text x="184.00" y="742.60" font-size="9.7" text-anchor="end" font-weight="normal" font-style="italic" fill="#000" transform="rotate(-45 184.00 742.60)" >FGFR1</text>
<line x1="201.50" y1="732.00" x2="201.50" y2="735.50" stroke="#3a3a3a" stroke-width="0.9" />
<text x="204.90" y="742.60" font-size="9.7" text-anchor="end" font-weight="normal" font-style="italic" fill="#000" transform="rotate(-45 204.90 742.60)" >FGFR2</text>
<line x1="223.50" y1="732.00" x2="223.50" y2="735.50" stroke="#3a3a3a" stroke-width="0.9" />
<text x="226.00" y="742.60" font-size="9.7" text-anchor="end" font-weight="normal" font-style="italic" fill="#000" transform="rotate(-45 226.00 742.60)" >FGFR3</text>
<line x1="243.50" y1="732.00" x2="243.50" y2="735.50" stroke="#3a3a3a" stroke-width="0.9" />
<text x="246.80" y="742.60" font-size="9.7" text-anchor="end" font-weight="normal" font-style="italic" fill="#000" transform="rotate(-45 246.80 742.60)" >FGFR4</text>
<rect x="76.20" y="774.70" width="7.70" height="7.40" fill="#b1b1b1" />
<text x="89.10" y="781.00" font-size="8.16" text-anchor="start" font-weight="normal" font-style="normal" fill="#000" >Conserved resistance (conserved AA)</text>
<rect x="76.20" y="787.40" width="7.70" height="7.40" fill="#5590c8" />
<text x="89.10" y="793.70" font-size="8.16" text-anchor="start" font-weight="normal" font-style="normal" fill="#000" >Individual resistance (conserved AA)</text>
<rect x="76.20" y="800.40" width="7.70" height="7.40" fill="#204068" />
<text x="89.10" y="806.70" font-size="8.16" text-anchor="start" font-weight="normal" font-style="normal" fill="#000" >Individual resistance (individual AA)</text>
<text x="268.40" y="610.10" font-size="13" text-anchor="start" font-weight="bold" font-style="normal" fill="#000" >h</text>
<g shape-rendering="crispEdges">
<rect x="295.50" y="699.52" width="9.30" height="17.28" fill="#9ab5d6" />
<rect x="304.80" y="630.40" width="9.30" height="17.28" fill="#c9dcc5" />
<rect x="314.10" y="630.40" width="9.30" height="17.28" fill="#86b961" />
<rect x="314.10" y="699.52" width="9.30" height="17.28" fill="#b4c7da" />
<rect x="323.40" y="630.40" width="9.30" height="17.28" fill="#abcf99" />
<rect x="323.40" y="699.52" width="9.30" height="17.28" fill="#b4c7da" />
<rect x="332.70" y="630.40" width="9.30" height="17.28" fill="#abcf99" />
<rect x="332.70" y="699.52" width="9.30" height="17.28" fill="#b4c7da" />
<rect x="342.00" y="630.40" width="9.30" height="17.28" fill="#86b961" />
<rect x="342.00" y="699.52" width="9.30" height="17.28" fill="#b4c7da" />
<rect x="351.30" y="630.40" width="9.30" height="17.28" fill="#5d8d40" />
<rect x="351.30" y="699.52" width="9.30" height="17.28" fill="#9ab5d6" />
<rect x="360.60" y="630.40" width="9.30" height="17.28" fill="#5d8d40" />
<rect x="360.60" y="699.52" width="9.30" height="17.28" fill="#9ab5d6" />
<rect x="369.90" y="630.40" width="9.30" height="17.28" fill="#86b961" />
<rect x="369.90" y="699.52" width="9.30" height="17.28" fill="#b4c7da" />
<rect x="379.20" y="630.40" width="9.30" height="17.28" fill="#86b961" />
<rect x="379.20" y="699.52" width="9.30" height="17.28" fill="#b4c7da" />
<rect x="388.50" y="699.52" width="9.30" height="17.28" fill="#b4c7da" />
<rect x="397.80" y="630.40" width="9.30" height="17.28" fill="#5d8d40" />
<rect x="397.80" y="699.52" width="9.30" height="17.28" fill="#9ab5d6" />
<rect x="407.10" y="630.40" width="9.30" height="17.28" fill="#86b961" />
<rect x="407.10" y="699.52" width="9.30" height="17.28" fill="#9ab5d6" />
<rect x="416.40" y="630.40" width="9.30" height="17.28" fill="#5d8d40" />
<rect x="416.40" y="699.52" width="9.30" height="17.28" fill="#5a8bbe" />
<rect x="425.70" y="699.52" width="9.30" height="17.28" fill="#9ab5d6" />
<rect x="435.00" y="630.40" width="9.30" height="17.28" fill="#5d8d40" />
<rect x="435.00" y="699.52" width="9.30" height="17.28" fill="#5a8bbe" />
<rect x="444.30" y="630.40" width="9.30" height="17.28" fill="#abcf99" />
<rect x="444.30" y="699.52" width="9.30" height="17.28" fill="#b4c7da" />
<rect x="453.60" y="630.40" width="9.30" height="17.28" fill="#abcf99" />
<rect x="453.60" y="699.52" width="9.30" height="17.28" fill="#b4c7da" />
<rect x="462.90" y="630.40" width="9.30" height="17.28" fill="#5d8d40" />
<rect x="462.90" y="699.52" width="9.30" height="17.28" fill="#446194" />
<rect x="472.20" y="630.40" width="9.30" height="17.28" fill="#5d8d40" />
<rect x="472.20" y="699.52" width="9.30" height="17.28" fill="#5a8bbe" />
<rect x="481.50" y="630.40" width="9.30" height="17.28" fill="#abcf99" />
<rect x="481.50" y="699.52" width="9.30" height="17.28" fill="#b4c7da" />
<rect x="490.80" y="630.40" width="9.30" height="17.28" fill="#5d8d40" />
<rect x="490.80" y="699.52" width="9.30" height="17.28" fill="#9ab5d6" />
<rect x="500.10" y="630.40" width="9.30" height="17.28" fill="#5d8d40" />
<rect x="500.10" y="699.52" width="9.30" height="17.28" fill="#5a8bbe" />
<rect x="509.40" y="699.52" width="9.30" height="17.28" fill="#9ab5d6" />
<rect x="518.70" y="630.40" width="9.30" height="17.28" fill="#abcf99" />
<rect x="518.70" y="699.52" width="9.30" height="17.28" fill="#b4c7da" />
<rect x="528.00" y="630.40" width="9.30" height="17.28" fill="#abcf99" />
<rect x="528.00" y="699.52" width="9.30" height="17.28" fill="#446194" />
<rect x="537.30" y="630.40" width="9.30" height="17.28" fill="#c9dcc5" />
<rect x="537.30" y="699.52" width="9.30" height="17.28" fill="#b4c7da" />
<rect x="546.60" y="630.40" width="9.30" height="17.28" fill="#abcf99" />
<rect x="546.60" y="699.52" width="9.30" height="17.28" fill="#9ab5d6" />
<rect x="555.90" y="630.40" width="9.30" height="17.28" fill="#86b961" />
<rect x="555.90" y="699.52" width="9.30" height="17.28" fill="#9ab5d6" />
<rect x="565.20" y="630.40" width="9.30" height="17.28" fill="#abcf99" />
<rect x="565.20" y="699.52" width="9.30" height="17.28" fill="#9ab5d6" />
<rect x="574.50" y="630.40" width="9.30" height="17.28" fill="#86b961" />
<rect x="574.50" y="699.52" width="9.30" height="17.28" fill="#9ab5d6" />
<rect x="583.80" y="630.40" width="9.30" height="17.28" fill="#5d8d40" />
<rect x="583.80" y="699.52" width="9.30" height="17.28" fill="#446194" />
<rect x="593.10" y="630.40" width="9.30" height="17.28" fill="#abcf99" />
<rect x="593.10" y="699.52" width="9.30" height="17.28" fill="#b4c7da" />
<rect x="602.40" y="630.40" width="9.30" height="17.28" fill="#abcf99" />
<rect x="602.40" y="699.52" width="9.30" height="17.28" fill="#446194" />
<rect x="611.70" y="630.40" width="9.30" height="17.28" fill="#abcf99" />
<rect x="611.70" y="699.52" width="9.30" height="17.28" fill="#9ab5d6" />
<rect x="621.00" y="630.40" width="9.30" height="17.28" fill="#abcf99" />
<rect x="630.30" y="630.40" width="9.30" height="17.28" fill="#86b961" />
<rect x="630.30" y="699.52" width="9.30" height="17.28" fill="#9ab5d6" />
<rect x="639.60" y="630.40" width="9.30" height="17.28" fill="#86b961" />
<rect x="639.60" y="699.52" width="9.30" height="17.28" fill="#b4c7da" />
<rect x="648.90" y="630.40" width="9.30" height="17.28" fill="#abcf99" />
<rect x="648.90" y="699.52" width="9.30" height="17.28" fill="#b4c7da" />
<rect x="295.50" y="647.68" width="9.30" height="17.28" fill="#c9dcc5" />
<rect x="295.50" y="716.80" width="9.30" height="17.28" fill="#9ab5d6" />
<rect x="304.80" y="647.68" width="9.30" height="17.28" fill="#c9dcc5" />
<rect x="304.80" y="716.80" width="9.30" height="17.28" fill="#b4c7da" />
<rect x="314.10" y="647.68" width="9.30" height="17.28" fill="#abcf99" />
<rect x="323.40" y="647.68" width="9.30" height="17.28" fill="#abcf99" />
<rect x="332.70" y="647.68" width="9.30" height="17.28" fill="#abcf99" />
<rect x="342.00" y="647.68" width="9.30" height="17.28" fill="#5d8d40" />
<rect x="342.00" y="716.80" width="9.30" height="17.28" fill="#b4c7da" />
<rect x="351.30" y="647.68" width="9.30" height="17.28" fill="#5d8d40" />
<rect x="351.30" y="716.80" width="9.30" height="17.28" fill="#b4c7da" />
<rect x="360.60" y="647.68" width="9.30" height="17.28" fill="#5d8d40" />
<rect x="360.60" y="716.80" width="9.30" height="17.28" fill="#9ab5d6" />
<rect x="369.90" y="647.68" width="9.30" height="17.28" fill="#5d8d40" />
<rect x="369.90" y="716.80" width="9.30" height="17.28" fill="#b4c7da" />
<rect x="379.20" y="647.68" width="9.30" height="17.28" fill="#5d8d40" />
<rect x="379.20" y="716.80" width="9.30" height="17.28" fill="#b4c7da" />
<rect x="388.50" y="647.68" width="9.30" height="17.28" fill="#c9dcc5" />
<rect x="397.80" y="647.68" width="9.30" height="17.28" fill="#5d8d40" />
<rect x="397.80" y="716.80" width="9.30" height="17.28" fill="#446194" />
<rect x="407.10" y="647.68" width="9.30" height="17.28" fill="#86b961" />
<rect x="407.10" y="716.80" width="9.30" height="17.28" fill="#b4c7da" />
<rect x="416.40" y="647.68" width="9.30" height="17.28" fill="#5d8d40" />
<rect x="416.40" y="716.80" width="9.30" height="17.28" fill="#446194" />
<rect x="425.70" y="647.68" width="9.30" height="17.28" fill="#c9dcc5" />
<rect x="425.70" y="716.80" width="9.30" height="17.28" fill="#9ab5d6" />
<rect x="435.00" y="647.68" width="9.30" height="17.28" fill="#5d8d40" />
<rect x="435.00" y="716.80" width="9.30" height="17.28" fill="#9ab5d6" />
<rect x="444.30" y="647.68" width="9.30" height="17.28" fill="#abcf99" />
<rect x="453.60" y="647.68" width="9.30" height="17.28" fill="#5d8d40" />
<rect x="453.60" y="716.80" width="9.30" height="17.28" fill="#b4c7da" />
<rect x="462.90" y="647.68" width="9.30" height="17.28" fill="#5d8d40" />
<rect x="462.90" y="716.80" width="9.30" height="17.28" fill="#9ab5d6" />
<rect x="472.20" y="647.68" width="9.30" height="17.28" fill="#5d8d40" />
<rect x="490.80" y="647.68" width="9.30" height="17.28" fill="#5d8d40" />
<rect x="490.80" y="716.80" width="9.30" height="17.28" fill="#b4c7da" />
<rect x="500.10" y="647.68" width="9.30" height="17.28" fill="#5d8d40" />
<rect x="500.10" y="716.80" width="9.30" height="17.28" fill="#9ab5d6" />
<rect x="518.70" y="647.68" width="9.30" height="17.28" fill="#c9dcc5" />
<rect x="518.70" y="716.80" width="9.30" height="17.28" fill="#b4c7da" />
<rect x="528.00" y="647.68" width="9.30" height="17.28" fill="#86b961" />
<rect x="528.00" y="716.80" width="9.30" height="17.28" fill="#446194" />
<rect x="546.60" y="647.68" width="9.30" height="17.28" fill="#abcf99" />
<rect x="546.60" y="716.80" width="9.30" height="17.28" fill="#b4c7da" />
<rect x="555.90" y="647.68" width="9.30" height="17.28" fill="#abcf99" />
<rect x="555.90" y="716.80" width="9.30" height="17.28" fill="#b4c7da" />
<rect x="565.20" y="647.68" width="9.30" height="17.28" fill="#86b961" />
<rect x="565.20" y="716.80" width="9.30" height="17.28" fill="#b4c7da" />
<rect x="574.50" y="647.68" width="9.30" height="17.28" fill="#5d8d40" />
<rect x="574.50" y="716.80" width="9.30" height="17.28" fill="#9ab5d6" />
<rect x="583.80" y="647.68" width="9.30" height="17.28" fill="#5d8d40" />
<rect x="583.80" y="716.80" width="9.30" height="17.28" fill="#5a8bbe" />
<rect x="593.10" y="647.68" width="9.30" height="17.28" fill="#86b961" />
<rect x="593.10" y="716.80" width="9.30" height="17.28" fill="#b4c7da" />
<rect x="602.40" y="716.80" width="9.30" height="17.28" fill="#9ab5d6" />
<rect x="611.70" y="647.68" width="9.30" height="17.28" fill="#c9dcc5" />
<rect x="611.70" y="716.80" width="9.30" height="17.28" fill="#b4c7da" />
<rect x="621.00" y="647.68" width="9.30" height="17.28" fill="#abcf99" />
<rect x="621.00" y="716.80" width="9.30" height="17.28" fill="#b4c7da" />
<rect x="630.30" y="647.68" width="9.30" height="17.28" fill="#86b961" />
<rect x="630.30" y="716.80" width="9.30" height="17.28" fill="#b4c7da" />
<rect x="639.60" y="647.68" width="9.30" height="17.28" fill="#abcf99" />
<rect x="639.60" y="716.80" width="9.30" height="17.28" fill="#b4c7da" />
<rect x="648.90" y="647.68" width="9.30" height="17.28" fill="#abcf99" />
<rect x="658.20" y="647.68" width="9.30" height="17.28" fill="#c9dcc5" />
<rect x="658.20" y="716.80" width="9.30" height="17.28" fill="#b4c7da" />
<rect x="295.50" y="734.08" width="9.30" height="17.28" fill="#5a8bbe" />
<rect x="304.80" y="734.08" width="9.30" height="17.28" fill="#b4c7da" />
<rect x="314.10" y="664.96" width="9.30" height="17.28" fill="#abcf99" />
<rect x="314.10" y="734.08" width="9.30" height="17.28" fill="#b4c7da" />
<rect x="323.40" y="734.08" width="9.30" height="17.28" fill="#b4c7da" />
<rect x="332.70" y="664.96" width="9.30" height="17.28" fill="#86b961" />
<rect x="332.70" y="734.08" width="9.30" height="17.28" fill="#b4c7da" />
<rect x="351.30" y="664.96" width="9.30" height="17.28" fill="#86b961" />
<rect x="351.30" y="734.08" width="9.30" height="17.28" fill="#5a8bbe" />
<rect x="360.60" y="664.96" width="9.30" height="17.28" fill="#c9dcc5" />
<rect x="360.60" y="734.08" width="9.30" height="17.28" fill="#b4c7da" />
<rect x="379.20" y="664.96" width="9.30" height="17.28" fill="#5d8d40" />
<rect x="379.20" y="734.08" width="9.30" height="17.28" fill="#9ab5d6" />
<rect x="388.50" y="664.96" width="9.30" height="17.28" fill="#abcf99" />
<rect x="388.50" y="734.08" width="9.30" height="17.28" fill="#9ab5d6" />
<rect x="397.80" y="664.96" width="9.30" height="17.28" fill="#5d8d40" />
<rect x="397.80" y="734.08" width="9.30" height="17.28" fill="#446194" />
<rect x="407.10" y="664.96" width="9.30" height="17.28" fill="#5d8d40" />
<rect x="407.10" y="734.08" width="9.30" height="17.28" fill="#9ab5d6" />
<rect x="416.40" y="664.96" width="9.30" height="17.28" fill="#5d8d40" />
<rect x="416.40" y="734.08" width="9.30" height="17.28" fill="#446194" />
<rect x="462.90" y="734.08" width="9.30" height="17.28" fill="#b4c7da" />
<rect x="490.80" y="664.96" width="9.30" height="17.28" fill="#86b961" />
<rect x="490.80" y="734.08" width="9.30" height="17.28" fill="#9ab5d6" />
<rect x="500.10" y="664.96" width="9.30" height="17.28" fill="#5d8d40" />
<rect x="500.10" y="734.08" width="9.30" height="17.28" fill="#9ab5d6" />
<rect x="509.40" y="664.96" width="9.30" height="17.28" fill="#c9dcc5" />
<rect x="518.70" y="734.08" width="9.30" height="17.28" fill="#b4c7da" />
<rect x="528.00" y="664.96" width="9.30" height="17.28" fill="#abcf99" />
<rect x="528.00" y="734.08" width="9.30" height="17.28" fill="#446194" />
<rect x="537.30" y="664.96" width="9.30" height="17.28" fill="#c9dcc5" />
<rect x="537.30" y="734.08" width="9.30" height="17.28" fill="#b4c7da" />
<rect x="602.40" y="664.96" width="9.30" height="17.28" fill="#c9dcc5" />
<rect x="602.40" y="734.08" width="9.30" height="17.28" fill="#5a8bbe" />
<rect x="611.70" y="664.96" width="9.30" height="17.28" fill="#abcf99" />
<rect x="611.70" y="734.08" width="9.30" height="17.28" fill="#9ab5d6" />
<rect x="621.00" y="664.96" width="9.30" height="17.28" fill="#5d8d40" />
<rect x="621.00" y="734.08" width="9.30" height="17.28" fill="#9ab5d6" />
<rect x="630.30" y="664.96" width="9.30" height="17.28" fill="#5d8d40" />
<rect x="630.30" y="734.08" width="9.30" height="17.28" fill="#5a8bbe" />
<rect x="639.60" y="664.96" width="9.30" height="17.28" fill="#abcf99" />
<rect x="639.60" y="734.08" width="9.30" height="17.28" fill="#b4c7da" />
<rect x="648.90" y="664.96" width="9.30" height="17.28" fill="#86b961" />
<rect x="648.90" y="734.08" width="9.30" height="17.28" fill="#b4c7da" />
<rect x="658.20" y="664.96" width="9.30" height="17.28" fill="#c9dcc5" />
<rect x="295.50" y="682.24" width="9.30" height="17.28" fill="#5d8d40" />
<rect x="295.50" y="751.36" width="9.30" height="17.28" fill="#446194" />
<rect x="314.10" y="682.24" width="9.30" height="17.28" fill="#86b961" />
<rect x="314.10" y="751.36" width="9.30" height="17.28" fill="#5a8bbe" />
<rect x="332.70" y="682.24" width="9.30" height="17.28" fill="#5d8d40" />
<rect x="332.70" y="751.36" width="9.30" height="17.28" fill="#446194" />
<rect x="351.30" y="682.24" width="9.30" height="17.28" fill="#5d8d40" />
<rect x="351.30" y="751.36" width="9.30" height="17.28" fill="#446194" />
<rect x="360.60" y="682.24" width="9.30" height="17.28" fill="#5d8d40" />
<rect x="360.60" y="751.36" width="9.30" height="17.28" fill="#446194" />
<rect x="379.20" y="682.24" width="9.30" height="17.28" fill="#5d8d40" />
<rect x="379.20" y="751.36" width="9.30" height="17.28" fill="#446194" />
<rect x="388.50" y="682.24" width="9.30" height="17.28" fill="#abcf99" />
<rect x="388.50" y="751.36" width="9.30" height="17.28" fill="#9ab5d6" />
<rect x="397.80" y="682.24" width="9.30" height="17.28" fill="#5d8d40" />
<rect x="397.80" y="751.36" width="9.30" height="17.28" fill="#446194" />
<rect x="407.10" y="682.24" width="9.30" height="17.28" fill="#5d8d40" />
<rect x="407.10" y="751.36" width="9.30" height="17.28" fill="#5a8bbe" />
<rect x="416.40" y="682.24" width="9.30" height="17.28" fill="#5d8d40" />
<rect x="416.40" y="751.36" width="9.30" height="17.28" fill="#446194" />
<rect x="425.70" y="682.24" width="9.30" height="17.28" fill="#86b961" />
<rect x="425.70" y="751.36" width="9.30" height="17.28" fill="#5a8bbe" />
<rect x="444.30" y="682.24" width="9.30" height="17.28" fill="#abcf99" />
<rect x="444.30" y="751.36" width="9.30" height="17.28" fill="#9ab5d6" />
<rect x="462.90" y="682.24" width="9.30" height="17.28" fill="#abcf99" />
<rect x="462.90" y="751.36" width="9.30" height="17.28" fill="#9ab5d6" />
<rect x="472.20" y="751.36" width="9.30" height="17.28" fill="#b4c7da" />
<rect x="481.50" y="682.24" width="9.30" height="17.28" fill="#c9dcc5" />
<rect x="481.50" y="751.36" width="9.30" height="17.28" fill="#b4c7da" />
<rect x="490.80" y="682.24" width="9.30" height="17.28" fill="#86b961" />
<rect x="490.80" y="751.36" width="9.30" height="17.28" fill="#9ab5d6" />
<rect x="500.10" y="682.24" width="9.30" height="17.28" fill="#5d8d40" />
<rect x="500.10" y="751.36" width="9.30" height="17.28" fill="#5a8bbe" />
<rect x="509.40" y="682.24" width="9.30" height="17.28" fill="#abcf99" />
<rect x="509.40" y="751.36" width="9.30" height="17.28" fill="#b4c7da" />
<rect x="528.00" y="682.24" width="9.30" height="17.28" fill="#86b961" />
<rect x="528.00" y="751.36" width="9.30" height="17.28" fill="#5a8bbe" />
<rect x="537.30" y="682.24" width="9.30" height="17.28" fill="#abcf99" />
<rect x="537.30" y="751.36" width="9.30" height="17.28" fill="#b4c7da" />
<rect x="583.80" y="682.24" width="9.30" height="17.28" fill="#86b961" />
<rect x="583.80" y="751.36" width="9.30" height="17.28" fill="#446194" />
<rect x="611.70" y="682.24" width="9.30" height="17.28" fill="#abcf99" />
<rect x="611.70" y="751.36" width="9.30" height="17.28" fill="#5a8bbe" />
<rect x="621.00" y="682.24" width="9.30" height="17.28" fill="#5d8d40" />
<rect x="621.00" y="751.36" width="9.30" height="17.28" fill="#5a8bbe" />
<rect x="630.30" y="682.24" width="9.30" height="17.28" fill="#5d8d40" />
<rect x="630.30" y="751.36" width="9.30" height="17.28" fill="#446194" />
<rect x="639.60" y="682.24" width="9.30" height="17.28" fill="#5d8d40" />
<rect x="639.60" y="751.36" width="9.30" height="17.28" fill="#9ab5d6" />
<rect x="648.90" y="682.24" width="9.30" height="17.28" fill="#5d8d40" />
<rect x="648.90" y="751.36" width="9.30" height="17.28" fill="#5a8bbe" />
<rect x="658.20" y="682.24" width="9.30" height="17.28" fill="#abcf99" />
<rect x="658.20" y="751.36" width="9.30" height="17.28" fill="#b4c7da" />
</g>
<rect x="295.50" y="630.40" width="372.00" height="138.24" fill="none" stroke="#999" stroke-width="0.5" />
<line x1="295.50" y1="699.50" x2="667.50" y2="699.50" stroke="#111" stroke-width="0.8" />
<line x1="292.50" y1="639.50" x2="295.50" y2="639.50" stroke="#3a3a3a" stroke-width="0.5" />
<text x="291.00" y="642.04" font-size="8.3" text-anchor="end" font-weight="normal" font-style="italic" fill="#000" >FGFR1</text>
<line x1="292.50" y1="656.50" x2="295.50" y2="656.50" stroke="#3a3a3a" stroke-width="0.5" />
<text x="291.00" y="659.32" font-size="8.3" text-anchor="end" font-weight="normal" font-style="italic" fill="#000" >FGFR2</text>
<line x1="292.50" y1="673.50" x2="295.50" y2="673.50" stroke="#3a3a3a" stroke-width="0.5" />
<text x="291.00" y="676.60" font-size="8.3" text-anchor="end" font-weight="normal" font-style="italic" fill="#000" >FGFR3</text>
<line x1="292.50" y1="690.50" x2="295.50" y2="690.50" stroke="#3a3a3a" stroke-width="0.5" />
<text x="291.00" y="693.88" font-size="8.3" text-anchor="end" font-weight="normal" font-style="italic" fill="#000" >FGFR4</text>
<line x1="292.50" y1="708.50" x2="295.50" y2="708.50" stroke="#3a3a3a" stroke-width="0.5" />
<text x="291.00" y="711.16" font-size="8.3" text-anchor="end" font-weight="normal" font-style="italic" fill="#000" >FGFR1</text>
<line x1="292.50" y1="725.50" x2="295.50" y2="725.50" stroke="#3a3a3a" stroke-width="0.5" />
<text x="291.00" y="728.44" font-size="8.3" text-anchor="end" font-weight="normal" font-style="italic" fill="#000" >FGFR2</text>
<line x1="292.50" y1="742.50" x2="295.50" y2="742.50" stroke="#3a3a3a" stroke-width="0.5" />
<text x="291.00" y="745.72" font-size="8.3" text-anchor="end" font-weight="normal" font-style="italic" fill="#000" >FGFR3</text>
<line x1="292.50" y1="760.50" x2="295.50" y2="760.50" stroke="#3a3a3a" stroke-width="0.5" />
<text x="291.00" y="763.00" font-size="8.3" text-anchor="end" font-weight="normal" font-style="italic" fill="#000" >FGFR4</text>
<line x1="300.50" y1="626.90" x2="300.50" y2="630.40" stroke="#3a3a3a" stroke-width="0.5" />
<text x="302.15" y="625.60" font-size="5.7" text-anchor="start" font-weight="normal" font-style="normal" fill="#000" transform="rotate(-90 302.15 625.60)" stroke="#000" stroke-width="0.2">D527V</text>
<line x1="309.50" y1="626.90" x2="309.50" y2="630.40" stroke="#3a3a3a" stroke-width="0.5" />
<text x="311.45" y="625.60" font-size="5.7" text-anchor="start" font-weight="normal" font-style="normal" fill="#000" transform="rotate(-90 311.45 625.60)" stroke="#000" stroke-width="0.2">E533K</text>
<line x1="318.50" y1="626.90" x2="318.50" y2="630.40" stroke="#3a3a3a" stroke-width="0.5" />
<text x="320.75" y="625.60" font-size="5.7" text-anchor="start" font-weight="normal" font-style="normal" fill="#000" transform="rotate(-90 320.75 625.60)" stroke="#000" stroke-width="0.2">M535L</text>
<line x1="328.50" y1="626.90" x2="328.50" y2="630.40" stroke="#3a3a3a" stroke-width="0.5" />
<text x="330.05" y="625.60" font-size="5.7" text-anchor="start" font-weight="normal" font-style="normal" fill="#000" transform="rotate(-90 330.05 625.60)" stroke="#000" stroke-width="0.2">M535I</text>
<line x1="337.50" y1="626.90" x2="337.50" y2="630.40" stroke="#3a3a3a" stroke-width="0.5" />
<text x="339.35" y="625.60" font-size="5.7" text-anchor="start" font-weight="normal" font-style="normal" fill="#000" transform="rotate(-90 339.35 625.60)" stroke="#000" stroke-width="0.2">I544V</text>
<line x1="346.50" y1="626.90" x2="346.50" y2="630.40" stroke="#3a3a3a" stroke-width="0.5" />
<text x="348.65" y="625.60" font-size="5.7" text-anchor="start" font-weight="normal" font-style="normal" fill="#000" transform="rotate(-90 348.65 625.60)" stroke="#000" stroke-width="0.2">I545T</text>
<line x1="355.50" y1="626.90" x2="355.50" y2="630.40" stroke="#3a3a3a" stroke-width="0.5" />
<text x="357.95" y="625.60" font-size="5.7" text-anchor="start" font-weight="normal" font-style="normal" fill="#000" transform="rotate(-90 357.95 625.60)" stroke="#000" stroke-width="0.2">N546H</text>
<line x1="365.50" y1="626.90" x2="365.50" y2="630.40" stroke="#3a3a3a" stroke-width="0.5" />
<text x="367.25" y="625.60" font-size="5.7" text-anchor="start" font-weight="normal" font-style="normal" fill="#000" transform="rotate(-90 367.25 625.60)" stroke="#000" stroke-width="0.2">N546D</text>
<line x1="374.50" y1="626.90" x2="374.50" y2="630.40" stroke="#3a3a3a" stroke-width="0.5" />
<text x="376.55" y="625.60" font-size="5.7" text-anchor="start" font-weight="normal" font-style="normal" fill="#000" transform="rotate(-90 376.55 625.60)" stroke="#000" stroke-width="0.2">N546I</text>
<line x1="383.50" y1="626.90" x2="383.50" y2="630.40" stroke="#3a3a3a" stroke-width="0.5" />
<text x="385.85" y="625.60" font-size="5.7" text-anchor="start" font-weight="normal" font-style="normal" fill="#000" transform="rotate(-90 385.85 625.60)" stroke="#000" stroke-width="0.2">N546T</text>
<line x1="393.50" y1="626.90" x2="393.50" y2="630.40" stroke="#3a3a3a" stroke-width="0.5" />
<text x="395.15" y="625.60" font-size="5.7" text-anchor="start" font-weight="normal" font-style="normal" fill="#000" transform="rotate(-90 395.15 625.60)" stroke="#000" stroke-width="0.2">N546S</text>
<line x1="402.50" y1="626.90" x2="402.50" y2="630.40" stroke="#3a3a3a" stroke-width="0.5" />
<text x="404.45" y="625.60" font-size="5.7" text-anchor="start" font-weight="normal" font-style="normal" fill="#000" transform="rotate(-90 404.45 625.60)" stroke="#000" stroke-width="0.2">N546K</text>
<line x1="411.50" y1="626.90" x2="411.50" y2="630.40" stroke="#3a3a3a" stroke-width="0.5" />
<text x="413.75" y="625.60" font-size="5.7" text-anchor="start" font-weight="normal" font-style="normal" fill="#000" transform="rotate(-90 413.75 625.60)" stroke="#000" stroke-width="0.2">V559L</text>
<line x1="421.50" y1="626.90" x2="421.50" y2="630.40" stroke="#3a3a3a" stroke-width="0.5" />
<text x="423.05" y="625.60" font-size="5.7" text-anchor="start" font-weight="normal" font-style="normal" fill="#000" transform="rotate(-90 423.05 625.60)" stroke="#000" stroke-width="0.2">V561L</text>
<line x1="430.50" y1="626.90" x2="430.50" y2="630.40" stroke="#3a3a3a" stroke-width="0.5" />
<text x="432.35" y="625.60" font-size="5.7" text-anchor="start" font-weight="normal" font-style="normal" fill="#000" transform="rotate(-90 432.35 625.60)" stroke="#000" stroke-width="0.2">V561A</text>
<line x1="439.50" y1="626.90" x2="439.50" y2="630.40" stroke="#3a3a3a" stroke-width="0.5" />
<text x="441.65" y="625.60" font-size="5.7" text-anchor="start" font-weight="normal" font-style="normal" fill="#000" transform="rotate(-90 441.65 625.60)" stroke="#000" stroke-width="0.2">E562K</text>
<line x1="448.50" y1="626.90" x2="448.50" y2="630.40" stroke="#3a3a3a" stroke-width="0.5" />
<text x="450.95" y="625.60" font-size="5.7" text-anchor="start" font-weight="normal" font-style="normal" fill="#000" transform="rotate(-90 450.95 625.60)" stroke="#000" stroke-width="0.2">E562Q</text>
<line x1="458.50" y1="626.90" x2="458.50" y2="630.40" stroke="#3a3a3a" stroke-width="0.5" />
<text x="460.25" y="625.60" font-size="5.7" text-anchor="start" font-weight="normal" font-style="normal" fill="#000" transform="rotate(-90 460.25 625.60)" stroke="#000" stroke-width="0.2">E562V</text>
<line x1="467.50" y1="626.90" x2="467.50" y2="630.40" stroke="#3a3a3a" stroke-width="0.5" />
<text x="469.55" y="625.60" font-size="5.7" text-anchor="start" font-weight="normal" font-style="normal" fill="#000" transform="rotate(-90 469.55 625.60)" stroke="#000" stroke-width="0.2">E562A</text>
<line x1="476.50" y1="626.90" x2="476.50" y2="630.40" stroke="#3a3a3a" stroke-width="0.5" />
<text x="478.85" y="625.60" font-size="5.7" text-anchor="start" font-weight="normal" font-style="normal" fill="#000" transform="rotate(-90 478.85 625.60)" stroke="#000" stroke-width="0.2">E562G</text>
<line x1="486.50" y1="626.90" x2="486.50" y2="630.40" stroke="#3a3a3a" stroke-width="0.5" />
<text x="488.15" y="625.60" font-size="5.7" text-anchor="start" font-weight="normal" font-style="normal" fill="#000" transform="rotate(-90 488.15 625.60)" stroke="#000" stroke-width="0.2">G610A</text>
<line x1="495.50" y1="626.90" x2="495.50" y2="630.40" stroke="#3a3a3a" stroke-width="0.5" />
<text x="497.45" y="625.60" font-size="5.7" text-anchor="start" font-weight="normal" font-style="normal" fill="#000" transform="rotate(-90 497.45 625.60)" stroke="#000" stroke-width="0.2">L614M</text>
<line x1="504.50" y1="626.90" x2="504.50" y2="630.40" stroke="#3a3a3a" stroke-width="0.5" />
<text x="506.75" y="625.60" font-size="5.7" text-anchor="start" font-weight="normal" font-style="normal" fill="#000" transform="rotate(-90 506.75 625.60)" stroke="#000" stroke-width="0.2">L614V</text>
<line x1="514.50" y1="626.90" x2="514.50" y2="630.40" stroke="#3a3a3a" stroke-width="0.5" />
<text x="516.05" y="625.60" font-size="5.7" text-anchor="start" font-weight="normal" font-style="normal" fill="#000" transform="rotate(-90 516.05 625.60)" stroke="#000" stroke-width="0.2">S616F</text>
<line x1="523.50" y1="626.90" x2="523.50" y2="630.40" stroke="#3a3a3a" stroke-width="0.5" />
<text x="525.35" y="625.60" font-size="5.7" text-anchor="start" font-weight="normal" font-style="normal" fill="#000" transform="rotate(-90 525.35 625.60)" stroke="#000" stroke-width="0.2">L630M</text>
<line x1="532.50" y1="626.90" x2="532.50" y2="630.40" stroke="#3a3a3a" stroke-width="0.5" />
<text x="534.65" y="625.60" font-size="5.7" text-anchor="start" font-weight="normal" font-style="normal" fill="#000" transform="rotate(-90 534.65 625.60)" stroke="#000" stroke-width="0.2">L630V</text>
<line x1="541.50" y1="626.90" x2="541.50" y2="630.40" stroke="#3a3a3a" stroke-width="0.5" />
<text x="543.95" y="625.60" font-size="5.7" text-anchor="start" font-weight="normal" font-style="normal" fill="#000" transform="rotate(-90 543.95 625.60)" stroke="#000" stroke-width="0.2">T632S</text>
<line x1="551.50" y1="626.90" x2="551.50" y2="630.40" stroke="#3a3a3a" stroke-width="0.5" />
<text x="553.25" y="625.60" font-size="5.7" text-anchor="start" font-weight="normal" font-style="normal" fill="#000" transform="rotate(-90 553.25 625.60)" stroke="#000" stroke-width="0.2">T632P</text>
<line x1="560.50" y1="626.90" x2="560.50" y2="630.40" stroke="#3a3a3a" stroke-width="0.5" />
<text x="562.55" y="625.60" font-size="5.7" text-anchor="start" font-weight="normal" font-style="normal" fill="#000" transform="rotate(-90 562.55 625.60)" stroke="#000" stroke-width="0.2">T632I</text>
<line x1="569.50" y1="626.90" x2="569.50" y2="630.40" stroke="#3a3a3a" stroke-width="0.5" />
<text x="571.85" y="625.60" font-size="5.7" text-anchor="start" font-weight="normal" font-style="normal" fill="#000" transform="rotate(-90 571.85 625.60)" stroke="#000" stroke-width="0.2">K638Q</text>
<line x1="579.50" y1="626.90" x2="579.50" y2="630.40" stroke="#3a3a3a" stroke-width="0.5" />
<text x="581.15" y="625.60" font-size="5.7" text-anchor="start" font-weight="normal" font-style="normal" fill="#000" transform="rotate(-90 581.15 625.60)" stroke="#000" stroke-width="0.2">K638T</text>
<line x1="588.50" y1="626.90" x2="588.50" y2="630.40" stroke="#3a3a3a" stroke-width="0.5" />
<text x="590.45" y="625.60" font-size="5.7" text-anchor="start" font-weight="normal" font-style="normal" fill="#000" transform="rotate(-90 590.45 625.60)" stroke="#000" stroke-width="0.2">K638R</text>
<line x1="597.50" y1="626.90" x2="597.50" y2="630.40" stroke="#3a3a3a" stroke-width="0.5" />
<text x="599.75" y="625.60" font-size="5.7" text-anchor="start" font-weight="normal" font-style="normal" fill="#000" transform="rotate(-90 599.75 625.60)" stroke="#000" stroke-width="0.2">K638N</text>
<line x1="607.50" y1="626.90" x2="607.50" y2="630.40" stroke="#3a3a3a" stroke-width="0.5" />
<text x="609.05" y="625.60" font-size="5.7" text-anchor="start" font-weight="normal" font-style="normal" fill="#000" transform="rotate(-90 609.05 625.60)" stroke="#000" stroke-width="0.2">A640S</text>
<line x1="616.50" y1="626.90" x2="616.50" y2="630.40" stroke="#3a3a3a" stroke-width="0.5" />
<text x="618.35" y="625.60" font-size="5.7" text-anchor="start" font-weight="normal" font-style="normal" fill="#000" transform="rotate(-90 618.35 625.60)" stroke="#000" stroke-width="0.2">A640G</text>
<line x1="625.50" y1="626.90" x2="625.50" y2="630.40" stroke="#3a3a3a" stroke-width="0.5" />
<text x="627.65" y="625.60" font-size="5.7" text-anchor="start" font-weight="normal" font-style="normal" fill="#000" transform="rotate(-90 627.65 625.60)" stroke="#000" stroke-width="0.2">K656Q</text>
<line x1="634.50" y1="626.90" x2="634.50" y2="630.40" stroke="#3a3a3a" stroke-width="0.5" />
<text x="636.95" y="625.60" font-size="5.7" text-anchor="start" font-weight="normal" font-style="normal" fill="#000" transform="rotate(-90 636.95 625.60)" stroke="#000" stroke-width="0.2">K656E</text>
<line x1="644.50" y1="626.90" x2="644.50" y2="630.40" stroke="#3a3a3a" stroke-width="0.5" />
<text x="646.25" y="625.60" font-size="5.7" text-anchor="start" font-weight="normal" font-style="normal" fill="#000" transform="rotate(-90 646.25 625.60)" stroke="#000" stroke-width="0.2">K656T</text>
<line x1="653.50" y1="626.90" x2="653.50" y2="630.40" stroke="#3a3a3a" stroke-width="0.5" />
<text x="655.55" y="625.60" font-size="5.7" text-anchor="start" font-weight="normal" font-style="normal" fill="#000" transform="rotate(-90 655.55 625.60)" stroke="#000" stroke-width="0.2">R675G</text>
<line x1="662.50" y1="626.90" x2="662.50" y2="630.40" stroke="#3a3a3a" stroke-width="0.5" />
<text x="664.85" y="625.60" font-size="5.7" text-anchor="start" font-weight="normal" font-style="normal" fill="#000" transform="rotate(-90 664.85 625.60)" stroke="#000" stroke-width="0.2">E715K</text>
<text x="684.60" y="661.40" font-size="14.6" text-anchor="middle" font-weight="bold" font-style="normal" fill="#6a9a48" transform="rotate(-90 684.60 661.40)" >PemR</text>
<text x="684.60" y="734.80" font-size="14.6" text-anchor="middle" font-weight="bold" font-style="normal" fill="#2f5597" transform="rotate(-90 684.60 734.80)" >FutR</text>
<rect x="296.10" y="790.50" width="9.70" height="9.30" fill="#5d8d40" />
<rect x="305.80" y="790.50" width="9.70" height="9.30" fill="#446194" />
<text x="320.60" y="797.80" font-size="8.8" text-anchor="start" font-weight="normal" font-style="normal" fill="#000" >Strongly resistant</text>
<rect x="402.10" y="790.50" width="9.70" height="9.30" fill="#86b961" />
<rect x="411.80" y="790.50" width="9.70" height="9.30" fill="#5a8bbe" />
<text x="427.20" y="797.80" font-size="8.8" text-anchor="start" font-weight="normal" font-style="normal" fill="#000" >Resistant</text>
<rect x="477.10" y="790.50" width="9.70" height="9.30" fill="#abcf99" />
<rect x="486.80" y="790.50" width="9.70" height="9.30" fill="#9ab5d6" />
<text x="503.20" y="797.80" font-size="8.8" text-anchor="start" font-weight="normal" font-style="normal" fill="#000" >Weakly resistant</text>
<rect x="579.50" y="790.50" width="9.70" height="9.30" fill="#c9dcc5" />
<rect x="589.20" y="790.50" width="9.70" height="9.30" fill="#b4c7da" />
<text x="604.90" y="797.80" font-size="8.8" text-anchor="start" font-weight="normal" font-style="normal" fill="#000" >Potentially resistant</text>
<text x="10.40" y="838.00" font-size="13" text-anchor="start" font-weight="bold" font-style="normal" fill="#000" >i</text>
<g shape-rendering="crispEdges">
<rect x="72.48" y="853.50" width="6.59" height="21.50" fill="#c9dcc5" />
<rect x="79.07" y="853.50" width="6.59" height="21.50" fill="#c9dcc5" />
<rect x="98.84" y="853.50" width="6.59" height="21.50" fill="#c9dcc5" />
<rect x="105.43" y="853.50" width="6.59" height="21.50" fill="#c9dcc5" />
<rect x="112.02" y="853.50" width="6.59" height="21.50" fill="#abcf99" />
<rect x="118.61" y="853.50" width="6.59" height="21.50" fill="#c9dcc5" />
<rect x="125.20" y="853.50" width="6.59" height="21.50" fill="#86b961" />
<rect x="131.79" y="853.50" width="6.59" height="21.50" fill="#86b961" />
<rect x="138.38" y="853.50" width="6.59" height="21.50" fill="#abcf99" />
<rect x="144.97" y="853.50" width="6.59" height="21.50" fill="#c9dcc5" />
<rect x="151.56" y="853.50" width="6.59" height="21.50" fill="#c9dcc5" />
<rect x="158.15" y="853.50" width="6.59" height="21.50" fill="#c9dcc5" />
<rect x="164.74" y="853.50" width="6.59" height="21.50" fill="#c9dcc5" />
<rect x="171.33" y="853.50" width="6.59" height="21.50" fill="#c9dcc5" />
<rect x="177.92" y="853.50" width="6.59" height="21.50" fill="#c9dcc5" />
<rect x="184.51" y="853.50" width="6.59" height="21.50" fill="#abcf99" />
<rect x="191.10" y="853.50" width="6.59" height="21.50" fill="#abcf99" />
<rect x="197.69" y="853.50" width="6.59" height="21.50" fill="#abcf99" />
<rect x="204.28" y="853.50" width="6.59" height="21.50" fill="#86b961" />
<rect x="210.87" y="853.50" width="6.59" height="21.50" fill="#86b961" />
<rect x="217.46" y="853.50" width="6.59" height="21.50" fill="#5d8d40" />
<rect x="224.05" y="853.50" width="6.59" height="21.50" fill="#5d8d40" />
<rect x="230.64" y="853.50" width="6.59" height="21.50" fill="#86b961" />
<rect x="237.23" y="853.50" width="6.59" height="21.50" fill="#86b961" />
<rect x="250.41" y="853.50" width="6.59" height="21.50" fill="#5d8d40" />
<rect x="257.00" y="853.50" width="6.59" height="21.50" fill="#abcf99" />
<rect x="263.59" y="853.50" width="6.59" height="21.50" fill="#c9dcc5" />
<rect x="270.18" y="853.50" width="6.59" height="21.50" fill="#86b961" />
<rect x="276.77" y="853.50" width="6.59" height="21.50" fill="#5d8d40" />
<rect x="289.95" y="853.50" width="6.59" height="21.50" fill="#86b961" />
<rect x="296.54" y="853.50" width="6.59" height="21.50" fill="#5d8d40" />
<rect x="303.13" y="853.50" width="6.59" height="21.50" fill="#abcf99" />
<rect x="309.72" y="853.50" width="6.59" height="21.50" fill="#abcf99" />
<rect x="316.31" y="853.50" width="6.59" height="21.50" fill="#5d8d40" />
<rect x="322.90" y="853.50" width="6.59" height="21.50" fill="#5d8d40" />
<rect x="329.49" y="853.50" width="6.59" height="21.50" fill="#86b961" />
<rect x="336.08" y="853.50" width="6.59" height="21.50" fill="#abcf99" />
<rect x="342.67" y="853.50" width="6.59" height="21.50" fill="#c9dcc5" />
<rect x="349.26" y="853.50" width="6.59" height="21.50" fill="#abcf99" />
<rect x="362.44" y="853.50" width="6.59" height="21.50" fill="#abcf99" />
<rect x="369.03" y="853.50" width="6.59" height="21.50" fill="#abcf99" />
<rect x="375.62" y="853.50" width="6.59" height="21.50" fill="#c9dcc5" />
<rect x="382.21" y="853.50" width="6.59" height="21.50" fill="#c9dcc5" />
<rect x="388.80" y="853.50" width="6.59" height="21.50" fill="#5d8d40" />
<rect x="395.39" y="853.50" width="6.59" height="21.50" fill="#5d8d40" />
<rect x="415.16" y="853.50" width="6.59" height="21.50" fill="#abcf99" />
<rect x="421.75" y="853.50" width="6.59" height="21.50" fill="#86b961" />
<rect x="428.34" y="853.50" width="6.59" height="21.50" fill="#abcf99" />
<rect x="434.93" y="853.50" width="6.59" height="21.50" fill="#abcf99" />
<rect x="441.52" y="853.50" width="6.59" height="21.50" fill="#abcf99" />
<rect x="448.11" y="853.50" width="6.59" height="21.50" fill="#c9dcc5" />
<rect x="454.70" y="853.50" width="6.59" height="21.50" fill="#abcf99" />
<rect x="461.29" y="853.50" width="6.59" height="21.50" fill="#c9dcc5" />
<rect x="467.88" y="853.50" width="6.59" height="21.50" fill="#86b961" />
<rect x="474.47" y="853.50" width="6.59" height="21.50" fill="#c9dcc5" />
<rect x="481.06" y="853.50" width="6.59" height="21.50" fill="#c9dcc5" />
<rect x="487.65" y="853.50" width="6.59" height="21.50" fill="#abcf99" />
<rect x="494.24" y="853.50" width="6.59" height="21.50" fill="#86b961" />
<rect x="500.83" y="853.50" width="6.59" height="21.50" fill="#5d8d40" />
<rect x="507.42" y="853.50" width="6.59" height="21.50" fill="#abcf99" />
<rect x="514.01" y="853.50" width="6.59" height="21.50" fill="#abcf99" />
<rect x="520.60" y="853.50" width="6.59" height="21.50" fill="#abcf99" />
<rect x="527.19" y="853.50" width="6.59" height="21.50" fill="#c9dcc5" />
<rect x="533.78" y="853.50" width="6.59" height="21.50" fill="#abcf99" />
<rect x="540.37" y="853.50" width="6.59" height="21.50" fill="#86b961" />
<rect x="546.96" y="853.50" width="6.59" height="21.50" fill="#86b961" />
<rect x="553.55" y="853.50" width="6.59" height="21.50" fill="#c9dcc5" />
<rect x="560.14" y="853.50" width="6.59" height="21.50" fill="#c9dcc5" />
<rect x="566.73" y="853.50" width="6.59" height="21.50" fill="#c9dcc5" />
<rect x="579.91" y="853.50" width="6.59" height="21.50" fill="#c9dcc5" />
<rect x="586.50" y="853.50" width="6.59" height="21.50" fill="#abcf99" />
<rect x="593.09" y="853.50" width="6.59" height="21.50" fill="#c9dcc5" />
<rect x="599.68" y="853.50" width="6.59" height="21.50" fill="#abcf99" />
<rect x="619.45" y="853.50" width="6.59" height="21.50" fill="#c9dcc5" />
<rect x="65.89" y="875.00" width="6.59" height="21.50" fill="#c9dcc5" />
<rect x="72.48" y="875.00" width="6.59" height="21.50" fill="#c9dcc5" />
<rect x="85.66" y="875.00" width="6.59" height="21.50" fill="#c9dcc5" />
<rect x="92.25" y="875.00" width="6.59" height="21.50" fill="#c9dcc5" />
<rect x="98.84" y="875.00" width="6.59" height="21.50" fill="#c9dcc5" />
<rect x="105.43" y="875.00" width="6.59" height="21.50" fill="#c9dcc5" />
<rect x="112.02" y="875.00" width="6.59" height="21.50" fill="#abcf99" />
<rect x="118.61" y="875.00" width="6.59" height="21.50" fill="#c9dcc5" />
<rect x="125.20" y="875.00" width="6.59" height="21.50" fill="#abcf99" />
<rect x="131.79" y="875.00" width="6.59" height="21.50" fill="#c9dcc5" />
<rect x="138.38" y="875.00" width="6.59" height="21.50" fill="#abcf99" />
<rect x="144.97" y="875.00" width="6.59" height="21.50" fill="#c9dcc5" />
<rect x="151.56" y="875.00" width="6.59" height="21.50" fill="#c9dcc5" />
<rect x="158.15" y="875.00" width="6.59" height="21.50" fill="#c9dcc5" />
<rect x="164.74" y="875.00" width="6.59" height="21.50" fill="#abcf99" />
<rect x="171.33" y="875.00" width="6.59" height="21.50" fill="#c9dcc5" />
<rect x="177.92" y="875.00" width="6.59" height="21.50" fill="#c9dcc5" />
<rect x="184.51" y="875.00" width="6.59" height="21.50" fill="#c9dcc5" />
<rect x="191.10" y="875.00" width="6.59" height="21.50" fill="#abcf99" />
<rect x="197.69" y="875.00" width="6.59" height="21.50" fill="#abcf99" />
<rect x="204.28" y="875.00" width="6.59" height="21.50" fill="#5d8d40" />
<rect x="210.87" y="875.00" width="6.59" height="21.50" fill="#86b961" />
<rect x="217.46" y="875.00" width="6.59" height="21.50" fill="#5d8d40" />
<rect x="224.05" y="875.00" width="6.59" height="21.50" fill="#5d8d40" />
<rect x="230.64" y="875.00" width="6.59" height="21.50" fill="#5d8d40" />
<rect x="237.23" y="875.00" width="6.59" height="21.50" fill="#5d8d40" />
<rect x="243.82" y="875.00" width="6.59" height="21.50" fill="#c9dcc5" />
<rect x="250.41" y="875.00" width="6.59" height="21.50" fill="#5d8d40" />
<rect x="257.00" y="875.00" width="6.59" height="21.50" fill="#c9dcc5" />
<rect x="263.59" y="875.00" width="6.59" height="21.50" fill="#abcf99" />
<rect x="270.18" y="875.00" width="6.59" height="21.50" fill="#86b961" />
<rect x="276.77" y="875.00" width="6.59" height="21.50" fill="#5d8d40" />
<rect x="283.36" y="875.00" width="6.59" height="21.50" fill="#c9dcc5" />
<rect x="289.95" y="875.00" width="6.59" height="21.50" fill="#5d8d40" />
<rect x="296.54" y="875.00" width="6.59" height="21.50" fill="#5d8d40" />
<rect x="303.13" y="875.00" width="6.59" height="21.50" fill="#abcf99" />
<rect x="309.72" y="875.00" width="6.59" height="21.50" fill="#5d8d40" />
<rect x="316.31" y="875.00" width="6.59" height="21.50" fill="#5d8d40" />
<rect x="322.90" y="875.00" width="6.59" height="21.50" fill="#5d8d40" />
<rect x="329.49" y="875.00" width="6.59" height="21.50" fill="#abcf99" />
<rect x="336.08" y="875.00" width="6.59" height="21.50" fill="#86b961" />
<rect x="342.67" y="875.00" width="6.59" height="21.50" fill="#c9dcc5" />
<rect x="349.26" y="875.00" width="6.59" height="21.50" fill="#86b961" />
<rect x="369.03" y="875.00" width="6.59" height="21.50" fill="#abcf99" />
<rect x="375.62" y="875.00" width="6.59" height="21.50" fill="#c9dcc5" />
<rect x="382.21" y="875.00" width="6.59" height="21.50" fill="#c9dcc5" />
<rect x="388.80" y="875.00" width="6.59" height="21.50" fill="#5d8d40" />
<rect x="395.39" y="875.00" width="6.59" height="21.50" fill="#5d8d40" />
<rect x="401.98" y="875.00" width="6.59" height="21.50" fill="#c9dcc5" />
<rect x="415.16" y="875.00" width="6.59" height="21.50" fill="#c9dcc5" />
<rect x="421.75" y="875.00" width="6.59" height="21.50" fill="#abcf99" />
<rect x="428.34" y="875.00" width="6.59" height="21.50" fill="#c9dcc5" />
<rect x="434.93" y="875.00" width="6.59" height="21.50" fill="#c9dcc5" />
<rect x="441.52" y="875.00" width="6.59" height="21.50" fill="#86b961" />
<rect x="454.70" y="875.00" width="6.59" height="21.50" fill="#abcf99" />
<rect x="467.88" y="875.00" width="6.59" height="21.50" fill="#abcf99" />
<rect x="487.65" y="875.00" width="6.59" height="21.50" fill="#86b961" />
<rect x="494.24" y="875.00" width="6.59" height="21.50" fill="#5d8d40" />
<rect x="500.83" y="875.00" width="6.59" height="21.50" fill="#5d8d40" />
<rect x="507.42" y="875.00" width="6.59" height="21.50" fill="#86b961" />
<rect x="520.60" y="875.00" width="6.59" height="21.50" fill="#c9dcc5" />
<rect x="533.78" y="875.00" width="6.59" height="21.50" fill="#abcf99" />
<rect x="540.37" y="875.00" width="6.59" height="21.50" fill="#86b961" />
<rect x="546.96" y="875.00" width="6.59" height="21.50" fill="#abcf99" />
<rect x="553.55" y="875.00" width="6.59" height="21.50" fill="#c9dcc5" />
<rect x="560.14" y="875.00" width="6.59" height="21.50" fill="#abcf99" />
<rect x="586.50" y="875.00" width="6.59" height="21.50" fill="#abcf99" />
<rect x="593.09" y="875.00" width="6.59" height="21.50" fill="#c9dcc5" />
<rect x="599.68" y="875.00" width="6.59" height="21.50" fill="#abcf99" />
<rect x="619.45" y="875.00" width="6.59" height="21.50" fill="#abcf99" />
<rect x="632.63" y="875.00" width="6.59" height="21.50" fill="#c9dcc5" />
<rect x="645.81" y="875.00" width="6.59" height="21.50" fill="#c9dcc5" />
<rect x="59.30" y="896.50" width="6.59" height="21.50" fill="#c9dcc5" />
<rect x="65.89" y="896.50" width="6.59" height="21.50" fill="#c9dcc5" />
<rect x="72.48" y="896.50" width="6.59" height="21.50" fill="#c9dcc5" />
<rect x="79.07" y="896.50" width="6.59" height="21.50" fill="#c9dcc5" />
<rect x="98.84" y="896.50" width="6.59" height="21.50" fill="#c9dcc5" />
<rect x="112.02" y="896.50" width="6.59" height="21.50" fill="#c9dcc5" />
<rect x="125.20" y="896.50" width="6.59" height="21.50" fill="#abcf99" />
<rect x="151.56" y="896.50" width="6.59" height="21.50" fill="#c9dcc5" />
<rect x="164.74" y="896.50" width="6.59" height="21.50" fill="#c9dcc5" />
<rect x="171.33" y="896.50" width="6.59" height="21.50" fill="#c9dcc5" />
<rect x="191.10" y="896.50" width="6.59" height="21.50" fill="#86b961" />
<rect x="197.69" y="896.50" width="6.59" height="21.50" fill="#c9dcc5" />
<rect x="217.46" y="896.50" width="6.59" height="21.50" fill="#86b961" />
<rect x="224.05" y="896.50" width="6.59" height="21.50" fill="#c9dcc5" />
<rect x="237.23" y="896.50" width="6.59" height="21.50" fill="#5d8d40" />
<rect x="243.82" y="896.50" width="6.59" height="21.50" fill="#abcf99" />
<rect x="250.41" y="896.50" width="6.59" height="21.50" fill="#5d8d40" />
<rect x="270.18" y="896.50" width="6.59" height="21.50" fill="#5d8d40" />
<rect x="276.77" y="896.50" width="6.59" height="21.50" fill="#5d8d40" />
<rect x="355.85" y="896.50" width="6.59" height="21.50" fill="#c9dcc5" />
<rect x="388.80" y="896.50" width="6.59" height="21.50" fill="#86b961" />
<rect x="395.39" y="896.50" width="6.59" height="21.50" fill="#5d8d40" />
<rect x="408.57" y="896.50" width="6.59" height="21.50" fill="#c9dcc5" />
<rect x="415.16" y="896.50" width="6.59" height="21.50" fill="#86b961" />
<rect x="421.75" y="896.50" width="6.59" height="21.50" fill="#86b961" />
<rect x="428.34" y="896.50" width="6.59" height="21.50" fill="#86b961" />
<rect x="441.52" y="896.50" width="6.59" height="21.50" fill="#abcf99" />
<rect x="448.11" y="896.50" width="6.59" height="21.50" fill="#c9dcc5" />
<rect x="514.01" y="896.50" width="6.59" height="21.50" fill="#c9dcc5" />
<rect x="520.60" y="896.50" width="6.59" height="21.50" fill="#abcf99" />
<rect x="527.19" y="896.50" width="6.59" height="21.50" fill="#c9dcc5" />
<rect x="533.78" y="896.50" width="6.59" height="21.50" fill="#5d8d40" />
<rect x="540.37" y="896.50" width="6.59" height="21.50" fill="#5d8d40" />
<rect x="546.96" y="896.50" width="6.59" height="21.50" fill="#abcf99" />
<rect x="553.55" y="896.50" width="6.59" height="21.50" fill="#abcf99" />
<rect x="560.14" y="896.50" width="6.59" height="21.50" fill="#abcf99" />
<rect x="566.73" y="896.50" width="6.59" height="21.50" fill="#abcf99" />
<rect x="573.32" y="896.50" width="6.59" height="21.50" fill="#c9dcc5" />
<rect x="579.91" y="896.50" width="6.59" height="21.50" fill="#abcf99" />
<rect x="586.50" y="896.50" width="6.59" height="21.50" fill="#86b961" />
<rect x="593.09" y="896.50" width="6.59" height="21.50" fill="#abcf99" />
<rect x="599.68" y="896.50" width="6.59" height="21.50" fill="#c9dcc5" />
<rect x="606.27" y="896.50" width="6.59" height="21.50" fill="#c9dcc5" />
<rect x="612.86" y="896.50" width="6.59" height="21.50" fill="#c9dcc5" />
<rect x="619.45" y="896.50" width="6.59" height="21.50" fill="#c9dcc5" />
<rect x="626.04" y="896.50" width="6.59" height="21.50" fill="#c9dcc5" />
<rect x="632.63" y="896.50" width="6.59" height="21.50" fill="#c9dcc5" />
<rect x="639.22" y="896.50" width="6.59" height="21.50" fill="#c9dcc5" />
<rect x="59.30" y="918.00" width="6.59" height="21.50" fill="#abcf99" />
<rect x="65.89" y="918.00" width="6.59" height="21.50" fill="#abcf99" />
<rect x="72.48" y="918.00" width="6.59" height="21.50" fill="#5d8d40" />
<rect x="79.07" y="918.00" width="6.59" height="21.50" fill="#5d8d40" />
<rect x="85.66" y="918.00" width="6.59" height="21.50" fill="#86b961" />
<rect x="92.25" y="918.00" width="6.59" height="21.50" fill="#5d8d40" />
<rect x="112.02" y="918.00" width="6.59" height="21.50" fill="#c9dcc5" />
<rect x="125.20" y="918.00" width="6.59" height="21.50" fill="#86b961" />
<rect x="151.56" y="918.00" width="6.59" height="21.50" fill="#86b961" />
<rect x="164.74" y="918.00" width="6.59" height="21.50" fill="#abcf99" />
<rect x="171.33" y="918.00" width="6.59" height="21.50" fill="#c9dcc5" />
<rect x="191.10" y="918.00" width="6.59" height="21.50" fill="#5d8d40" />
<rect x="217.46" y="918.00" width="6.59" height="21.50" fill="#5d8d40" />
<rect x="224.05" y="918.00" width="6.59" height="21.50" fill="#5d8d40" />
<rect x="237.23" y="918.00" width="6.59" height="21.50" fill="#5d8d40" />
<rect x="243.82" y="918.00" width="6.59" height="21.50" fill="#abcf99" />
<rect x="250.41" y="918.00" width="6.59" height="21.50" fill="#5d8d40" />
<rect x="263.59" y="918.00" width="6.59" height="21.50" fill="#abcf99" />
<rect x="270.18" y="918.00" width="6.59" height="21.50" fill="#5d8d40" />
<rect x="276.77" y="918.00" width="6.59" height="21.50" fill="#5d8d40" />
<rect x="283.36" y="918.00" width="6.59" height="21.50" fill="#86b961" />
<rect x="303.13" y="918.00" width="6.59" height="21.50" fill="#abcf99" />
<rect x="316.31" y="918.00" width="6.59" height="21.50" fill="#abcf99" />
<rect x="336.08" y="918.00" width="6.59" height="21.50" fill="#5d8d40" />
<rect x="342.67" y="918.00" width="6.59" height="21.50" fill="#c9dcc5" />
<rect x="355.85" y="918.00" width="6.59" height="21.50" fill="#abcf99" />
<rect x="362.44" y="918.00" width="6.59" height="21.50" fill="#c9dcc5" />
<rect x="388.80" y="918.00" width="6.59" height="21.50" fill="#86b961" />
<rect x="395.39" y="918.00" width="6.59" height="21.50" fill="#5d8d40" />
<rect x="401.98" y="918.00" width="6.59" height="21.50" fill="#c9dcc5" />
<rect x="408.57" y="918.00" width="6.59" height="21.50" fill="#abcf99" />
<rect x="415.16" y="918.00" width="6.59" height="21.50" fill="#86b961" />
<rect x="421.75" y="918.00" width="6.59" height="21.50" fill="#5d8d40" />
<rect x="428.34" y="918.00" width="6.59" height="21.50" fill="#86b961" />
<rect x="441.52" y="918.00" width="6.59" height="21.50" fill="#86b961" />
<rect x="448.11" y="918.00" width="6.59" height="21.50" fill="#abcf99" />
<rect x="461.29" y="918.00" width="6.59" height="21.50" fill="#c9dcc5" />
<rect x="474.47" y="918.00" width="6.59" height="21.50" fill="#c9dcc5" />
<rect x="481.06" y="918.00" width="6.59" height="21.50" fill="#c9dcc5" />
<rect x="500.83" y="918.00" width="6.59" height="21.50" fill="#86b961" />
<rect x="520.60" y="918.00" width="6.59" height="21.50" fill="#abcf99" />
<rect x="527.19" y="918.00" width="6.59" height="21.50" fill="#abcf99" />
<rect x="533.78" y="918.00" width="6.59" height="21.50" fill="#5d8d40" />
<rect x="540.37" y="918.00" width="6.59" height="21.50" fill="#5d8d40" />
<rect x="546.96" y="918.00" width="6.59" height="21.50" fill="#5d8d40" />
<rect x="553.55" y="918.00" width="6.59" height="21.50" fill="#86b961" />
<rect x="560.14" y="918.00" width="6.59" height="21.50" fill="#5d8d40" />
<rect x="566.73" y="918.00" width="6.59" height="21.50" fill="#5d8d40" />
<rect x="573.32" y="918.00" width="6.59" height="21.50" fill="#abcf99" />
<rect x="579.91" y="918.00" width="6.59" height="21.50" fill="#86b961" />
<rect x="586.50" y="918.00" width="6.59" height="21.50" fill="#5d8d40" />
<rect x="593.09" y="918.00" width="6.59" height="21.50" fill="#86b961" />
<rect x="606.27" y="918.00" width="6.59" height="21.50" fill="#c9dcc5" />
<rect x="612.86" y="918.00" width="6.59" height="21.50" fill="#abcf99" />
<rect x="619.45" y="918.00" width="6.59" height="21.50" fill="#abcf99" />
<rect x="626.04" y="918.00" width="6.59" height="21.50" fill="#c9dcc5" />
<rect x="632.63" y="918.00" width="6.59" height="21.50" fill="#abcf99" />
<rect x="639.22" y="918.00" width="6.59" height="21.50" fill="#c9dcc5" />
<rect x="645.81" y="918.00" width="6.59" height="21.50" fill="#c9dcc5" />
</g>
<rect x="59.30" y="853.50" width="593.10" height="86.00" fill="none" stroke="#999" stroke-width="0.5" />
<line x1="59.30" y1="939.50" x2="652.40" y2="939.50" stroke="#333" stroke-width="0.7" />
<line x1="54.80" y1="864.50" x2="59.30" y2="864.50" stroke="#3a3a3a" stroke-width="0.5" />
<text x="53.80" y="867.25" font-size="8.7" text-anchor="end" font-weight="normal" font-style="italic" fill="#000" >FGFR1</text>
<line x1="54.80" y1="885.50" x2="59.30" y2="885.50" stroke="#3a3a3a" stroke-width="0.5" />
<text x="53.80" y="888.75" font-size="8.7" text-anchor="end" font-weight="normal" font-style="italic" fill="#000" >FGFR2</text>
<line x1="54.80" y1="907.50" x2="59.30" y2="907.50" stroke="#3a3a3a" stroke-width="0.5" />
<text x="53.80" y="910.25" font-size="8.7" text-anchor="end" font-weight="normal" font-style="italic" fill="#000" >FGFR3</text>
<line x1="54.80" y1="928.50" x2="59.30" y2="928.50" stroke="#3a3a3a" stroke-width="0.5" />
<text x="53.80" y="931.75" font-size="8.7" text-anchor="end" font-weight="normal" font-style="italic" fill="#000" >FGFR4</text>
<line x1="62.50" y1="848.50" x2="62.50" y2="853.50" stroke="#3a3a3a" stroke-width="0.45" />
<text x="64.75" y="846.20" font-size="6.2" text-anchor="start" font-weight="normal" font-style="normal" fill="#000" transform="rotate(-90 64.75 846.20)" stroke="#000" stroke-width="0.2">Q491K</text>
<line x1="69.50" y1="848.50" x2="69.50" y2="853.50" stroke="#3a3a3a" stroke-width="0.45" />
<text x="71.34" y="846.20" font-size="6.2" text-anchor="start" font-weight="normal" font-style="normal" fill="#000" transform="rotate(-90 71.34 846.20)" stroke="#000" stroke-width="0.2">Q491R</text>
<line x1="75.50" y1="848.50" x2="75.50" y2="853.50" stroke="#3a3a3a" stroke-width="0.45" />
<text x="77.93" y="846.20" font-size="6.2" text-anchor="start" font-weight="normal" font-style="normal" fill="#000" transform="rotate(-90 77.93 846.20)" stroke="#000" stroke-width="0.2">K523E</text>
<line x1="82.50" y1="848.50" x2="82.50" y2="853.50" stroke="#3a3a3a" stroke-width="0.45" />
<text x="84.52" y="846.20" font-size="6.2" text-anchor="start" font-weight="normal" font-style="normal" fill="#000" transform="rotate(-90 84.52 846.20)" stroke="#000" stroke-width="0.2">K523T</text>
<line x1="88.50" y1="848.50" x2="88.50" y2="853.50" stroke="#3a3a3a" stroke-width="0.45" />
<text x="91.11" y="846.20" font-size="6.2" text-anchor="start" font-weight="normal" font-style="normal" fill="#000" transform="rotate(-90 91.11 846.20)" stroke="#000" stroke-width="0.2">K523N</text>
<line x1="95.50" y1="848.50" x2="95.50" y2="853.50" stroke="#3a3a3a" stroke-width="0.45" />
<text x="97.69" y="846.20" font-size="6.2" text-anchor="start" font-weight="normal" font-style="normal" fill="#000" transform="rotate(-90 97.69 846.20)" stroke="#000" stroke-width="0.2">D527V</text>
<line x1="102.50" y1="848.50" x2="102.50" y2="853.50" stroke="#3a3a3a" stroke-width="0.45" />
<text x="104.28" y="846.20" font-size="6.2" text-anchor="start" font-weight="normal" font-style="normal" fill="#000" transform="rotate(-90 104.28 846.20)" stroke="#000" stroke-width="0.2">N532V</text>
<line x1="108.50" y1="848.50" x2="108.50" y2="853.50" stroke="#3a3a3a" stroke-width="0.45" />
<text x="110.88" y="846.20" font-size="6.2" text-anchor="start" font-weight="normal" font-style="normal" fill="#000" transform="rotate(-90 110.88 846.20)" stroke="#000" stroke-width="0.2">N532K</text>
<line x1="115.50" y1="848.50" x2="115.50" y2="853.50" stroke="#3a3a3a" stroke-width="0.45" />
<text x="117.47" y="846.20" font-size="6.2" text-anchor="start" font-weight="normal" font-style="normal" fill="#000" transform="rotate(-90 117.47 846.20)" stroke="#000" stroke-width="0.2">N532I</text>
<line x1="121.50" y1="848.50" x2="121.50" y2="853.50" stroke="#3a3a3a" stroke-width="0.45" />
<text x="124.06" y="846.20" font-size="6.2" text-anchor="start" font-weight="normal" font-style="normal" fill="#000" transform="rotate(-90 124.06 846.20)" stroke="#000" stroke-width="0.2">E533K</text>
<line x1="128.50" y1="848.50" x2="128.50" y2="853.50" stroke="#3a3a3a" stroke-width="0.45" />
<text x="130.65" y="846.20" font-size="6.2" text-anchor="start" font-weight="normal" font-style="normal" fill="#000" transform="rotate(-90 130.65 846.20)" stroke="#000" stroke-width="0.2">M535L</text>
<line x1="135.50" y1="848.50" x2="135.50" y2="853.50" stroke="#3a3a3a" stroke-width="0.45" />
<text x="137.23" y="846.20" font-size="6.2" text-anchor="start" font-weight="normal" font-style="normal" fill="#000" transform="rotate(-90 137.23 846.20)" stroke="#000" stroke-width="0.2">M535V</text>
<line x1="141.50" y1="848.50" x2="141.50" y2="853.50" stroke="#3a3a3a" stroke-width="0.45" />
<text x="143.83" y="846.20" font-size="6.2" text-anchor="start" font-weight="normal" font-style="normal" fill="#000" transform="rotate(-90 143.83 846.20)" stroke="#000" stroke-width="0.2">M535I</text>
<line x1="148.50" y1="848.50" x2="148.50" y2="853.50" stroke="#3a3a3a" stroke-width="0.45" />
<text x="150.41" y="846.20" font-size="6.2" text-anchor="start" font-weight="normal" font-style="normal" fill="#000" transform="rotate(-90 150.41 846.20)" stroke="#000" stroke-width="0.2">I538F</text>
<line x1="154.50" y1="848.50" x2="154.50" y2="853.50" stroke="#3a3a3a" stroke-width="0.45" />
<text x="157.00" y="846.20" font-size="6.2" text-anchor="start" font-weight="normal" font-style="normal" fill="#000" transform="rotate(-90 157.00 846.20)" stroke="#000" stroke-width="0.2">I538L</text>
<line x1="161.50" y1="848.50" x2="161.50" y2="853.50" stroke="#3a3a3a" stroke-width="0.45" />
<text x="163.59" y="846.20" font-size="6.2" text-anchor="start" font-weight="normal" font-style="normal" fill="#000" transform="rotate(-90 163.59 846.20)" stroke="#000" stroke-width="0.2">G539R</text>
<line x1="168.50" y1="848.50" x2="168.50" y2="853.50" stroke="#3a3a3a" stroke-width="0.45" />
<text x="170.19" y="846.20" font-size="6.2" text-anchor="start" font-weight="normal" font-style="normal" fill="#000" transform="rotate(-90 170.19 846.20)" stroke="#000" stroke-width="0.2">N543Y</text>
<line x1="174.50" y1="848.50" x2="174.50" y2="853.50" stroke="#3a3a3a" stroke-width="0.45" />
<text x="176.78" y="846.20" font-size="6.2" text-anchor="start" font-weight="normal" font-style="normal" fill="#000" transform="rotate(-90 176.78 846.20)" stroke="#000" stroke-width="0.2">N543H</text>
<line x1="181.50" y1="848.50" x2="181.50" y2="853.50" stroke="#3a3a3a" stroke-width="0.45" />
<text x="183.36" y="846.20" font-size="6.2" text-anchor="start" font-weight="normal" font-style="normal" fill="#000" transform="rotate(-90 183.36 846.20)" stroke="#000" stroke-width="0.2">N543T</text>
<line x1="187.50" y1="848.50" x2="187.50" y2="853.50" stroke="#3a3a3a" stroke-width="0.45" />
<text x="189.96" y="846.20" font-size="6.2" text-anchor="start" font-weight="normal" font-style="normal" fill="#000" transform="rotate(-90 189.96 846.20)" stroke="#000" stroke-width="0.2">N543S</text>
<line x1="194.50" y1="848.50" x2="194.50" y2="853.50" stroke="#3a3a3a" stroke-width="0.45" />
<text x="196.54" y="846.20" font-size="6.2" text-anchor="start" font-weight="normal" font-style="normal" fill="#000" transform="rotate(-90 196.54 846.20)" stroke="#000" stroke-width="0.2">I544V</text>
<line x1="200.50" y1="848.50" x2="200.50" y2="853.50" stroke="#3a3a3a" stroke-width="0.45" />
<text x="203.14" y="846.20" font-size="6.2" text-anchor="start" font-weight="normal" font-style="normal" fill="#000" transform="rotate(-90 203.14 846.20)" stroke="#000" stroke-width="0.2">I545L</text>
<line x1="207.50" y1="848.50" x2="207.50" y2="853.50" stroke="#3a3a3a" stroke-width="0.45" />
<text x="209.72" y="846.20" font-size="6.2" text-anchor="start" font-weight="normal" font-style="normal" fill="#000" transform="rotate(-90 209.72 846.20)" stroke="#000" stroke-width="0.2">I545T</text>
<line x1="214.50" y1="848.50" x2="214.50" y2="853.50" stroke="#3a3a3a" stroke-width="0.45" />
<text x="216.32" y="846.20" font-size="6.2" text-anchor="start" font-weight="normal" font-style="normal" fill="#000" transform="rotate(-90 216.32 846.20)" stroke="#000" stroke-width="0.2">N546Y</text>
<line x1="220.50" y1="848.50" x2="220.50" y2="853.50" stroke="#3a3a3a" stroke-width="0.45" />
<text x="222.91" y="846.20" font-size="6.2" text-anchor="start" font-weight="normal" font-style="normal" fill="#000" transform="rotate(-90 222.91 846.20)" stroke="#000" stroke-width="0.2">N546H</text>
<line x1="227.50" y1="848.50" x2="227.50" y2="853.50" stroke="#3a3a3a" stroke-width="0.45" />
<text x="229.49" y="846.20" font-size="6.2" text-anchor="start" font-weight="normal" font-style="normal" fill="#000" transform="rotate(-90 229.49 846.20)" stroke="#000" stroke-width="0.2">N546D</text>
<line x1="233.50" y1="848.50" x2="233.50" y2="853.50" stroke="#3a3a3a" stroke-width="0.45" />
<text x="236.09" y="846.20" font-size="6.2" text-anchor="start" font-weight="normal" font-style="normal" fill="#000" transform="rotate(-90 236.09 846.20)" stroke="#000" stroke-width="0.2">N546I</text>
<line x1="240.50" y1="848.50" x2="240.50" y2="853.50" stroke="#3a3a3a" stroke-width="0.45" />
<text x="242.67" y="846.20" font-size="6.2" text-anchor="start" font-weight="normal" font-style="normal" fill="#000" transform="rotate(-90 242.67 846.20)" stroke="#000" stroke-width="0.2">N546T</text>
<line x1="247.50" y1="848.50" x2="247.50" y2="853.50" stroke="#3a3a3a" stroke-width="0.45" />
<text x="249.27" y="846.20" font-size="6.2" text-anchor="start" font-weight="normal" font-style="normal" fill="#000" transform="rotate(-90 249.27 846.20)" stroke="#000" stroke-width="0.2">N546S</text>
<line x1="253.50" y1="848.50" x2="253.50" y2="853.50" stroke="#3a3a3a" stroke-width="0.45" />
<text x="255.85" y="846.20" font-size="6.2" text-anchor="start" font-weight="normal" font-style="normal" fill="#000" transform="rotate(-90 255.85 846.20)" stroke="#000" stroke-width="0.2">N546K</text>
<line x1="260.50" y1="848.50" x2="260.50" y2="853.50" stroke="#3a3a3a" stroke-width="0.45" />
<text x="262.44" y="846.20" font-size="6.2" text-anchor="start" font-weight="normal" font-style="normal" fill="#000" transform="rotate(-90 262.44 846.20)" stroke="#000" stroke-width="0.2">L547P</text>
<line x1="266.50" y1="848.50" x2="266.50" y2="853.50" stroke="#3a3a3a" stroke-width="0.45" />
<text x="269.03" y="846.20" font-size="6.2" text-anchor="start" font-weight="normal" font-style="normal" fill="#000" transform="rotate(-90 269.03 846.20)" stroke="#000" stroke-width="0.2">L548R</text>
<line x1="273.50" y1="848.50" x2="273.50" y2="853.50" stroke="#3a3a3a" stroke-width="0.45" />
<text x="275.62" y="846.20" font-size="6.2" text-anchor="start" font-weight="normal" font-style="normal" fill="#000" transform="rotate(-90 275.62 846.20)" stroke="#000" stroke-width="0.2">V559L</text>
<line x1="280.50" y1="848.50" x2="280.50" y2="853.50" stroke="#3a3a3a" stroke-width="0.45" />
<text x="282.21" y="846.20" font-size="6.2" text-anchor="start" font-weight="normal" font-style="normal" fill="#000" transform="rotate(-90 282.21 846.20)" stroke="#000" stroke-width="0.2">V561L</text>
<line x1="286.50" y1="848.50" x2="286.50" y2="853.50" stroke="#3a3a3a" stroke-width="0.45" />
<text x="288.80" y="846.20" font-size="6.2" text-anchor="start" font-weight="normal" font-style="normal" fill="#000" transform="rotate(-90 288.80 846.20)" stroke="#000" stroke-width="0.2">V561A</text>
<line x1="293.50" y1="848.50" x2="293.50" y2="853.50" stroke="#3a3a3a" stroke-width="0.45" />
<text x="295.39" y="846.20" font-size="6.2" text-anchor="start" font-weight="normal" font-style="normal" fill="#000" transform="rotate(-90 295.39 846.20)" stroke="#000" stroke-width="0.2">V561G</text>
<line x1="299.50" y1="848.50" x2="299.50" y2="853.50" stroke="#3a3a3a" stroke-width="0.45" />
<text x="301.98" y="846.20" font-size="6.2" text-anchor="start" font-weight="normal" font-style="normal" fill="#000" transform="rotate(-90 301.98 846.20)" stroke="#000" stroke-width="0.2">E562K</text>
<line x1="306.50" y1="848.50" x2="306.50" y2="853.50" stroke="#3a3a3a" stroke-width="0.45" />
<text x="308.57" y="846.20" font-size="6.2" text-anchor="start" font-weight="normal" font-style="normal" fill="#000" transform="rotate(-90 308.57 846.20)" stroke="#000" stroke-width="0.2">E562Q</text>
<line x1="313.50" y1="848.50" x2="313.50" y2="853.50" stroke="#3a3a3a" stroke-width="0.45" />
<text x="315.16" y="846.20" font-size="6.2" text-anchor="start" font-weight="normal" font-style="normal" fill="#000" transform="rotate(-90 315.16 846.20)" stroke="#000" stroke-width="0.2">E562V</text>
<line x1="319.50" y1="848.50" x2="319.50" y2="853.50" stroke="#3a3a3a" stroke-width="0.45" />
<text x="321.75" y="846.20" font-size="6.2" text-anchor="start" font-weight="normal" font-style="normal" fill="#000" transform="rotate(-90 321.75 846.20)" stroke="#000" stroke-width="0.2">E562A</text>
<line x1="326.50" y1="848.50" x2="326.50" y2="853.50" stroke="#3a3a3a" stroke-width="0.45" />
<text x="328.34" y="846.20" font-size="6.2" text-anchor="start" font-weight="normal" font-style="normal" fill="#000" transform="rotate(-90 328.34 846.20)" stroke="#000" stroke-width="0.2">E562G</text>
<line x1="332.50" y1="848.50" x2="332.50" y2="853.50" stroke="#3a3a3a" stroke-width="0.45" />
<text x="334.94" y="846.20" font-size="6.2" text-anchor="start" font-weight="normal" font-style="normal" fill="#000" transform="rotate(-90 334.94 846.20)" stroke="#000" stroke-width="0.2">A564T</text>
<line x1="339.50" y1="848.50" x2="339.50" y2="853.50" stroke="#3a3a3a" stroke-width="0.45" />
<text x="341.52" y="846.20" font-size="6.2" text-anchor="start" font-weight="normal" font-style="normal" fill="#000" transform="rotate(-90 341.52 846.20)" stroke="#000" stroke-width="0.2">A564V</text>
<line x1="345.50" y1="848.50" x2="345.50" y2="853.50" stroke="#3a3a3a" stroke-width="0.45" />
<text x="348.12" y="846.20" font-size="6.2" text-anchor="start" font-weight="normal" font-style="normal" fill="#000" transform="rotate(-90 348.12 846.20)" stroke="#000" stroke-width="0.2">K566N</text>
<line x1="352.50" y1="848.50" x2="352.50" y2="853.50" stroke="#3a3a3a" stroke-width="0.45" />
<text x="354.70" y="846.20" font-size="6.2" text-anchor="start" font-weight="normal" font-style="normal" fill="#000" transform="rotate(-90 354.70 846.20)" stroke="#000" stroke-width="0.2">G567R</text>
<line x1="359.50" y1="848.50" x2="359.50" y2="853.50" stroke="#3a3a3a" stroke-width="0.45" />
<text x="361.29" y="846.20" font-size="6.2" text-anchor="start" font-weight="normal" font-style="normal" fill="#000" transform="rotate(-90 361.29 846.20)" stroke="#000" stroke-width="0.2">N568D</text>
<line x1="365.50" y1="848.50" x2="365.50" y2="853.50" stroke="#3a3a3a" stroke-width="0.45" />
<text x="367.88" y="846.20" font-size="6.2" text-anchor="start" font-weight="normal" font-style="normal" fill="#000" transform="rotate(-90 367.88 846.20)" stroke="#000" stroke-width="0.2">G610A</text>
<line x1="372.50" y1="848.50" x2="372.50" y2="853.50" stroke="#3a3a3a" stroke-width="0.45" />
<text x="374.47" y="846.20" font-size="6.2" text-anchor="start" font-weight="normal" font-style="normal" fill="#000" transform="rotate(-90 374.47 846.20)" stroke="#000" stroke-width="0.2">Y613N</text>
<line x1="378.50" y1="848.50" x2="378.50" y2="853.50" stroke="#3a3a3a" stroke-width="0.45" />
<text x="381.06" y="846.20" font-size="6.2" text-anchor="start" font-weight="normal" font-style="normal" fill="#000" transform="rotate(-90 381.06 846.20)" stroke="#000" stroke-width="0.2">Y613D</text>
<line x1="385.50" y1="848.50" x2="385.50" y2="853.50" stroke="#3a3a3a" stroke-width="0.45" />
<text x="387.65" y="846.20" font-size="6.2" text-anchor="start" font-weight="normal" font-style="normal" fill="#000" transform="rotate(-90 387.65 846.20)" stroke="#000" stroke-width="0.2">Y613S</text>
<line x1="392.50" y1="848.50" x2="392.50" y2="853.50" stroke="#3a3a3a" stroke-width="0.45" />
<text x="394.25" y="846.20" font-size="6.2" text-anchor="start" font-weight="normal" font-style="normal" fill="#000" transform="rotate(-90 394.25 846.20)" stroke="#000" stroke-width="0.2">L614M</text>
<line x1="398.50" y1="848.50" x2="398.50" y2="853.50" stroke="#3a3a3a" stroke-width="0.45" />
<text x="400.83" y="846.20" font-size="6.2" text-anchor="start" font-weight="normal" font-style="normal" fill="#000" transform="rotate(-90 400.83 846.20)" stroke="#000" stroke-width="0.2">L614V</text>
<line x1="405.50" y1="848.50" x2="405.50" y2="853.50" stroke="#3a3a3a" stroke-width="0.45" />
<text x="407.42" y="846.20" font-size="6.2" text-anchor="start" font-weight="normal" font-style="normal" fill="#000" transform="rotate(-90 407.42 846.20)" stroke="#000" stroke-width="0.2">S616A</text>
<line x1="411.50" y1="848.50" x2="411.50" y2="853.50" stroke="#3a3a3a" stroke-width="0.45" />
<text x="414.01" y="846.20" font-size="6.2" text-anchor="start" font-weight="normal" font-style="normal" fill="#000" transform="rotate(-90 414.01 846.20)" stroke="#000" stroke-width="0.2">S616F</text>
<line x1="418.50" y1="848.50" x2="418.50" y2="853.50" stroke="#3a3a3a" stroke-width="0.45" />
<text x="420.60" y="846.20" font-size="6.2" text-anchor="start" font-weight="normal" font-style="normal" fill="#000" transform="rotate(-90 420.60 846.20)" stroke="#000" stroke-width="0.2">C619Y</text>
<line x1="425.50" y1="848.50" x2="425.50" y2="853.50" stroke="#3a3a3a" stroke-width="0.45" />
<text x="427.19" y="846.20" font-size="6.2" text-anchor="start" font-weight="normal" font-style="normal" fill="#000" transform="rotate(-90 427.19 846.20)" stroke="#000" stroke-width="0.2">C619F</text>
<line x1="431.50" y1="848.50" x2="431.50" y2="853.50" stroke="#3a3a3a" stroke-width="0.45" />
<text x="433.78" y="846.20" font-size="6.2" text-anchor="start" font-weight="normal" font-style="normal" fill="#000" transform="rotate(-90 433.78 846.20)" stroke="#000" stroke-width="0.2">C619W</text>
<line x1="438.50" y1="848.50" x2="438.50" y2="853.50" stroke="#3a3a3a" stroke-width="0.45" />
<text x="440.38" y="846.20" font-size="6.2" text-anchor="start" font-weight="normal" font-style="normal" fill="#000" transform="rotate(-90 440.38 846.20)" stroke="#000" stroke-width="0.2">L630M</text>
<line x1="444.50" y1="848.50" x2="444.50" y2="853.50" stroke="#3a3a3a" stroke-width="0.45" />
<text x="446.96" y="846.20" font-size="6.2" text-anchor="start" font-weight="normal" font-style="normal" fill="#000" transform="rotate(-90 446.96 846.20)" stroke="#000" stroke-width="0.2">L630V</text>
<line x1="451.50" y1="848.50" x2="451.50" y2="853.50" stroke="#3a3a3a" stroke-width="0.45" />
<text x="453.56" y="846.20" font-size="6.2" text-anchor="start" font-weight="normal" font-style="normal" fill="#000" transform="rotate(-90 453.56 846.20)" stroke="#000" stroke-width="0.2">T632S</text>
<line x1="457.50" y1="848.50" x2="457.50" y2="853.50" stroke="#3a3a3a" stroke-width="0.45" />
<text x="460.14" y="846.20" font-size="6.2" text-anchor="start" font-weight="normal" font-style="normal" fill="#000" transform="rotate(-90 460.14 846.20)" stroke="#000" stroke-width="0.2">T632P</text>
<line x1="464.50" y1="848.50" x2="464.50" y2="853.50" stroke="#3a3a3a" stroke-width="0.45" />
<text x="466.73" y="846.20" font-size="6.2" text-anchor="start" font-weight="normal" font-style="normal" fill="#000" transform="rotate(-90 466.73 846.20)" stroke="#000" stroke-width="0.2">T632A</text>
<line x1="471.50" y1="848.50" x2="471.50" y2="853.50" stroke="#3a3a3a" stroke-width="0.45" />
<text x="473.32" y="846.20" font-size="6.2" text-anchor="start" font-weight="normal" font-style="normal" fill="#000" transform="rotate(-90 473.32 846.20)" stroke="#000" stroke-width="0.2">T632I</text>
<line x1="477.50" y1="848.50" x2="477.50" y2="853.50" stroke="#3a3a3a" stroke-width="0.45" />
<text x="479.91" y="846.20" font-size="6.2" text-anchor="start" font-weight="normal" font-style="normal" fill="#000" transform="rotate(-90 479.91 846.20)" stroke="#000" stroke-width="0.2">E633K</text>
<line x1="484.50" y1="848.50" x2="484.50" y2="853.50" stroke="#3a3a3a" stroke-width="0.45" />
<text x="486.50" y="846.20" font-size="6.2" text-anchor="start" font-weight="normal" font-style="normal" fill="#000" transform="rotate(-90 486.50 846.20)" stroke="#000" stroke-width="0.2">M637V</text>
<line x1="490.50" y1="848.50" x2="490.50" y2="853.50" stroke="#3a3a3a" stroke-width="0.45" />
<text x="493.09" y="846.20" font-size="6.2" text-anchor="start" font-weight="normal" font-style="normal" fill="#000" transform="rotate(-90 493.09 846.20)" stroke="#000" stroke-width="0.2">K638Q</text>
<line x1="497.50" y1="848.50" x2="497.50" y2="853.50" stroke="#3a3a3a" stroke-width="0.45" />
<text x="499.69" y="846.20" font-size="6.2" text-anchor="start" font-weight="normal" font-style="normal" fill="#000" transform="rotate(-90 499.69 846.20)" stroke="#000" stroke-width="0.2">K638T</text>
<line x1="504.50" y1="848.50" x2="504.50" y2="853.50" stroke="#3a3a3a" stroke-width="0.45" />
<text x="506.27" y="846.20" font-size="6.2" text-anchor="start" font-weight="normal" font-style="normal" fill="#000" transform="rotate(-90 506.27 846.20)" stroke="#000" stroke-width="0.2">K638R</text>
<line x1="510.50" y1="848.50" x2="510.50" y2="853.50" stroke="#3a3a3a" stroke-width="0.45" />
<text x="512.87" y="846.20" font-size="6.2" text-anchor="start" font-weight="normal" font-style="normal" fill="#000" transform="rotate(-90 512.87 846.20)" stroke="#000" stroke-width="0.2">K638N</text>
<line x1="517.50" y1="848.50" x2="517.50" y2="853.50" stroke="#3a3a3a" stroke-width="0.45" />
<text x="519.45" y="846.20" font-size="6.2" text-anchor="start" font-weight="normal" font-style="normal" fill="#000" transform="rotate(-90 519.45 846.20)" stroke="#000" stroke-width="0.2">A640S</text>
<line x1="523.50" y1="848.50" x2="523.50" y2="853.50" stroke="#3a3a3a" stroke-width="0.45" />
<text x="526.04" y="846.20" font-size="6.2" text-anchor="start" font-weight="normal" font-style="normal" fill="#000" transform="rotate(-90 526.04 846.20)" stroke="#000" stroke-width="0.2">A640G</text>
<line x1="530.50" y1="848.50" x2="530.50" y2="853.50" stroke="#3a3a3a" stroke-width="0.45" />
<text x="532.63" y="846.20" font-size="6.2" text-anchor="start" font-weight="normal" font-style="normal" fill="#000" transform="rotate(-90 532.63 846.20)" stroke="#000" stroke-width="0.2">K655R</text>
<line x1="537.50" y1="848.50" x2="537.50" y2="853.50" stroke="#3a3a3a" stroke-width="0.45" />
<text x="539.22" y="846.20" font-size="6.2" text-anchor="start" font-weight="normal" font-style="normal" fill="#000" transform="rotate(-90 539.22 846.20)" stroke="#000" stroke-width="0.2">K656Q</text>
<line x1="543.50" y1="848.50" x2="543.50" y2="853.50" stroke="#3a3a3a" stroke-width="0.45" />
<text x="545.81" y="846.20" font-size="6.2" text-anchor="start" font-weight="normal" font-style="normal" fill="#000" transform="rotate(-90 545.81 846.20)" stroke="#000" stroke-width="0.2">K656E</text>
<line x1="550.50" y1="848.50" x2="550.50" y2="853.50" stroke="#3a3a3a" stroke-width="0.45" />
<text x="552.40" y="846.20" font-size="6.2" text-anchor="start" font-weight="normal" font-style="normal" fill="#000" transform="rotate(-90 552.40 846.20)" stroke="#000" stroke-width="0.2">K656T</text>
<line x1="556.50" y1="848.50" x2="556.50" y2="853.50" stroke="#3a3a3a" stroke-width="0.45" />
<text x="559.00" y="846.20" font-size="6.2" text-anchor="start" font-weight="normal" font-style="normal" fill="#000" transform="rotate(-90 559.00 846.20)" stroke="#000" stroke-width="0.2">K656N</text>
<line x1="563.50" y1="848.50" x2="563.50" y2="853.50" stroke="#3a3a3a" stroke-width="0.45" />
<text x="565.58" y="846.20" font-size="6.2" text-anchor="start" font-weight="normal" font-style="normal" fill="#000" transform="rotate(-90 565.58 846.20)" stroke="#000" stroke-width="0.2">M667T</text>
<line x1="570.50" y1="848.50" x2="570.50" y2="853.50" stroke="#3a3a3a" stroke-width="0.45" />
<text x="572.17" y="846.20" font-size="6.2" text-anchor="start" font-weight="normal" font-style="normal" fill="#000" transform="rotate(-90 572.17 846.20)" stroke="#000" stroke-width="0.2">A668P</text>
<line x1="576.50" y1="848.50" x2="576.50" y2="853.50" stroke="#3a3a3a" stroke-width="0.45" />
<text x="578.76" y="846.20" font-size="6.2" text-anchor="start" font-weight="normal" font-style="normal" fill="#000" transform="rotate(-90 578.76 846.20)" stroke="#000" stroke-width="0.2">P669L</text>
<line x1="583.50" y1="848.50" x2="583.50" y2="853.50" stroke="#3a3a3a" stroke-width="0.45" />
<text x="585.35" y="846.20" font-size="6.2" text-anchor="start" font-weight="normal" font-style="normal" fill="#000" transform="rotate(-90 585.35 846.20)" stroke="#000" stroke-width="0.2">A671S</text>
<line x1="589.50" y1="848.50" x2="589.50" y2="853.50" stroke="#3a3a3a" stroke-width="0.45" />
<text x="591.94" y="846.20" font-size="6.2" text-anchor="start" font-weight="normal" font-style="normal" fill="#000" transform="rotate(-90 591.94 846.20)" stroke="#000" stroke-width="0.2">R675G</text>
<line x1="596.50" y1="848.50" x2="596.50" y2="853.50" stroke="#3a3a3a" stroke-width="0.45" />
<text x="598.53" y="846.20" font-size="6.2" text-anchor="start" font-weight="normal" font-style="normal" fill="#000" transform="rotate(-90 598.53 846.20)" stroke="#000" stroke-width="0.2">H679Y</text>
<line x1="602.50" y1="848.50" x2="602.50" y2="853.50" stroke="#3a3a3a" stroke-width="0.45" />
<text x="605.12" y="846.20" font-size="6.2" text-anchor="start" font-weight="normal" font-style="normal" fill="#000" transform="rotate(-90 605.12 846.20)" stroke="#000" stroke-width="0.2">H679L</text>
<line x1="609.50" y1="848.50" x2="609.50" y2="853.50" stroke="#3a3a3a" stroke-width="0.45" />
<text x="611.71" y="846.20" font-size="6.2" text-anchor="start" font-weight="normal" font-style="normal" fill="#000" transform="rotate(-90 611.71 846.20)" stroke="#000" stroke-width="0.2">Q680K</text>
<line x1="616.50" y1="848.50" x2="616.50" y2="853.50" stroke="#3a3a3a" stroke-width="0.45" />
<text x="618.30" y="846.20" font-size="6.2" text-anchor="start" font-weight="normal" font-style="normal" fill="#000" transform="rotate(-90 618.30 846.20)" stroke="#000" stroke-width="0.2">T685S</text>
<line x1="622.50" y1="848.50" x2="622.50" y2="853.50" stroke="#3a3a3a" stroke-width="0.45" />
<text x="624.89" y="846.20" font-size="6.2" text-anchor="start" font-weight="normal" font-style="normal" fill="#000" transform="rotate(-90 624.89 846.20)" stroke="#000" stroke-width="0.2">E708K</text>
<line x1="629.50" y1="848.50" x2="629.50" y2="853.50" stroke="#3a3a3a" stroke-width="0.45" />
<text x="631.48" y="846.20" font-size="6.2" text-anchor="start" font-weight="normal" font-style="normal" fill="#000" transform="rotate(-90 631.48 846.20)" stroke="#000" stroke-width="0.2">E708D</text>
<line x1="635.50" y1="848.50" x2="635.50" y2="853.50" stroke="#3a3a3a" stroke-width="0.45" />
<text x="638.07" y="846.20" font-size="6.2" text-anchor="start" font-weight="normal" font-style="normal" fill="#000" transform="rotate(-90 638.07 846.20)" stroke="#000" stroke-width="0.2">E715K</text>
<line x1="642.50" y1="848.50" x2="642.50" y2="853.50" stroke="#3a3a3a" stroke-width="0.45" />
<text x="644.66" y="846.20" font-size="6.2" text-anchor="start" font-weight="normal" font-style="normal" fill="#000" transform="rotate(-90 644.66 846.20)" stroke="#000" stroke-width="0.2">Q743K</text>
<line x1="649.50" y1="848.50" x2="649.50" y2="853.50" stroke="#3a3a3a" stroke-width="0.45" />
<text x="651.25" y="846.20" font-size="6.2" text-anchor="start" font-weight="normal" font-style="normal" fill="#000" transform="rotate(-90 651.25 846.20)" stroke="#000" stroke-width="0.2">F747S</text>
<text x="670.50" y="896.50" font-size="14.7" text-anchor="middle" font-weight="bold" font-style="normal" fill="#6a9a48" transform="rotate(-90 670.50 896.50)" >PemR</text>
<text x="9.20" y="956.50" font-size="13" text-anchor="start" font-weight="bold" font-style="normal" fill="#000" >j</text>
<g shape-rendering="crispEdges">
<rect x="59.40" y="977.40" width="10.82" height="21.65" fill="#b4c7da" />
<rect x="70.22" y="977.40" width="10.82" height="21.65" fill="#9ab5d6" />
<rect x="81.04" y="977.40" width="10.82" height="21.65" fill="#b4c7da" />
<rect x="91.86" y="977.40" width="10.82" height="21.65" fill="#b4c7da" />
<rect x="102.68" y="977.40" width="10.82" height="21.65" fill="#b4c7da" />
<rect x="113.50" y="977.40" width="10.82" height="21.65" fill="#9ab5d6" />
<rect x="124.32" y="977.40" width="10.82" height="21.65" fill="#b4c7da" />
<rect x="135.14" y="977.40" width="10.82" height="21.65" fill="#b4c7da" />
<rect x="145.96" y="977.40" width="10.82" height="21.65" fill="#b4c7da" />
<rect x="156.78" y="977.40" width="10.82" height="21.65" fill="#b4c7da" />
<rect x="167.60" y="977.40" width="10.82" height="21.65" fill="#b4c7da" />
<rect x="178.42" y="977.40" width="10.82" height="21.65" fill="#b4c7da" />
<rect x="189.24" y="977.40" width="10.82" height="21.65" fill="#9ab5d6" />
<rect x="200.06" y="977.40" width="10.82" height="21.65" fill="#9ab5d6" />
<rect x="210.88" y="977.40" width="10.82" height="21.65" fill="#b4c7da" />
<rect x="232.52" y="977.40" width="10.82" height="21.65" fill="#b4c7da" />
<rect x="243.34" y="977.40" width="10.82" height="21.65" fill="#b4c7da" />
<rect x="254.16" y="977.40" width="10.82" height="21.65" fill="#b4c7da" />
<rect x="264.98" y="977.40" width="10.82" height="21.65" fill="#b4c7da" />
<rect x="275.80" y="977.40" width="10.82" height="21.65" fill="#9ab5d6" />
<rect x="286.62" y="977.40" width="10.82" height="21.65" fill="#9ab5d6" />
<rect x="297.44" y="977.40" width="10.82" height="21.65" fill="#b4c7da" />
<rect x="308.26" y="977.40" width="10.82" height="21.65" fill="#b4c7da" />
<rect x="319.08" y="977.40" width="10.82" height="21.65" fill="#b4c7da" />
<rect x="329.90" y="977.40" width="10.82" height="21.65" fill="#9ab5d6" />
<rect x="340.72" y="977.40" width="10.82" height="21.65" fill="#9ab5d6" />
<rect x="351.54" y="977.40" width="10.82" height="21.65" fill="#5a8bbe" />
<rect x="362.36" y="977.40" width="10.82" height="21.65" fill="#9ab5d6" />
<rect x="373.18" y="977.40" width="10.82" height="21.65" fill="#5a8bbe" />
<rect x="384.00" y="977.40" width="10.82" height="21.65" fill="#b4c7da" />
<rect x="394.82" y="977.40" width="10.82" height="21.65" fill="#b4c7da" />
<rect x="405.64" y="977.40" width="10.82" height="21.65" fill="#446194" />
<rect x="416.46" y="977.40" width="10.82" height="21.65" fill="#5a8bbe" />
<rect x="427.28" y="977.40" width="10.82" height="21.65" fill="#b4c7da" />
<rect x="438.10" y="977.40" width="10.82" height="21.65" fill="#9ab5d6" />
<rect x="448.92" y="977.40" width="10.82" height="21.65" fill="#5a8bbe" />
<rect x="459.74" y="977.40" width="10.82" height="21.65" fill="#9ab5d6" />
<rect x="470.56" y="977.40" width="10.82" height="21.65" fill="#b4c7da" />
<rect x="481.38" y="977.40" width="10.82" height="21.65" fill="#446194" />
<rect x="492.20" y="977.40" width="10.82" height="21.65" fill="#b4c7da" />
<rect x="503.02" y="977.40" width="10.82" height="21.65" fill="#9ab5d6" />
<rect x="513.84" y="977.40" width="10.82" height="21.65" fill="#9ab5d6" />
<rect x="524.66" y="977.40" width="10.82" height="21.65" fill="#b4c7da" />
<rect x="535.48" y="977.40" width="10.82" height="21.65" fill="#9ab5d6" />
<rect x="546.30" y="977.40" width="10.82" height="21.65" fill="#9ab5d6" />
<rect x="557.12" y="977.40" width="10.82" height="21.65" fill="#446194" />
<rect x="567.94" y="977.40" width="10.82" height="21.65" fill="#b4c7da" />
<rect x="578.76" y="977.40" width="10.82" height="21.65" fill="#446194" />
<rect x="589.58" y="977.40" width="10.82" height="21.65" fill="#9ab5d6" />
<rect x="611.22" y="977.40" width="10.82" height="21.65" fill="#9ab5d6" />
<rect x="622.04" y="977.40" width="10.82" height="21.65" fill="#b4c7da" />
<rect x="632.86" y="977.40" width="10.82" height="21.65" fill="#b4c7da" />
<rect x="70.22" y="999.05" width="10.82" height="21.65" fill="#b4c7da" />
<rect x="91.86" y="999.05" width="10.82" height="21.65" fill="#5a8bbe" />
<rect x="102.68" y="999.05" width="10.82" height="21.65" fill="#5a8bbe" />
<rect x="113.50" y="999.05" width="10.82" height="21.65" fill="#446194" />
<rect x="124.32" y="999.05" width="10.82" height="21.65" fill="#9ab5d6" />
<rect x="135.14" y="999.05" width="10.82" height="21.65" fill="#9ab5d6" />
<rect x="145.96" y="999.05" width="10.82" height="21.65" fill="#9ab5d6" />
<rect x="156.78" y="999.05" width="10.82" height="21.65" fill="#9ab5d6" />
<rect x="167.60" y="999.05" width="10.82" height="21.65" fill="#b4c7da" />
<rect x="178.42" y="999.05" width="10.82" height="21.65" fill="#9ab5d6" />
<rect x="189.24" y="999.05" width="10.82" height="21.65" fill="#b4c7da" />
<rect x="200.06" y="999.05" width="10.82" height="21.65" fill="#9ab5d6" />
<rect x="210.88" y="999.05" width="10.82" height="21.65" fill="#b4c7da" />
<rect x="221.70" y="999.05" width="10.82" height="21.65" fill="#b4c7da" />
<rect x="264.98" y="999.05" width="10.82" height="21.65" fill="#b4c7da" />
<rect x="275.80" y="999.05" width="10.82" height="21.65" fill="#b4c7da" />
<rect x="286.62" y="999.05" width="10.82" height="21.65" fill="#9ab5d6" />
<rect x="297.44" y="999.05" width="10.82" height="21.65" fill="#b4c7da" />
<rect x="308.26" y="999.05" width="10.82" height="21.65" fill="#b4c7da" />
<rect x="329.90" y="999.05" width="10.82" height="21.65" fill="#446194" />
<rect x="340.72" y="999.05" width="10.82" height="21.65" fill="#b4c7da" />
<rect x="351.54" y="999.05" width="10.82" height="21.65" fill="#446194" />
<rect x="362.36" y="999.05" width="10.82" height="21.65" fill="#9ab5d6" />
<rect x="373.18" y="999.05" width="10.82" height="21.65" fill="#9ab5d6" />
<rect x="394.82" y="999.05" width="10.82" height="21.65" fill="#b4c7da" />
<rect x="405.64" y="999.05" width="10.82" height="21.65" fill="#9ab5d6" />
<rect x="438.10" y="999.05" width="10.82" height="21.65" fill="#b4c7da" />
<rect x="448.92" y="999.05" width="10.82" height="21.65" fill="#9ab5d6" />
<rect x="470.56" y="999.05" width="10.82" height="21.65" fill="#b4c7da" />
<rect x="481.38" y="999.05" width="10.82" height="21.65" fill="#446194" />
<rect x="503.02" y="999.05" width="10.82" height="21.65" fill="#b4c7da" />
<rect x="513.84" y="999.05" width="10.82" height="21.65" fill="#b4c7da" />
<rect x="535.48" y="999.05" width="10.82" height="21.65" fill="#b4c7da" />
<rect x="546.30" y="999.05" width="10.82" height="21.65" fill="#9ab5d6" />
<rect x="557.12" y="999.05" width="10.82" height="21.65" fill="#5a8bbe" />
<rect x="567.94" y="999.05" width="10.82" height="21.65" fill="#b4c7da" />
<rect x="578.76" y="999.05" width="10.82" height="21.65" fill="#9ab5d6" />
<rect x="589.58" y="999.05" width="10.82" height="21.65" fill="#b4c7da" />
<rect x="600.40" y="999.05" width="10.82" height="21.65" fill="#b4c7da" />
<rect x="611.22" y="999.05" width="10.82" height="21.65" fill="#b4c7da" />
<rect x="622.04" y="999.05" width="10.82" height="21.65" fill="#b4c7da" />
<rect x="643.68" y="999.05" width="10.82" height="21.65" fill="#b4c7da" />
<rect x="59.40" y="1020.70" width="10.82" height="21.65" fill="#9ab5d6" />
<rect x="70.22" y="1020.70" width="10.82" height="21.65" fill="#9ab5d6" />
<rect x="81.04" y="1020.70" width="10.82" height="21.65" fill="#b4c7da" />
<rect x="91.86" y="1020.70" width="10.82" height="21.65" fill="#b4c7da" />
<rect x="102.68" y="1020.70" width="10.82" height="21.65" fill="#b4c7da" />
<rect x="113.50" y="1020.70" width="10.82" height="21.65" fill="#5a8bbe" />
<rect x="124.32" y="1020.70" width="10.82" height="21.65" fill="#b4c7da" />
<rect x="145.96" y="1020.70" width="10.82" height="21.65" fill="#5a8bbe" />
<rect x="178.42" y="1020.70" width="10.82" height="21.65" fill="#5a8bbe" />
<rect x="189.24" y="1020.70" width="10.82" height="21.65" fill="#5a8bbe" />
<rect x="200.06" y="1020.70" width="10.82" height="21.65" fill="#5a8bbe" />
<rect x="210.88" y="1020.70" width="10.82" height="21.65" fill="#9ab5d6" />
<rect x="221.70" y="1020.70" width="10.82" height="21.65" fill="#b4c7da" />
<rect x="232.52" y="1020.70" width="10.82" height="21.65" fill="#b4c7da" />
<rect x="243.34" y="1020.70" width="10.82" height="21.65" fill="#b4c7da" />
<rect x="254.16" y="1020.70" width="10.82" height="21.65" fill="#b4c7da" />
<rect x="275.80" y="1020.70" width="10.82" height="21.65" fill="#5a8bbe" />
<rect x="286.62" y="1020.70" width="10.82" height="21.65" fill="#b4c7da" />
<rect x="308.26" y="1020.70" width="10.82" height="21.65" fill="#9ab5d6" />
<rect x="319.08" y="1020.70" width="10.82" height="21.65" fill="#9ab5d6" />
<rect x="329.90" y="1020.70" width="10.82" height="21.65" fill="#446194" />
<rect x="340.72" y="1020.70" width="10.82" height="21.65" fill="#9ab5d6" />
<rect x="351.54" y="1020.70" width="10.82" height="21.65" fill="#446194" />
<rect x="405.64" y="1020.70" width="10.82" height="21.65" fill="#b4c7da" />
<rect x="438.10" y="1020.70" width="10.82" height="21.65" fill="#9ab5d6" />
<rect x="448.92" y="1020.70" width="10.82" height="21.65" fill="#9ab5d6" />
<rect x="481.38" y="1020.70" width="10.82" height="21.65" fill="#446194" />
<rect x="492.20" y="1020.70" width="10.82" height="21.65" fill="#b4c7da" />
<rect x="524.66" y="1020.70" width="10.82" height="21.65" fill="#b4c7da" />
<rect x="578.76" y="1020.70" width="10.82" height="21.65" fill="#5a8bbe" />
<rect x="589.58" y="1020.70" width="10.82" height="21.65" fill="#9ab5d6" />
<rect x="600.40" y="1020.70" width="10.82" height="21.65" fill="#9ab5d6" />
<rect x="611.22" y="1020.70" width="10.82" height="21.65" fill="#5a8bbe" />
<rect x="622.04" y="1020.70" width="10.82" height="21.65" fill="#b4c7da" />
<rect x="632.86" y="1020.70" width="10.82" height="21.65" fill="#b4c7da" />
<rect x="59.40" y="1042.35" width="10.82" height="21.65" fill="#9ab5d6" />
<rect x="70.22" y="1042.35" width="10.82" height="21.65" fill="#b4c7da" />
<rect x="81.04" y="1042.35" width="10.82" height="21.65" fill="#9ab5d6" />
<rect x="178.42" y="1042.35" width="10.82" height="21.65" fill="#b4c7da" />
<rect x="189.24" y="1042.35" width="10.82" height="21.65" fill="#446194" />
<rect x="200.06" y="1042.35" width="10.82" height="21.65" fill="#446194" />
<rect x="210.88" y="1042.35" width="10.82" height="21.65" fill="#5a8bbe" />
<rect x="232.52" y="1042.35" width="10.82" height="21.65" fill="#5a8bbe" />
<rect x="254.16" y="1042.35" width="10.82" height="21.65" fill="#446194" />
<rect x="275.80" y="1042.35" width="10.82" height="21.65" fill="#446194" />
<rect x="286.62" y="1042.35" width="10.82" height="21.65" fill="#446194" />
<rect x="308.26" y="1042.35" width="10.82" height="21.65" fill="#446194" />
<rect x="319.08" y="1042.35" width="10.82" height="21.65" fill="#9ab5d6" />
<rect x="329.90" y="1042.35" width="10.82" height="21.65" fill="#446194" />
<rect x="340.72" y="1042.35" width="10.82" height="21.65" fill="#5a8bbe" />
<rect x="351.54" y="1042.35" width="10.82" height="21.65" fill="#446194" />
<rect x="362.36" y="1042.35" width="10.82" height="21.65" fill="#5a8bbe" />
<rect x="384.00" y="1042.35" width="10.82" height="21.65" fill="#9ab5d6" />
<rect x="405.64" y="1042.35" width="10.82" height="21.65" fill="#9ab5d6" />
<rect x="416.46" y="1042.35" width="10.82" height="21.65" fill="#b4c7da" />
<rect x="427.28" y="1042.35" width="10.82" height="21.65" fill="#b4c7da" />
<rect x="438.10" y="1042.35" width="10.82" height="21.65" fill="#9ab5d6" />
<rect x="448.92" y="1042.35" width="10.82" height="21.65" fill="#5a8bbe" />
<rect x="459.74" y="1042.35" width="10.82" height="21.65" fill="#b4c7da" />
<rect x="481.38" y="1042.35" width="10.82" height="21.65" fill="#5a8bbe" />
<rect x="492.20" y="1042.35" width="10.82" height="21.65" fill="#b4c7da" />
<rect x="524.66" y="1042.35" width="10.82" height="21.65" fill="#b4c7da" />
<rect x="557.12" y="1042.35" width="10.82" height="21.65" fill="#446194" />
<rect x="589.58" y="1042.35" width="10.82" height="21.65" fill="#5a8bbe" />
<rect x="600.40" y="1042.35" width="10.82" height="21.65" fill="#5a8bbe" />
<rect x="611.22" y="1042.35" width="10.82" height="21.65" fill="#446194" />
<rect x="622.04" y="1042.35" width="10.82" height="21.65" fill="#9ab5d6" />
<rect x="632.86" y="1042.35" width="10.82" height="21.65" fill="#5a8bbe" />
<rect x="643.68" y="1042.35" width="10.82" height="21.65" fill="#b4c7da" />
</g>
<rect x="59.40" y="977.40" width="595.10" height="88.60" fill="none" stroke="#999" stroke-width="0.5" />
<line x1="54.90" y1="988.50" x2="59.40" y2="988.50" stroke="#3a3a3a" stroke-width="0.5" />
<text x="53.90" y="991.23" font-size="8.7" text-anchor="end" font-weight="normal" font-style="italic" fill="#000" >FGFR1</text>
<line x1="54.90" y1="1009.50" x2="59.40" y2="1009.50" stroke="#3a3a3a" stroke-width="0.5" />
<text x="53.90" y="1012.88" font-size="8.7" text-anchor="end" font-weight="normal" font-style="italic" fill="#000" >FGFR2</text>
<line x1="54.90" y1="1031.50" x2="59.40" y2="1031.50" stroke="#3a3a3a" stroke-width="0.5" />
<text x="53.90" y="1034.53" font-size="8.7" text-anchor="end" font-weight="normal" font-style="italic" fill="#000" >FGFR3</text>
<line x1="54.90" y1="1053.50" x2="59.40" y2="1053.50" stroke="#3a3a3a" stroke-width="0.5" />
<text x="53.90" y="1056.17" font-size="8.7" text-anchor="end" font-weight="normal" font-style="italic" fill="#000" >FGFR4</text>
<line x1="64.50" y1="972.90" x2="64.50" y2="977.40" stroke="#3a3a3a" stroke-width="0.45" />
<text x="67.41" y="971.80" font-size="7.4" text-anchor="start" font-weight="normal" font-style="normal" fill="#000" transform="rotate(-90 67.41 971.80)" stroke="#000" stroke-width="0.12">P483H</text>
<line x1="75.50" y1="972.90" x2="75.50" y2="977.40" stroke="#3a3a3a" stroke-width="0.45" />
<text x="78.23" y="971.80" font-size="7.4" text-anchor="start" font-weight="normal" font-style="normal" fill="#000" transform="rotate(-90 78.23 971.80)" stroke="#000" stroke-width="0.12">P483L</text>
<line x1="86.50" y1="972.90" x2="86.50" y2="977.40" stroke="#3a3a3a" stroke-width="0.45" />
<text x="89.05" y="971.80" font-size="7.4" text-anchor="start" font-weight="normal" font-style="normal" fill="#000" transform="rotate(-90 89.05 971.80)" stroke="#000" stroke-width="0.12">P483R</text>
<line x1="97.50" y1="972.90" x2="97.50" y2="977.40" stroke="#3a3a3a" stroke-width="0.45" />
<text x="99.87" y="971.80" font-size="7.4" text-anchor="start" font-weight="normal" font-style="normal" fill="#000" transform="rotate(-90 99.87 971.80)" stroke="#000" stroke-width="0.12">C488S</text>
<line x1="108.50" y1="972.90" x2="108.50" y2="977.40" stroke="#3a3a3a" stroke-width="0.45" />
<text x="110.69" y="971.80" font-size="7.4" text-anchor="start" font-weight="normal" font-style="normal" fill="#000" transform="rotate(-90 110.69 971.80)" stroke="#000" stroke-width="0.12">C488Y</text>
<line x1="118.50" y1="972.90" x2="118.50" y2="977.40" stroke="#3a3a3a" stroke-width="0.45" />
<text x="121.51" y="971.80" font-size="7.4" text-anchor="start" font-weight="normal" font-style="normal" fill="#000" transform="rotate(-90 121.51 971.80)" stroke="#000" stroke-width="0.12">C488F</text>
<line x1="129.50" y1="972.90" x2="129.50" y2="977.40" stroke="#3a3a3a" stroke-width="0.45" />
<text x="132.33" y="971.80" font-size="7.4" text-anchor="start" font-weight="normal" font-style="normal" fill="#000" transform="rotate(-90 132.33 971.80)" stroke="#000" stroke-width="0.12">F489S</text>
<line x1="140.50" y1="972.90" x2="140.50" y2="977.40" stroke="#3a3a3a" stroke-width="0.45" />
<text x="143.15" y="971.80" font-size="7.4" text-anchor="start" font-weight="normal" font-style="normal" fill="#000" transform="rotate(-90 143.15 971.80)" stroke="#000" stroke-width="0.12">F489C</text>
<line x1="151.50" y1="972.90" x2="151.50" y2="977.40" stroke="#3a3a3a" stroke-width="0.45" />
<text x="153.97" y="971.80" font-size="7.4" text-anchor="start" font-weight="normal" font-style="normal" fill="#000" transform="rotate(-90 153.97 971.80)" stroke="#000" stroke-width="0.12">G490A</text>
<line x1="162.50" y1="972.90" x2="162.50" y2="977.40" stroke="#3a3a3a" stroke-width="0.45" />
<text x="164.79" y="971.80" font-size="7.4" text-anchor="start" font-weight="normal" font-style="normal" fill="#000" transform="rotate(-90 164.79 971.80)" stroke="#000" stroke-width="0.12">V492A</text>
<line x1="173.50" y1="972.90" x2="173.50" y2="977.40" stroke="#3a3a3a" stroke-width="0.45" />
<text x="175.61" y="971.80" font-size="7.4" text-anchor="start" font-weight="normal" font-style="normal" fill="#000" transform="rotate(-90 175.61 971.80)" stroke="#000" stroke-width="0.12">D524Y</text>
<line x1="183.50" y1="972.90" x2="183.50" y2="977.40" stroke="#3a3a3a" stroke-width="0.45" />
<text x="186.43" y="971.80" font-size="7.4" text-anchor="start" font-weight="normal" font-style="normal" fill="#000" transform="rotate(-90 186.43 971.80)" stroke="#000" stroke-width="0.12">D527Y</text>
<line x1="194.50" y1="972.90" x2="194.50" y2="977.40" stroke="#3a3a3a" stroke-width="0.45" />
<text x="197.25" y="971.80" font-size="7.4" text-anchor="start" font-weight="normal" font-style="normal" fill="#000" transform="rotate(-90 197.25 971.80)" stroke="#000" stroke-width="0.12">D527H</text>
<line x1="205.50" y1="972.90" x2="205.50" y2="977.40" stroke="#3a3a3a" stroke-width="0.45" />
<text x="208.07" y="971.80" font-size="7.4" text-anchor="start" font-weight="normal" font-style="normal" fill="#000" transform="rotate(-90 208.07 971.80)" stroke="#000" stroke-width="0.12">D527V</text>
<line x1="216.50" y1="972.90" x2="216.50" y2="977.40" stroke="#3a3a3a" stroke-width="0.45" />
<text x="218.89" y="971.80" font-size="7.4" text-anchor="start" font-weight="normal" font-style="normal" fill="#000" transform="rotate(-90 218.89 971.80)" stroke="#000" stroke-width="0.12">D527A</text>
<line x1="227.50" y1="972.90" x2="227.50" y2="977.40" stroke="#3a3a3a" stroke-width="0.45" />
<text x="229.71" y="971.80" font-size="7.4" text-anchor="start" font-weight="normal" font-style="normal" fill="#000" transform="rotate(-90 229.71 971.80)" stroke="#000" stroke-width="0.12">E533K</text>
<line x1="237.50" y1="972.90" x2="237.50" y2="977.40" stroke="#3a3a3a" stroke-width="0.45" />
<text x="240.53" y="971.80" font-size="7.4" text-anchor="start" font-weight="normal" font-style="normal" fill="#000" transform="rotate(-90 240.53 971.80)" stroke="#000" stroke-width="0.12">M535L</text>
<line x1="248.50" y1="972.90" x2="248.50" y2="977.40" stroke="#3a3a3a" stroke-width="0.45" />
<text x="251.35" y="971.80" font-size="7.4" text-anchor="start" font-weight="normal" font-style="normal" fill="#000" transform="rotate(-90 251.35 971.80)" stroke="#000" stroke-width="0.12">M535I</text>
<line x1="259.50" y1="972.90" x2="259.50" y2="977.40" stroke="#3a3a3a" stroke-width="0.45" />
<text x="262.17" y="971.80" font-size="7.4" text-anchor="start" font-weight="normal" font-style="normal" fill="#000" transform="rotate(-90 262.17 971.80)" stroke="#000" stroke-width="0.12">I544V</text>
<line x1="270.50" y1="972.90" x2="270.50" y2="977.40" stroke="#3a3a3a" stroke-width="0.45" />
<text x="272.99" y="971.80" font-size="7.4" text-anchor="start" font-weight="normal" font-style="normal" fill="#000" transform="rotate(-90 272.99 971.80)" stroke="#000" stroke-width="0.12">I545T</text>
<line x1="281.50" y1="972.90" x2="281.50" y2="977.40" stroke="#3a3a3a" stroke-width="0.45" />
<text x="283.81" y="971.80" font-size="7.4" text-anchor="start" font-weight="normal" font-style="normal" fill="#000" transform="rotate(-90 283.81 971.80)" stroke="#000" stroke-width="0.12">N546H</text>
<line x1="292.50" y1="972.90" x2="292.50" y2="977.40" stroke="#3a3a3a" stroke-width="0.45" />
<text x="294.63" y="971.80" font-size="7.4" text-anchor="start" font-weight="normal" font-style="normal" fill="#000" transform="rotate(-90 294.63 971.80)" stroke="#000" stroke-width="0.12">N546D</text>
<line x1="302.50" y1="972.90" x2="302.50" y2="977.40" stroke="#3a3a3a" stroke-width="0.45" />
<text x="305.45" y="971.80" font-size="7.4" text-anchor="start" font-weight="normal" font-style="normal" fill="#000" transform="rotate(-90 305.45 971.80)" stroke="#000" stroke-width="0.12">N546I</text>
<line x1="313.50" y1="972.90" x2="313.50" y2="977.40" stroke="#3a3a3a" stroke-width="0.45" />
<text x="316.27" y="971.80" font-size="7.4" text-anchor="start" font-weight="normal" font-style="normal" fill="#000" transform="rotate(-90 316.27 971.80)" stroke="#000" stroke-width="0.12">N546T</text>
<line x1="324.50" y1="972.90" x2="324.50" y2="977.40" stroke="#3a3a3a" stroke-width="0.45" />
<text x="327.09" y="971.80" font-size="7.4" text-anchor="start" font-weight="normal" font-style="normal" fill="#000" transform="rotate(-90 327.09 971.80)" stroke="#000" stroke-width="0.12">N546S</text>
<line x1="335.50" y1="972.90" x2="335.50" y2="977.40" stroke="#3a3a3a" stroke-width="0.45" />
<text x="337.91" y="971.80" font-size="7.4" text-anchor="start" font-weight="normal" font-style="normal" fill="#000" transform="rotate(-90 337.91 971.80)" stroke="#000" stroke-width="0.12">N546K</text>
<line x1="346.50" y1="972.90" x2="346.50" y2="977.40" stroke="#3a3a3a" stroke-width="0.45" />
<text x="348.73" y="971.80" font-size="7.4" text-anchor="start" font-weight="normal" font-style="normal" fill="#000" transform="rotate(-90 348.73 971.80)" stroke="#000" stroke-width="0.12">V559L</text>
<line x1="356.50" y1="972.90" x2="356.50" y2="977.40" stroke="#3a3a3a" stroke-width="0.45" />
<text x="359.55" y="971.80" font-size="7.4" text-anchor="start" font-weight="normal" font-style="normal" fill="#000" transform="rotate(-90 359.55 971.80)" stroke="#000" stroke-width="0.12">V561L</text>
<line x1="367.50" y1="972.90" x2="367.50" y2="977.40" stroke="#3a3a3a" stroke-width="0.45" />
<text x="370.37" y="971.80" font-size="7.4" text-anchor="start" font-weight="normal" font-style="normal" fill="#000" transform="rotate(-90 370.37 971.80)" stroke="#000" stroke-width="0.12">V561A</text>
<line x1="378.50" y1="972.90" x2="378.50" y2="977.40" stroke="#3a3a3a" stroke-width="0.45" />
<text x="381.19" y="971.80" font-size="7.4" text-anchor="start" font-weight="normal" font-style="normal" fill="#000" transform="rotate(-90 381.19 971.80)" stroke="#000" stroke-width="0.12">E562K</text>
<line x1="389.50" y1="972.90" x2="389.50" y2="977.40" stroke="#3a3a3a" stroke-width="0.45" />
<text x="392.01" y="971.80" font-size="7.4" text-anchor="start" font-weight="normal" font-style="normal" fill="#000" transform="rotate(-90 392.01 971.80)" stroke="#000" stroke-width="0.12">E562Q</text>
<line x1="400.50" y1="972.90" x2="400.50" y2="977.40" stroke="#3a3a3a" stroke-width="0.45" />
<text x="402.83" y="971.80" font-size="7.4" text-anchor="start" font-weight="normal" font-style="normal" fill="#000" transform="rotate(-90 402.83 971.80)" stroke="#000" stroke-width="0.12">E562V</text>
<line x1="411.50" y1="972.90" x2="411.50" y2="977.40" stroke="#3a3a3a" stroke-width="0.45" />
<text x="413.65" y="971.80" font-size="7.4" text-anchor="start" font-weight="normal" font-style="normal" fill="#000" transform="rotate(-90 413.65 971.80)" stroke="#000" stroke-width="0.12">E562A</text>
<line x1="421.50" y1="972.90" x2="421.50" y2="977.40" stroke="#3a3a3a" stroke-width="0.45" />
<text x="424.47" y="971.80" font-size="7.4" text-anchor="start" font-weight="normal" font-style="normal" fill="#000" transform="rotate(-90 424.47 971.80)" stroke="#000" stroke-width="0.12">E562G</text>
<line x1="432.50" y1="972.90" x2="432.50" y2="977.40" stroke="#3a3a3a" stroke-width="0.45" />
<text x="435.29" y="971.80" font-size="7.4" text-anchor="start" font-weight="normal" font-style="normal" fill="#000" transform="rotate(-90 435.29 971.80)" stroke="#000" stroke-width="0.12">G610A</text>
<line x1="443.50" y1="972.90" x2="443.50" y2="977.40" stroke="#3a3a3a" stroke-width="0.45" />
<text x="446.11" y="971.80" font-size="7.4" text-anchor="start" font-weight="normal" font-style="normal" fill="#000" transform="rotate(-90 446.11 971.80)" stroke="#000" stroke-width="0.12">L614M</text>
<line x1="454.50" y1="972.90" x2="454.50" y2="977.40" stroke="#3a3a3a" stroke-width="0.45" />
<text x="456.93" y="971.80" font-size="7.4" text-anchor="start" font-weight="normal" font-style="normal" fill="#000" transform="rotate(-90 456.93 971.80)" stroke="#000" stroke-width="0.12">L614V</text>
<line x1="465.50" y1="972.90" x2="465.50" y2="977.40" stroke="#3a3a3a" stroke-width="0.45" />
<text x="467.75" y="971.80" font-size="7.4" text-anchor="start" font-weight="normal" font-style="normal" fill="#000" transform="rotate(-90 467.75 971.80)" stroke="#000" stroke-width="0.12">S616F</text>
<line x1="475.50" y1="972.90" x2="475.50" y2="977.40" stroke="#3a3a3a" stroke-width="0.45" />
<text x="478.57" y="971.80" font-size="7.4" text-anchor="start" font-weight="normal" font-style="normal" fill="#000" transform="rotate(-90 478.57 971.80)" stroke="#000" stroke-width="0.12">L630M</text>
<line x1="486.50" y1="972.90" x2="486.50" y2="977.40" stroke="#3a3a3a" stroke-width="0.45" />
<text x="489.39" y="971.80" font-size="7.4" text-anchor="start" font-weight="normal" font-style="normal" fill="#000" transform="rotate(-90 489.39 971.80)" stroke="#000" stroke-width="0.12">L630V</text>
<line x1="497.50" y1="972.90" x2="497.50" y2="977.40" stroke="#3a3a3a" stroke-width="0.45" />
<text x="500.21" y="971.80" font-size="7.4" text-anchor="start" font-weight="normal" font-style="normal" fill="#000" transform="rotate(-90 500.21 971.80)" stroke="#000" stroke-width="0.12">T632S</text>
<line x1="508.50" y1="972.90" x2="508.50" y2="977.40" stroke="#3a3a3a" stroke-width="0.45" />
<text x="511.03" y="971.80" font-size="7.4" text-anchor="start" font-weight="normal" font-style="normal" fill="#000" transform="rotate(-90 511.03 971.80)" stroke="#000" stroke-width="0.12">T632P</text>
<line x1="519.50" y1="972.90" x2="519.50" y2="977.40" stroke="#3a3a3a" stroke-width="0.45" />
<text x="521.85" y="971.80" font-size="7.4" text-anchor="start" font-weight="normal" font-style="normal" fill="#000" transform="rotate(-90 521.85 971.80)" stroke="#000" stroke-width="0.12">T632I</text>
<line x1="530.50" y1="972.90" x2="530.50" y2="977.40" stroke="#3a3a3a" stroke-width="0.45" />
<text x="532.67" y="971.80" font-size="7.4" text-anchor="start" font-weight="normal" font-style="normal" fill="#000" transform="rotate(-90 532.67 971.80)" stroke="#000" stroke-width="0.12">M637I</text>
<line x1="540.50" y1="972.90" x2="540.50" y2="977.40" stroke="#3a3a3a" stroke-width="0.45" />
<text x="543.49" y="971.80" font-size="7.4" text-anchor="start" font-weight="normal" font-style="normal" fill="#000" transform="rotate(-90 543.49 971.80)" stroke="#000" stroke-width="0.12">K638Q</text>
<line x1="551.50" y1="972.90" x2="551.50" y2="977.40" stroke="#3a3a3a" stroke-width="0.45" />
<text x="554.31" y="971.80" font-size="7.4" text-anchor="start" font-weight="normal" font-style="normal" fill="#000" transform="rotate(-90 554.31 971.80)" stroke="#000" stroke-width="0.12">K638T</text>
<line x1="562.50" y1="972.90" x2="562.50" y2="977.40" stroke="#3a3a3a" stroke-width="0.45" />
<text x="565.13" y="971.80" font-size="7.4" text-anchor="start" font-weight="normal" font-style="normal" fill="#000" transform="rotate(-90 565.13 971.80)" stroke="#000" stroke-width="0.12">K638R</text>
<line x1="573.50" y1="972.90" x2="573.50" y2="977.40" stroke="#3a3a3a" stroke-width="0.45" />
<text x="575.95" y="971.80" font-size="7.4" text-anchor="start" font-weight="normal" font-style="normal" fill="#000" transform="rotate(-90 575.95 971.80)" stroke="#000" stroke-width="0.12">K638N</text>
<line x1="584.50" y1="972.90" x2="584.50" y2="977.40" stroke="#3a3a3a" stroke-width="0.45" />
<text x="586.77" y="971.80" font-size="7.4" text-anchor="start" font-weight="normal" font-style="normal" fill="#000" transform="rotate(-90 586.77 971.80)" stroke="#000" stroke-width="0.12">A640S</text>
<line x1="594.50" y1="972.90" x2="594.50" y2="977.40" stroke="#3a3a3a" stroke-width="0.45" />
<text x="597.59" y="971.80" font-size="7.4" text-anchor="start" font-weight="normal" font-style="normal" fill="#000" transform="rotate(-90 597.59 971.80)" stroke="#000" stroke-width="0.12">A640G</text>
<line x1="605.50" y1="972.90" x2="605.50" y2="977.40" stroke="#3a3a3a" stroke-width="0.45" />
<text x="608.41" y="971.80" font-size="7.4" text-anchor="start" font-weight="normal" font-style="normal" fill="#000" transform="rotate(-90 608.41 971.80)" stroke="#000" stroke-width="0.12">K656Q</text>
<line x1="616.50" y1="972.90" x2="616.50" y2="977.40" stroke="#3a3a3a" stroke-width="0.45" />
<text x="619.23" y="971.80" font-size="7.4" text-anchor="start" font-weight="normal" font-style="normal" fill="#000" transform="rotate(-90 619.23 971.80)" stroke="#000" stroke-width="0.12">K656E</text>
<line x1="627.50" y1="972.90" x2="627.50" y2="977.40" stroke="#3a3a3a" stroke-width="0.45" />
<text x="630.05" y="971.80" font-size="7.4" text-anchor="start" font-weight="normal" font-style="normal" fill="#000" transform="rotate(-90 630.05 971.80)" stroke="#000" stroke-width="0.12">K656T</text>
<line x1="638.50" y1="972.90" x2="638.50" y2="977.40" stroke="#3a3a3a" stroke-width="0.45" />
<text x="640.87" y="971.80" font-size="7.4" text-anchor="start" font-weight="normal" font-style="normal" fill="#000" transform="rotate(-90 640.87 971.80)" stroke="#000" stroke-width="0.12">R675G</text>
<line x1="649.50" y1="972.90" x2="649.50" y2="977.40" stroke="#3a3a3a" stroke-width="0.45" />
<text x="651.69" y="971.80" font-size="7.4" text-anchor="start" font-weight="normal" font-style="normal" fill="#000" transform="rotate(-90 651.69 971.80)" stroke="#000" stroke-width="0.12">E715K</text>
<text x="670.30" y="1021.70" font-size="14.2" text-anchor="middle" font-weight="bold" font-style="normal" fill="#2f5597" transform="rotate(-90 670.30 1021.70)" >FutR</text>
</svg>
</body></html>
